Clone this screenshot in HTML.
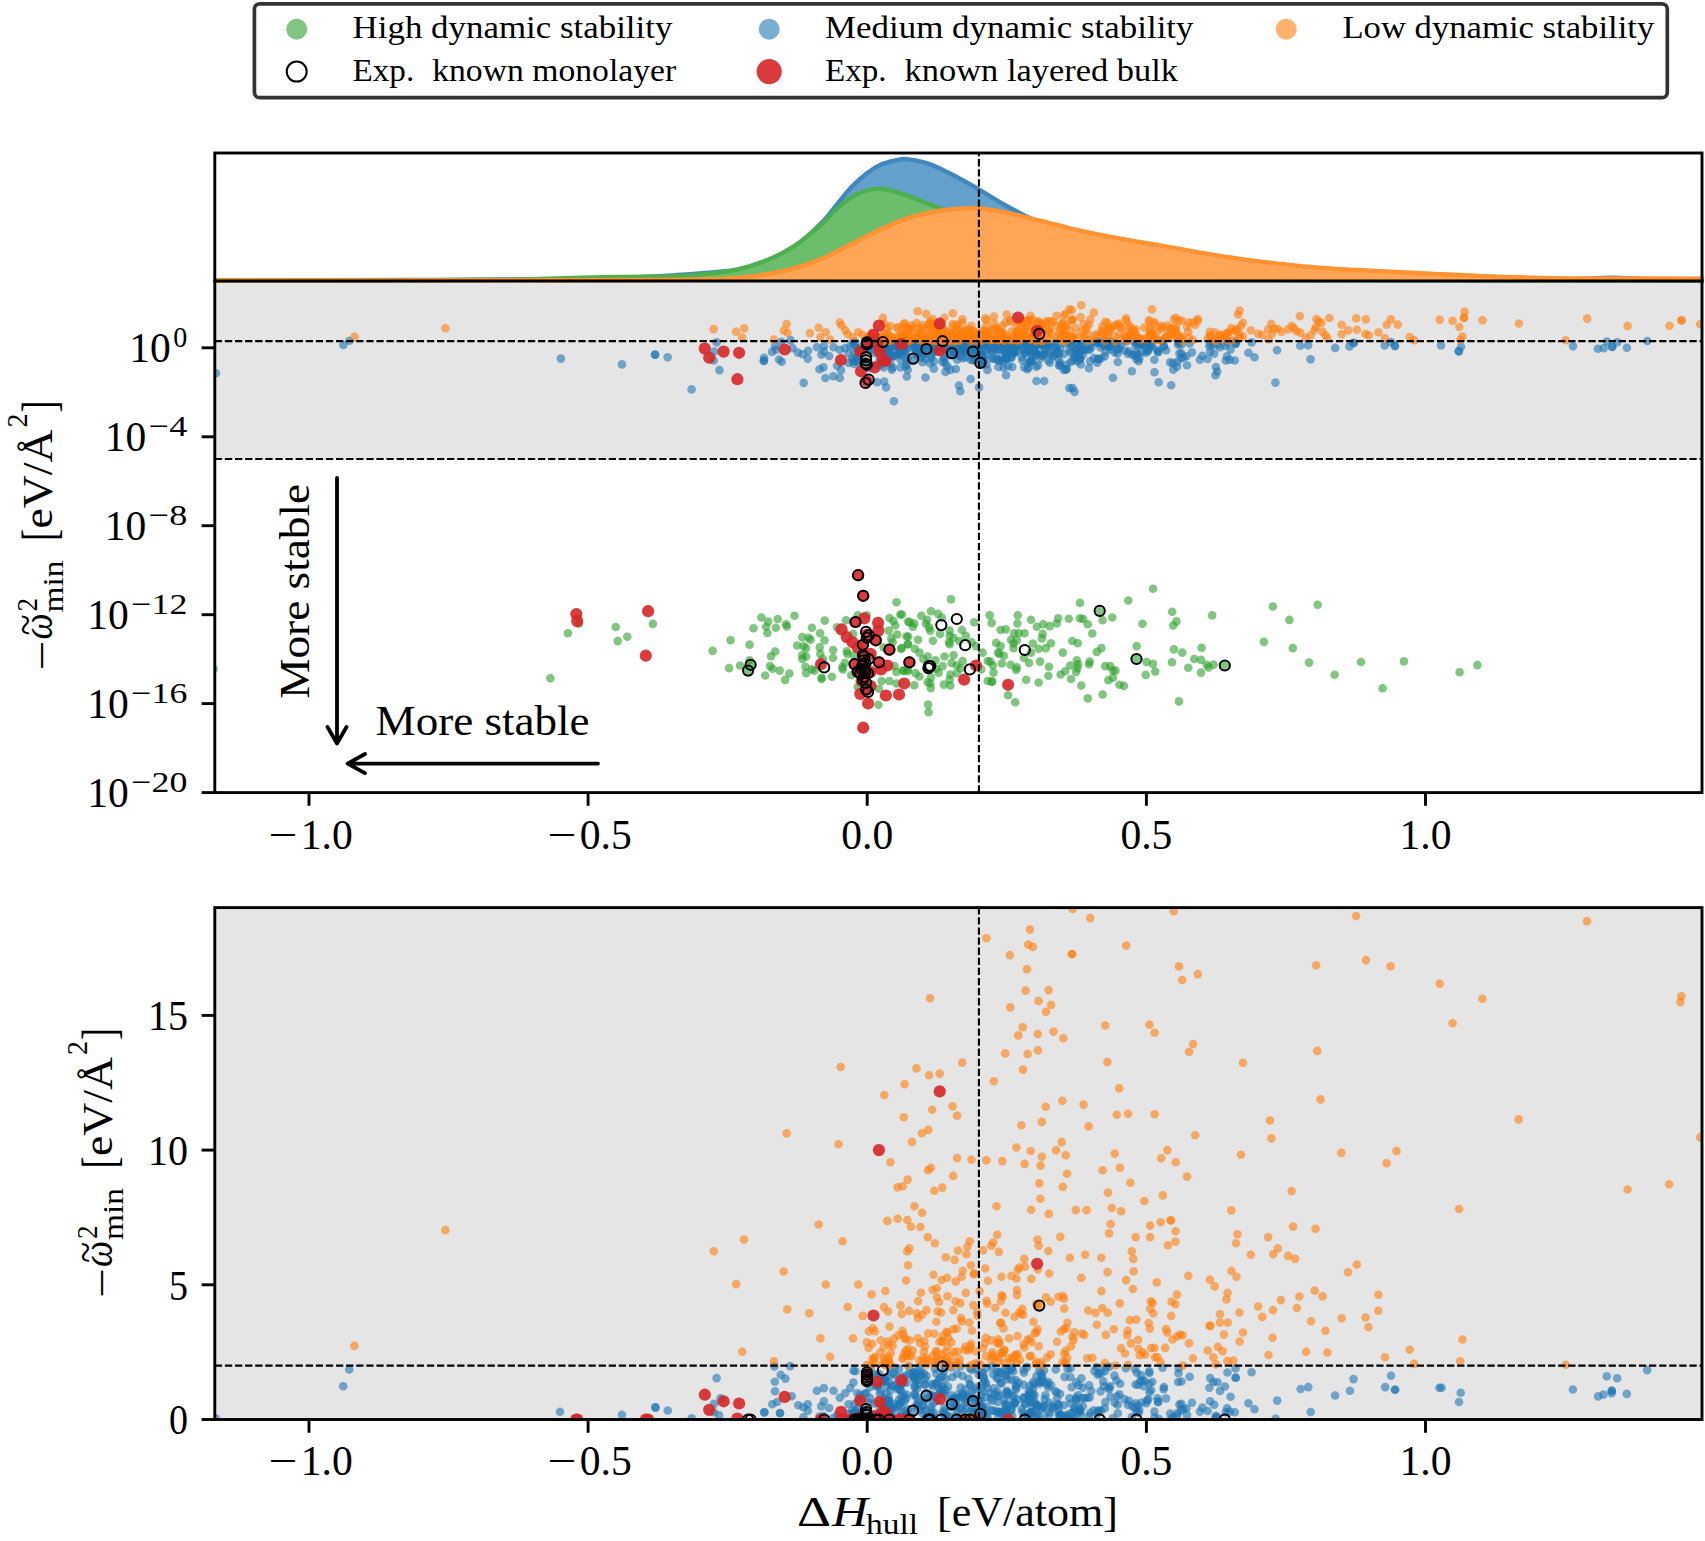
<!DOCTYPE html>
<html><head><meta charset="utf-8"><title>Dynamic stability vs hull energy</title>
<style>html,body{margin:0;padding:0;background:#fff}svg{display:block}</style></head>
<body>
<svg width="1705" height="1541" viewBox="0 0 1705 1541" font-family='"Liberation Serif", "DejaVu Serif", serif' fill="#000">
<defs>
<clipPath id="cA"><rect x="214.8" y="281.0" width="1487.2" height="511.6"/></clipPath>
<clipPath id="cB"><rect x="214.8" y="907.6" width="1487.2" height="511.9"/></clipPath>
<clipPath id="cK"><rect x="214.8" y="153.0" width="1490.2" height="130.0"/></clipPath>
</defs>
<rect width="1705" height="1541" fill="#fff"/>
<rect x="214.8" y="281.0" width="1487.2" height="178.3" fill="#e5e5e5"/>
<rect x="214.8" y="907.6" width="1487.2" height="511.9" fill="#e5e5e5"/>
<g clip-path="url(#cK)">
<path d="M214.8,280.5C245.7,280.4 342.8,280.2 400.0,280.0C457.2,279.8 521.8,279.3 558.0,279.0C594.2,278.7 597.3,278.8 617.0,278.1C636.7,277.5 656.4,276.4 676.0,275.1C695.6,273.8 719.9,272.2 734.6,270.2C749.3,268.2 754.3,266.6 764.0,262.9C773.7,259.2 783.2,255.1 793.0,248.2C802.8,241.3 815.3,229.1 822.6,221.8C829.9,214.5 832.1,210.2 837.0,204.3C841.9,198.4 847.1,191.7 852.0,186.6C856.9,181.5 861.8,177.2 866.6,173.5C871.4,169.8 876.1,166.8 881.0,164.6C885.9,162.4 891.8,161.2 896.0,160.3C900.2,159.4 901.7,158.7 906.5,159.1C911.3,159.5 919.4,161.0 925.0,162.6C930.6,164.2 932.7,165.0 940.0,168.5C947.3,172.0 959.2,178.1 969.0,183.6C978.8,189.1 989.5,196.1 998.5,201.3C1007.5,206.5 1012.8,209.4 1023.0,214.6C1033.2,219.8 1047.2,227.3 1060.0,232.6C1072.8,237.9 1085.0,242.3 1100.0,246.6C1115.0,250.9 1133.3,255.3 1150.0,258.6C1166.7,261.9 1175.0,263.8 1200.0,266.6C1225.0,269.4 1266.7,273.5 1300.0,275.6C1333.3,277.7 1366.7,278.3 1400.0,279.0C1433.3,279.7 1471.7,279.9 1500.0,280.0C1528.3,280.1 1551.5,279.7 1570.0,279.3C1588.5,278.9 1597.7,277.8 1611.0,277.8C1624.3,277.8 1634.5,278.9 1650.0,279.3C1665.5,279.8 1695.0,280.3 1704.0,280.5L1704.0,281.0L214.8,281.0Z" fill="#63a0cc"/>
<path d="M214.8,280.5C245.7,280.4 342.8,280.2 400.0,280.0C457.2,279.8 521.8,279.3 558.0,279.0C594.2,278.7 597.3,278.8 617.0,278.1C636.7,277.5 656.4,276.4 676.0,275.1C695.6,273.8 719.9,272.2 734.6,270.2C749.3,268.2 754.3,266.6 764.0,262.9C773.7,259.2 783.2,255.1 793.0,248.2C802.8,241.3 815.3,229.1 822.6,221.8C829.9,214.5 832.1,210.2 837.0,204.3C841.9,198.4 847.1,191.7 852.0,186.6C856.9,181.5 861.8,177.2 866.6,173.5C871.4,169.8 876.1,166.8 881.0,164.6C885.9,162.4 891.8,161.2 896.0,160.3C900.2,159.4 901.7,158.7 906.5,159.1C911.3,159.5 919.4,161.0 925.0,162.6C930.6,164.2 932.7,165.0 940.0,168.5C947.3,172.0 959.2,178.1 969.0,183.6C978.8,189.1 989.5,196.1 998.5,201.3C1007.5,206.5 1012.8,209.4 1023.0,214.6C1033.2,219.8 1047.2,227.3 1060.0,232.6C1072.8,237.9 1085.0,242.3 1100.0,246.6C1115.0,250.9 1133.3,255.3 1150.0,258.6C1166.7,261.9 1175.0,263.8 1200.0,266.6C1225.0,269.4 1266.7,273.5 1300.0,275.6C1333.3,277.7 1366.7,278.3 1400.0,279.0C1433.3,279.7 1471.7,279.9 1500.0,280.0C1528.3,280.1 1551.5,279.7 1570.0,279.3C1588.5,278.9 1597.7,277.8 1611.0,277.8C1624.3,277.8 1634.5,278.9 1650.0,279.3C1665.5,279.8 1695.0,280.3 1704.0,280.5" fill="none" stroke="#4088bf" stroke-width="4.4"/>
<path d="M214.8,280.6C245.7,280.6 352.5,280.5 400.0,280.4C447.5,280.3 473.6,280.1 500.0,279.8C526.4,279.5 539.1,278.9 558.6,278.4C578.1,277.9 597.4,277.4 617.0,277.0C636.6,276.6 661.3,276.6 676.0,276.1C690.7,275.6 695.2,275.1 705.0,274.1C714.8,273.1 724.8,272.3 734.6,270.2C744.4,268.1 754.3,265.3 764.0,261.4C773.7,257.5 783.2,253.1 793.0,246.8C802.8,240.4 815.3,229.7 822.6,223.3C829.9,216.9 832.1,213.0 837.0,208.6C841.9,204.2 847.1,199.9 852.0,196.9C856.9,193.9 861.8,191.9 866.6,190.5C871.4,189.1 876.1,188.5 881.0,188.7C885.9,188.9 891.1,190.5 896.0,191.9C900.9,193.3 905.8,195.1 910.6,196.9C915.4,198.7 920.1,200.8 925.0,202.8C929.9,204.7 932.7,205.3 940.0,208.6C947.3,211.9 959.2,217.9 969.0,222.6C978.8,227.3 986.7,231.6 998.5,236.6C1010.3,241.6 1026.4,248.1 1040.0,252.6C1053.6,257.1 1066.7,260.6 1080.0,263.6C1093.3,266.6 1106.7,268.7 1120.0,270.6C1133.3,272.5 1146.7,273.9 1160.0,275.1C1173.3,276.3 1185.0,277.0 1200.0,277.6C1215.0,278.2 1233.3,278.6 1250.0,279.0C1266.7,279.4 1224.3,279.8 1300.0,280.0C1375.7,280.2 1636.7,280.4 1704.0,280.5L1704.0,281.0L214.8,281.0Z" fill="#6cbe6c"/>
<path d="M214.8,280.6C245.7,280.6 352.5,280.5 400.0,280.4C447.5,280.3 473.6,280.1 500.0,279.8C526.4,279.5 539.1,278.9 558.6,278.4C578.1,277.9 597.4,277.4 617.0,277.0C636.6,276.6 661.3,276.6 676.0,276.1C690.7,275.6 695.2,275.1 705.0,274.1C714.8,273.1 724.8,272.3 734.6,270.2C744.4,268.1 754.3,265.3 764.0,261.4C773.7,257.5 783.2,253.1 793.0,246.8C802.8,240.4 815.3,229.7 822.6,223.3C829.9,216.9 832.1,213.0 837.0,208.6C841.9,204.2 847.1,199.9 852.0,196.9C856.9,193.9 861.8,191.9 866.6,190.5C871.4,189.1 876.1,188.5 881.0,188.7C885.9,188.9 891.1,190.5 896.0,191.9C900.9,193.3 905.8,195.1 910.6,196.9C915.4,198.7 920.1,200.8 925.0,202.8C929.9,204.7 932.7,205.3 940.0,208.6C947.3,211.9 959.2,217.9 969.0,222.6C978.8,227.3 986.7,231.6 998.5,236.6C1010.3,241.6 1026.4,248.1 1040.0,252.6C1053.6,257.1 1066.7,260.6 1080.0,263.6C1093.3,266.6 1106.7,268.7 1120.0,270.6C1133.3,272.5 1146.7,273.9 1160.0,275.1C1173.3,276.3 1185.0,277.0 1200.0,277.6C1215.0,278.2 1233.3,278.6 1250.0,279.0C1266.7,279.4 1224.3,279.8 1300.0,280.0C1375.7,280.2 1636.7,280.4 1704.0,280.5" fill="none" stroke="#4eaf4e" stroke-width="4.4"/>
<path d="M214.8,280.5C262.3,280.5 427.5,280.4 500.0,280.3C572.5,280.2 615.8,280.2 650.0,280.0C684.2,279.8 690.9,279.6 705.0,279.3C719.1,279.0 724.8,278.9 734.6,278.1C744.4,277.3 754.3,276.2 764.0,274.6C773.7,273.0 783.2,271.3 793.0,268.6C802.8,265.9 812.8,262.6 822.6,258.5C832.4,254.4 842.3,248.7 852.0,243.8C861.7,238.9 871.2,233.6 881.0,229.2C890.8,224.8 900.8,220.5 910.6,217.4C920.4,214.3 929.9,212.2 940.0,210.7C950.1,209.2 961.2,208.1 971.0,208.2C980.8,208.3 987.7,209.1 999.0,211.1C1010.3,213.1 1025.7,217.2 1039.0,220.4C1052.3,223.6 1065.5,227.3 1078.8,230.3C1092.1,233.3 1105.4,235.8 1118.7,238.3C1132.0,240.8 1145.2,242.8 1158.5,245.1C1171.8,247.4 1185.1,250.0 1198.4,252.3C1211.7,254.5 1225.0,256.7 1238.3,258.6C1251.6,260.5 1264.7,262.1 1278.0,263.6C1291.3,265.1 1301.0,266.4 1318.0,267.6C1335.0,268.9 1361.0,270.1 1379.7,271.1C1398.4,272.1 1413.5,272.8 1430.0,273.6C1446.5,274.4 1458.3,275.1 1479.0,275.9C1499.7,276.7 1530.5,277.8 1554.0,278.2C1577.5,278.6 1595.0,278.3 1620.0,278.4C1645.0,278.5 1690.0,278.7 1704.0,278.8L1704.0,281.0L214.8,281.0Z" fill="#ffa556"/>
<path d="M214.8,280.5C262.3,280.5 427.5,280.4 500.0,280.3C572.5,280.2 615.8,280.2 650.0,280.0C684.2,279.8 690.9,279.6 705.0,279.3C719.1,279.0 724.8,278.9 734.6,278.1C744.4,277.3 754.3,276.2 764.0,274.6C773.7,273.0 783.2,271.3 793.0,268.6C802.8,265.9 812.8,262.6 822.6,258.5C832.4,254.4 842.3,248.7 852.0,243.8C861.7,238.9 871.2,233.6 881.0,229.2C890.8,224.8 900.8,220.5 910.6,217.4C920.4,214.3 929.9,212.2 940.0,210.7C950.1,209.2 961.2,208.1 971.0,208.2C980.8,208.3 987.7,209.1 999.0,211.1C1010.3,213.1 1025.7,217.2 1039.0,220.4C1052.3,223.6 1065.5,227.3 1078.8,230.3C1092.1,233.3 1105.4,235.8 1118.7,238.3C1132.0,240.8 1145.2,242.8 1158.5,245.1C1171.8,247.4 1185.1,250.0 1198.4,252.3C1211.7,254.5 1225.0,256.7 1238.3,258.6C1251.6,260.5 1264.7,262.1 1278.0,263.6C1291.3,265.1 1301.0,266.4 1318.0,267.6C1335.0,268.9 1361.0,270.1 1379.7,271.1C1398.4,272.1 1413.5,272.8 1430.0,273.6C1446.5,274.4 1458.3,275.1 1479.0,275.9C1499.7,276.7 1530.5,277.8 1554.0,278.2C1577.5,278.6 1595.0,278.3 1620.0,278.4C1645.0,278.5 1690.0,278.7 1704.0,278.8" fill="none" stroke="#ff9232" stroke-width="4.4"/>
</g>
<g clip-path="url(#cA)" fill="#2ca02c" fill-opacity="0.6" ><circle cx="712.6" cy="650.9" r="4.3"/><circle cx="730.6" cy="640.3" r="4.3"/><circle cx="729.1" cy="668.1" r="4.3"/><circle cx="740.1" cy="665.5" r="4.3"/><circle cx="749.6" cy="644.6" r="4.3"/><circle cx="749.6" cy="660.3" r="4.3"/><circle cx="750.6" cy="664.8" r="4.3"/><circle cx="748.1" cy="670.6" r="4.3"/><circle cx="753.5" cy="628.3" r="4.3"/><circle cx="761.4" cy="617.5" r="4.3"/><circle cx="768.1" cy="621.6" r="4.3"/><circle cx="766.1" cy="626.8" r="4.3"/><circle cx="767.4" cy="633.0" r="4.3"/><circle cx="777.7" cy="619.0" r="4.3"/><circle cx="775.8" cy="627.7" r="4.3"/><circle cx="786.1" cy="624.2" r="4.3"/><circle cx="786.8" cy="626.4" r="4.3"/><circle cx="794.5" cy="615.8" r="4.3"/><circle cx="765.2" cy="675.5" r="4.3"/><circle cx="771.0" cy="656.2" r="4.3"/><circle cx="775.2" cy="651.5" r="4.3"/><circle cx="770.0" cy="666.1" r="4.3"/><circle cx="772.6" cy="668.7" r="4.3"/><circle cx="779.7" cy="670.6" r="4.3"/><circle cx="789.4" cy="673.5" r="4.3"/><circle cx="785.1" cy="679.9" r="4.3"/><circle cx="797.1" cy="645.5" r="4.3"/><circle cx="802.3" cy="637.1" r="4.3"/><circle cx="808.7" cy="637.7" r="4.3"/><circle cx="810.6" cy="639.7" r="4.3"/><circle cx="803.5" cy="646.1" r="4.3"/><circle cx="806.1" cy="648.1" r="4.3"/><circle cx="802.3" cy="655.2" r="4.3"/><circle cx="806.1" cy="656.5" r="4.3"/><circle cx="802.3" cy="659.0" r="4.3"/><circle cx="805.5" cy="666.8" r="4.3"/><circle cx="811.9" cy="669.4" r="4.3"/><circle cx="806.1" cy="673.2" r="4.3"/><circle cx="814.5" cy="670.6" r="4.3"/><circle cx="811.9" cy="627.8" r="4.3"/><circle cx="824.8" cy="620.6" r="4.3"/><circle cx="820.1" cy="633.2" r="4.3"/><circle cx="824.5" cy="640.3" r="4.3"/><circle cx="819.7" cy="647.4" r="4.3"/><circle cx="820.3" cy="653.9" r="4.3"/><circle cx="822.9" cy="659.0" r="4.3"/><circle cx="833.2" cy="650.0" r="4.3"/><circle cx="833.0" cy="657.7" r="4.3"/><circle cx="821.6" cy="677.7" r="4.3"/><circle cx="821.6" cy="679.0" r="4.3"/><circle cx="831.9" cy="676.8" r="4.3"/><circle cx="837.1" cy="627.4" r="4.3"/><circle cx="846.1" cy="620.3" r="4.3"/><circle cx="846.8" cy="651.3" r="4.3"/><circle cx="847.4" cy="653.9" r="4.3"/><circle cx="844.8" cy="662.9" r="4.3"/><circle cx="842.3" cy="667.4" r="4.3"/><circle cx="842.9" cy="669.4" r="4.3"/><circle cx="853.2" cy="633.9" r="4.3"/><circle cx="853.9" cy="655.2" r="4.3"/><circle cx="851.3" cy="675.2" r="4.3"/><circle cx="857.7" cy="615.2" r="4.3"/><circle cx="866.8" cy="615.2" r="4.3"/><circle cx="896.5" cy="602.3" r="4.3"/><circle cx="900.3" cy="614.5" r="4.3"/><circle cx="889.4" cy="618.0" r="4.3"/><circle cx="893.2" cy="621.0" r="4.3"/><circle cx="895.2" cy="625.5" r="4.3"/><circle cx="888.7" cy="630.6" r="4.3"/><circle cx="897.1" cy="634.5" r="4.3"/><circle cx="891.3" cy="638.4" r="4.3"/><circle cx="892.6" cy="642.3" r="4.3"/><circle cx="883.5" cy="647.4" r="4.3"/><circle cx="901.0" cy="648.7" r="4.3"/><circle cx="908.1" cy="636.5" r="4.3"/><circle cx="908.1" cy="621.6" r="4.3"/><circle cx="908.1" cy="644.2" r="4.3"/><circle cx="894.5" cy="666.1" r="4.3"/><circle cx="896.5" cy="671.9" r="4.3"/><circle cx="902.9" cy="670.6" r="4.3"/><circle cx="889.4" cy="681.0" r="4.3"/><circle cx="881.6" cy="681.0" r="4.3"/><circle cx="879.0" cy="688.7" r="4.3"/><circle cx="857.7" cy="686.8" r="4.3"/><circle cx="878.4" cy="704.8" r="4.3"/><circle cx="896.5" cy="683.5" r="4.3"/><circle cx="908.1" cy="669.4" r="4.3"/><circle cx="951.0" cy="599.4" r="4.3"/><circle cx="901.9" cy="614.5" r="4.3"/><circle cx="931.0" cy="611.3" r="4.3"/><circle cx="938.1" cy="613.9" r="4.3"/><circle cx="921.3" cy="615.8" r="4.3"/><circle cx="941.9" cy="617.7" r="4.3"/><circle cx="927.1" cy="619.7" r="4.3"/><circle cx="909.7" cy="622.3" r="4.3"/><circle cx="914.2" cy="623.5" r="4.3"/><circle cx="912.9" cy="626.8" r="4.3"/><circle cx="925.8" cy="623.5" r="4.3"/><circle cx="929.0" cy="627.4" r="4.3"/><circle cx="930.3" cy="630.6" r="4.3"/><circle cx="974.2" cy="622.3" r="4.3"/><circle cx="961.9" cy="630.0" r="4.3"/><circle cx="949.7" cy="630.6" r="4.3"/><circle cx="940.0" cy="633.9" r="4.3"/><circle cx="949.7" cy="635.8" r="4.3"/><circle cx="953.5" cy="637.7" r="4.3"/><circle cx="906.5" cy="636.5" r="4.3"/><circle cx="918.1" cy="639.7" r="4.3"/><circle cx="932.9" cy="640.7" r="4.3"/><circle cx="965.8" cy="635.8" r="4.3"/><circle cx="949.0" cy="642.3" r="4.3"/><circle cx="949.7" cy="644.2" r="4.3"/><circle cx="959.4" cy="641.0" r="4.3"/><circle cx="971.6" cy="642.3" r="4.3"/><circle cx="976.1" cy="646.1" r="4.3"/><circle cx="907.7" cy="644.2" r="4.3"/><circle cx="901.9" cy="648.1" r="4.3"/><circle cx="914.8" cy="648.7" r="4.3"/><circle cx="919.4" cy="652.6" r="4.3"/><circle cx="944.5" cy="656.5" r="4.3"/><circle cx="953.5" cy="655.2" r="4.3"/><circle cx="927.7" cy="656.5" r="4.3"/><circle cx="923.2" cy="659.0" r="4.3"/><circle cx="935.5" cy="660.3" r="4.3"/><circle cx="962.6" cy="661.0" r="4.3"/><circle cx="951.6" cy="662.9" r="4.3"/><circle cx="956.8" cy="665.5" r="4.3"/><circle cx="942.6" cy="666.1" r="4.3"/><circle cx="903.9" cy="670.6" r="4.3"/><circle cx="907.7" cy="671.3" r="4.3"/><circle cx="915.5" cy="673.2" r="4.3"/><circle cx="919.4" cy="676.5" r="4.3"/><circle cx="938.7" cy="672.6" r="4.3"/><circle cx="936.1" cy="668.7" r="4.3"/><circle cx="950.3" cy="674.5" r="4.3"/><circle cx="956.8" cy="673.2" r="4.3"/><circle cx="960.6" cy="668.1" r="4.3"/><circle cx="931.0" cy="677.1" r="4.3"/><circle cx="927.7" cy="682.3" r="4.3"/><circle cx="930.3" cy="683.5" r="4.3"/><circle cx="949.7" cy="679.7" r="4.3"/><circle cx="943.9" cy="684.6" r="4.3"/><circle cx="950.3" cy="685.5" r="4.3"/><circle cx="914.2" cy="685.2" r="4.3"/><circle cx="930.7" cy="688.1" r="4.3"/><circle cx="928.1" cy="704.6" r="4.3"/><circle cx="928.6" cy="712.3" r="4.3"/><circle cx="982.6" cy="652.6" r="4.3"/><circle cx="987.7" cy="661.0" r="4.3"/><circle cx="981.3" cy="669.4" r="4.3"/><circle cx="990.3" cy="661.6" r="4.3"/><circle cx="992.9" cy="665.5" r="4.3"/><circle cx="993.5" cy="672.6" r="4.3"/><circle cx="987.7" cy="681.0" r="4.3"/><circle cx="991.6" cy="681.6" r="4.3"/><circle cx="992.3" cy="681.6" r="4.3"/><circle cx="989.7" cy="615.2" r="4.3"/><circle cx="991.6" cy="622.9" r="4.3"/><circle cx="1000.6" cy="630.0" r="4.3"/><circle cx="1005.8" cy="629.4" r="4.3"/><circle cx="996.1" cy="642.9" r="4.3"/><circle cx="1000.6" cy="646.1" r="4.3"/><circle cx="998.1" cy="652.6" r="4.3"/><circle cx="999.4" cy="653.9" r="4.3"/><circle cx="1003.9" cy="655.8" r="4.3"/><circle cx="1001.9" cy="663.5" r="4.3"/><circle cx="1010.7" cy="664.8" r="4.3"/><circle cx="1016.8" cy="667.4" r="4.3"/><circle cx="1016.1" cy="670.0" r="4.3"/><circle cx="1017.7" cy="615.2" r="4.3"/><circle cx="1017.4" cy="623.5" r="4.3"/><circle cx="1014.2" cy="633.2" r="4.3"/><circle cx="1018.7" cy="633.2" r="4.3"/><circle cx="1024.5" cy="633.2" r="4.3"/><circle cx="1011.0" cy="639.7" r="4.3"/><circle cx="1013.5" cy="643.5" r="4.3"/><circle cx="1013.5" cy="648.1" r="4.3"/><circle cx="1016.8" cy="640.3" r="4.3"/><circle cx="1031.0" cy="619.7" r="4.3"/><circle cx="1036.8" cy="626.8" r="4.3"/><circle cx="1043.2" cy="624.2" r="4.3"/><circle cx="1049.7" cy="626.1" r="4.3"/><circle cx="1042.6" cy="633.9" r="4.3"/><circle cx="1041.9" cy="638.4" r="4.3"/><circle cx="1032.9" cy="643.5" r="4.3"/><circle cx="1038.7" cy="648.7" r="4.3"/><circle cx="1045.8" cy="648.1" r="4.3"/><circle cx="1051.0" cy="643.3" r="4.3"/><circle cx="1031.0" cy="652.6" r="4.3"/><circle cx="1023.9" cy="657.7" r="4.3"/><circle cx="1029.0" cy="662.9" r="4.3"/><circle cx="1040.0" cy="661.6" r="4.3"/><circle cx="1049.0" cy="666.8" r="4.3"/><circle cx="1048.4" cy="675.8" r="4.3"/><circle cx="1026.2" cy="679.7" r="4.3"/><circle cx="1038.7" cy="682.5" r="4.3"/><circle cx="1008.1" cy="695.2" r="4.3"/><circle cx="1015.2" cy="702.3" r="4.3"/><circle cx="1058.1" cy="618.4" r="4.3"/><circle cx="1056.8" cy="623.5" r="4.3"/><circle cx="1068.8" cy="618.8" r="4.3"/><circle cx="1080.0" cy="602.9" r="4.3"/><circle cx="1080.0" cy="618.4" r="4.3"/><circle cx="1083.2" cy="619.0" r="4.3"/><circle cx="1087.7" cy="624.2" r="4.3"/><circle cx="1092.3" cy="633.5" r="4.3"/><circle cx="1072.3" cy="641.0" r="4.3"/><circle cx="1077.8" cy="643.3" r="4.3"/><circle cx="1062.8" cy="652.6" r="4.3"/><circle cx="1099.7" cy="611.3" r="4.3"/><circle cx="1102.6" cy="620.3" r="4.3"/><circle cx="1112.3" cy="617.5" r="4.3"/><circle cx="1101.5" cy="648.1" r="4.3"/><circle cx="1096.8" cy="651.9" r="4.3"/><circle cx="1076.8" cy="660.3" r="4.3"/><circle cx="1078.1" cy="664.2" r="4.3"/><circle cx="1070.3" cy="665.5" r="4.3"/><circle cx="1077.4" cy="668.1" r="4.3"/><circle cx="1076.1" cy="671.9" r="4.3"/><circle cx="1089.7" cy="661.6" r="4.3"/><circle cx="1089.0" cy="664.2" r="4.3"/><circle cx="1065.2" cy="671.3" r="4.3"/><circle cx="1060.6" cy="674.5" r="4.3"/><circle cx="1071.0" cy="679.0" r="4.3"/><circle cx="1081.3" cy="685.5" r="4.3"/><circle cx="1087.7" cy="698.4" r="4.3"/><circle cx="1102.6" cy="694.5" r="4.3"/><circle cx="1105.2" cy="666.1" r="4.3"/><circle cx="1110.3" cy="666.1" r="4.3"/><circle cx="1112.9" cy="670.6" r="4.3"/><circle cx="1115.5" cy="670.6" r="4.3"/><circle cx="1112.9" cy="677.7" r="4.3"/><circle cx="1108.4" cy="680.3" r="4.3"/><circle cx="1119.4" cy="684.8" r="4.3"/><circle cx="1153.0" cy="588.7" r="4.3"/><circle cx="1128.3" cy="600.5" r="4.3"/><circle cx="1172.2" cy="611.7" r="4.3"/><circle cx="1176.5" cy="621.4" r="4.3"/><circle cx="1173.2" cy="625.5" r="4.3"/><circle cx="1142.5" cy="623.8" r="4.3"/><circle cx="1212.2" cy="615.4" r="4.3"/><circle cx="1272.8" cy="606.5" r="4.3"/><circle cx="1317.7" cy="604.8" r="4.3"/><circle cx="1289.4" cy="619.9" r="4.3"/><circle cx="1263.9" cy="641.9" r="4.3"/><circle cx="1292.8" cy="648.1" r="4.3"/><circle cx="1309.1" cy="662.6" r="4.3"/><circle cx="1136.7" cy="646.1" r="4.3"/><circle cx="1136.5" cy="659.0" r="4.3"/><circle cx="1146.5" cy="662.0" r="4.3"/><circle cx="1153.0" cy="663.9" r="4.3"/><circle cx="1155.2" cy="671.5" r="4.3"/><circle cx="1145.7" cy="674.9" r="4.3"/><circle cx="1123.9" cy="685.9" r="4.3"/><circle cx="1173.9" cy="649.4" r="4.3"/><circle cx="1182.3" cy="652.6" r="4.3"/><circle cx="1171.9" cy="662.3" r="4.3"/><circle cx="1201.6" cy="647.8" r="4.3"/><circle cx="1194.3" cy="659.0" r="4.3"/><circle cx="1201.0" cy="659.9" r="4.3"/><circle cx="1188.3" cy="667.8" r="4.3"/><circle cx="1206.8" cy="664.8" r="4.3"/><circle cx="1208.7" cy="667.4" r="4.3"/><circle cx="1213.6" cy="664.6" r="4.3"/><circle cx="1201.0" cy="672.6" r="4.3"/><circle cx="1224.8" cy="665.5" r="4.3"/><circle cx="1179.0" cy="701.4" r="4.3"/><circle cx="1334.6" cy="674.8" r="4.3"/><circle cx="1361.0" cy="662.0" r="4.3"/><circle cx="1403.9" cy="661.4" r="4.3"/><circle cx="1382.6" cy="688.3" r="4.3"/><circle cx="1459.6" cy="672.3" r="4.3"/><circle cx="1477.4" cy="665.1" r="4.3"/><circle cx="550.4" cy="678.2" r="4.3"/><circle cx="567.9" cy="633.2" r="4.3"/><circle cx="579.1" cy="623.6" r="4.3"/><circle cx="615.7" cy="627.0" r="4.3"/><circle cx="617.7" cy="641.1" r="4.3"/><circle cx="627.3" cy="636.8" r="4.3"/><circle cx="652.9" cy="623.9" r="4.3"/><circle cx="213.6" cy="668.7" r="4.3"/></g>
<g clip-path="url(#cA)" fill="#1f77b4" fill-opacity="0.6" ><circle cx="560.9" cy="358.6" r="4.3"/><circle cx="621.9" cy="364.4" r="4.3"/><circle cx="655.0" cy="354.6" r="4.3"/><circle cx="655.2" cy="354.8" r="4.3"/><circle cx="667.7" cy="357.2" r="4.3"/><circle cx="691.6" cy="389.4" r="4.3"/><circle cx="716.6" cy="342.4" r="4.3"/><circle cx="714.3" cy="351.6" r="4.3"/><circle cx="713.6" cy="360.4" r="4.3"/><circle cx="719.4" cy="370.1" r="4.3"/><circle cx="764.1" cy="357.7" r="4.3"/><circle cx="763.8" cy="360.7" r="4.3"/><circle cx="763.9" cy="360.9" r="4.3"/><circle cx="772.0" cy="351.9" r="4.3"/><circle cx="775.0" cy="346.3" r="4.3"/><circle cx="776.1" cy="349.8" r="4.3"/><circle cx="779.1" cy="359.5" r="4.3"/><circle cx="781.7" cy="361.8" r="4.3"/><circle cx="781.4" cy="341.9" r="4.3"/><circle cx="790.5" cy="340.1" r="4.3"/><circle cx="792.6" cy="348.1" r="4.3"/><circle cx="797.9" cy="352.6" r="4.3"/><circle cx="802.8" cy="354.2" r="4.3"/><circle cx="808.1" cy="350.7" r="4.3"/><circle cx="807.8" cy="358.6" r="4.3"/><circle cx="803.7" cy="382.9" r="4.3"/><circle cx="816.9" cy="347.2" r="4.3"/><circle cx="823.9" cy="346.3" r="4.3"/><circle cx="821.3" cy="354.8" r="4.3"/><circle cx="823.9" cy="351.6" r="4.3"/><circle cx="829.2" cy="356.0" r="4.3"/><circle cx="833.6" cy="347.2" r="4.3"/><circle cx="819.5" cy="369.2" r="4.3"/><circle cx="823.4" cy="367.4" r="4.3"/><circle cx="825.4" cy="378.0" r="4.3"/><circle cx="833.3" cy="376.2" r="4.3"/><circle cx="839.8" cy="378.0" r="4.3"/><circle cx="841.0" cy="370.1" r="4.3"/><circle cx="837.1" cy="365.7" r="4.3"/><circle cx="839.8" cy="349.8" r="4.3"/><circle cx="845.1" cy="348.1" r="4.3"/><circle cx="850.3" cy="346.3" r="4.3"/><circle cx="848.6" cy="353.3" r="4.3"/><circle cx="852.1" cy="358.6" r="4.3"/><circle cx="848.6" cy="363.0" r="4.3"/><circle cx="853.9" cy="363.9" r="4.3"/><circle cx="857.4" cy="348.1" r="4.3"/><circle cx="349.4" cy="340.7" r="4.3"/><circle cx="343.4" cy="344.9" r="4.3"/><circle cx="215.9" cy="373.2" r="4.3"/><circle cx="893.9" cy="401.2" r="4.3"/><circle cx="925.5" cy="377.5" r="4.3"/><circle cx="945.5" cy="371.9" r="4.3"/><circle cx="959.0" cy="385.5" r="4.3"/><circle cx="960.3" cy="391.3" r="4.3"/><circle cx="979.0" cy="387.4" r="4.3"/><circle cx="970.6" cy="379.0" r="4.3"/><circle cx="1006.1" cy="375.2" r="4.3"/><circle cx="1036.5" cy="381.0" r="4.3"/><circle cx="1044.2" cy="381.0" r="4.3"/><circle cx="1059.0" cy="365.5" r="4.3"/><circle cx="1024.2" cy="367.4" r="4.3"/><circle cx="886.1" cy="387.4" r="4.3"/><circle cx="884.2" cy="381.6" r="4.3"/><circle cx="877.1" cy="382.3" r="4.3"/><circle cx="1069.4" cy="388.1" r="4.3"/><circle cx="906.8" cy="376.5" r="4.3"/><circle cx="1060.0" cy="365.5" r="4.3"/><circle cx="1131.9" cy="371.3" r="4.3"/><circle cx="1112.9" cy="377.7" r="4.3"/><circle cx="1072.6" cy="388.1" r="4.3"/><circle cx="1074.6" cy="391.9" r="4.3"/><circle cx="1154.5" cy="372.3" r="4.3"/><circle cx="1158.7" cy="382.3" r="4.3"/><circle cx="1171.2" cy="385.2" r="4.3"/><circle cx="1172.9" cy="363.3" r="4.3"/><circle cx="1173.3" cy="369.6" r="4.3"/><circle cx="1215.9" cy="367.0" r="4.3"/><circle cx="1217.2" cy="371.5" r="4.3"/><circle cx="1215.5" cy="375.2" r="4.3"/><circle cx="1277.1" cy="350.3" r="4.3"/><circle cx="1275.4" cy="382.6" r="4.3"/><circle cx="1300.3" cy="345.7" r="4.3"/><circle cx="1308.1" cy="345.2" r="4.3"/><circle cx="1310.6" cy="359.4" r="4.3"/><circle cx="1335.2" cy="347.9" r="4.3"/><circle cx="1349.4" cy="346.4" r="4.3"/><circle cx="1353.6" cy="342.9" r="4.3"/><circle cx="1353.7" cy="343.0" r="4.3"/><circle cx="1384.8" cy="345.5" r="4.3"/><circle cx="1391.0" cy="342.0" r="4.3"/><circle cx="1394.9" cy="345.9" r="4.3"/><circle cx="1395.0" cy="346.0" r="4.3"/><circle cx="1441.0" cy="345.5" r="4.3"/><circle cx="1461.0" cy="346.8" r="4.3"/><circle cx="1458.8" cy="351.3" r="4.3"/><circle cx="1458.9" cy="351.4" r="4.3"/><circle cx="1573.0" cy="346.1" r="4.3"/><circle cx="1606.9" cy="341.6" r="4.3"/><circle cx="1617.3" cy="342.3" r="4.3"/><circle cx="1612.1" cy="346.8" r="4.3"/><circle cx="1612.2" cy="346.9" r="4.3"/><circle cx="1603.7" cy="348.1" r="4.3"/><circle cx="1597.9" cy="348.7" r="4.3"/><circle cx="1626.9" cy="347.7" r="4.3"/><circle cx="1647.3" cy="341.0" r="4.3"/><circle cx="1033.9" cy="345.2" r="4.3"/><circle cx="887.4" cy="351.3" r="4.3"/><circle cx="949.5" cy="351.4" r="4.3"/><circle cx="1028.3" cy="367.8" r="4.3"/><circle cx="936.7" cy="351.2" r="4.3"/><circle cx="914.9" cy="342.5" r="4.3"/><circle cx="962.8" cy="348.1" r="4.3"/><circle cx="932.6" cy="345.8" r="4.3"/><circle cx="918.5" cy="345.3" r="4.3"/><circle cx="1032.5" cy="361.0" r="4.3"/><circle cx="918.8" cy="351.4" r="4.3"/><circle cx="1032.0" cy="355.8" r="4.3"/><circle cx="917.2" cy="346.5" r="4.3"/><circle cx="892.1" cy="355.8" r="4.3"/><circle cx="1024.1" cy="342.5" r="4.3"/><circle cx="1039.6" cy="345.1" r="4.3"/><circle cx="912.9" cy="342.4" r="4.3"/><circle cx="889.0" cy="344.7" r="4.3"/><circle cx="942.3" cy="361.6" r="4.3"/><circle cx="884.4" cy="356.6" r="4.3"/><circle cx="1033.1" cy="348.1" r="4.3"/><circle cx="916.4" cy="349.6" r="4.3"/><circle cx="1012.2" cy="366.9" r="4.3"/><circle cx="957.9" cy="348.6" r="4.3"/><circle cx="914.1" cy="348.8" r="4.3"/><circle cx="888.7" cy="349.7" r="4.3"/><circle cx="1003.6" cy="367.8" r="4.3"/><circle cx="893.8" cy="345.6" r="4.3"/><circle cx="1000.6" cy="345.0" r="4.3"/><circle cx="926.5" cy="343.2" r="4.3"/><circle cx="924.9" cy="345.1" r="4.3"/><circle cx="927.0" cy="350.3" r="4.3"/><circle cx="1027.0" cy="341.4" r="4.3"/><circle cx="887.8" cy="354.3" r="4.3"/><circle cx="1033.3" cy="344.6" r="4.3"/><circle cx="923.2" cy="354.0" r="4.3"/><circle cx="1028.8" cy="349.8" r="4.3"/><circle cx="999.2" cy="342.3" r="4.3"/><circle cx="978.7" cy="357.4" r="4.3"/><circle cx="940.4" cy="347.1" r="4.3"/><circle cx="914.8" cy="345.7" r="4.3"/><circle cx="894.1" cy="353.0" r="4.3"/><circle cx="934.8" cy="341.7" r="4.3"/><circle cx="1038.1" cy="365.1" r="4.3"/><circle cx="899.0" cy="350.9" r="4.3"/><circle cx="953.7" cy="355.3" r="4.3"/><circle cx="980.8" cy="342.4" r="4.3"/><circle cx="1016.1" cy="346.7" r="4.3"/><circle cx="1015.2" cy="352.8" r="4.3"/><circle cx="942.2" cy="346.0" r="4.3"/><circle cx="922.6" cy="362.2" r="4.3"/><circle cx="1021.9" cy="357.2" r="4.3"/><circle cx="945.8" cy="343.8" r="4.3"/><circle cx="920.1" cy="342.9" r="4.3"/><circle cx="1038.6" cy="354.3" r="4.3"/><circle cx="1011.8" cy="341.5" r="4.3"/><circle cx="890.3" cy="363.5" r="4.3"/><circle cx="913.6" cy="343.4" r="4.3"/><circle cx="1029.1" cy="349.1" r="4.3"/><circle cx="954.1" cy="350.1" r="4.3"/><circle cx="1031.5" cy="352.4" r="4.3"/><circle cx="980.7" cy="356.3" r="4.3"/><circle cx="906.1" cy="359.0" r="4.3"/><circle cx="977.5" cy="346.0" r="4.3"/><circle cx="885.8" cy="351.3" r="4.3"/><circle cx="912.9" cy="360.5" r="4.3"/><circle cx="1008.1" cy="366.1" r="4.3"/><circle cx="899.8" cy="353.1" r="4.3"/><circle cx="983.7" cy="361.8" r="4.3"/><circle cx="992.5" cy="358.2" r="4.3"/><circle cx="932.0" cy="345.2" r="4.3"/><circle cx="972.4" cy="355.3" r="4.3"/><circle cx="1018.8" cy="344.8" r="4.3"/><circle cx="914.8" cy="346.0" r="4.3"/><circle cx="884.9" cy="344.4" r="4.3"/><circle cx="1012.0" cy="348.9" r="4.3"/><circle cx="955.9" cy="369.0" r="4.3"/><circle cx="970.0" cy="341.6" r="4.3"/><circle cx="897.9" cy="344.8" r="4.3"/><circle cx="962.7" cy="358.2" r="4.3"/><circle cx="965.3" cy="346.8" r="4.3"/><circle cx="960.5" cy="341.3" r="4.3"/><circle cx="914.8" cy="348.3" r="4.3"/><circle cx="1036.2" cy="366.7" r="4.3"/><circle cx="1028.5" cy="348.7" r="4.3"/><circle cx="980.8" cy="346.4" r="4.3"/><circle cx="1006.6" cy="355.6" r="4.3"/><circle cx="1016.0" cy="346.2" r="4.3"/><circle cx="918.0" cy="353.6" r="4.3"/><circle cx="943.8" cy="359.2" r="4.3"/><circle cx="997.1" cy="347.4" r="4.3"/><circle cx="971.7" cy="347.4" r="4.3"/><circle cx="1014.8" cy="352.3" r="4.3"/><circle cx="969.8" cy="345.2" r="4.3"/><circle cx="949.5" cy="355.2" r="4.3"/><circle cx="986.8" cy="354.9" r="4.3"/><circle cx="887.6" cy="354.0" r="4.3"/><circle cx="920.7" cy="342.2" r="4.3"/><circle cx="955.5" cy="354.3" r="4.3"/><circle cx="900.7" cy="355.1" r="4.3"/><circle cx="898.3" cy="353.7" r="4.3"/><circle cx="890.4" cy="347.0" r="4.3"/><circle cx="998.4" cy="343.8" r="4.3"/><circle cx="892.5" cy="356.1" r="4.3"/><circle cx="1032.3" cy="349.2" r="4.3"/><circle cx="1039.4" cy="342.0" r="4.3"/><circle cx="914.2" cy="343.9" r="4.3"/><circle cx="1033.2" cy="346.3" r="4.3"/><circle cx="1007.0" cy="347.2" r="4.3"/><circle cx="938.7" cy="346.4" r="4.3"/><circle cx="1023.9" cy="349.6" r="4.3"/><circle cx="906.4" cy="348.6" r="4.3"/><circle cx="916.5" cy="353.7" r="4.3"/><circle cx="933.8" cy="361.2" r="4.3"/><circle cx="909.2" cy="342.8" r="4.3"/><circle cx="1023.7" cy="350.0" r="4.3"/><circle cx="902.0" cy="351.8" r="4.3"/><circle cx="940.1" cy="343.5" r="4.3"/><circle cx="974.5" cy="346.8" r="4.3"/><circle cx="1038.9" cy="344.6" r="4.3"/><circle cx="1008.4" cy="347.9" r="4.3"/><circle cx="974.1" cy="350.2" r="4.3"/><circle cx="953.0" cy="350.5" r="4.3"/><circle cx="891.5" cy="345.6" r="4.3"/><circle cx="983.7" cy="343.3" r="4.3"/><circle cx="987.5" cy="369.9" r="4.3"/><circle cx="889.3" cy="352.1" r="4.3"/><circle cx="951.4" cy="348.8" r="4.3"/><circle cx="904.6" cy="351.6" r="4.3"/><circle cx="887.5" cy="356.6" r="4.3"/><circle cx="900.6" cy="359.8" r="4.3"/><circle cx="975.0" cy="360.5" r="4.3"/><circle cx="981.3" cy="362.9" r="4.3"/><circle cx="1030.1" cy="362.3" r="4.3"/><circle cx="898.9" cy="341.7" r="4.3"/><circle cx="1006.0" cy="358.7" r="4.3"/><circle cx="885.8" cy="343.5" r="4.3"/><circle cx="938.7" cy="344.3" r="4.3"/><circle cx="1030.2" cy="345.7" r="4.3"/><circle cx="1024.9" cy="353.3" r="4.3"/><circle cx="947.3" cy="366.4" r="4.3"/><circle cx="1005.5" cy="353.0" r="4.3"/><circle cx="1030.8" cy="360.6" r="4.3"/><circle cx="978.9" cy="351.7" r="4.3"/><circle cx="1010.9" cy="357.6" r="4.3"/><circle cx="930.8" cy="348.9" r="4.3"/><circle cx="1006.1" cy="347.7" r="4.3"/><circle cx="1015.7" cy="344.1" r="4.3"/><circle cx="999.7" cy="359.8" r="4.3"/><circle cx="900.4" cy="367.5" r="4.3"/><circle cx="936.3" cy="342.7" r="4.3"/><circle cx="1015.9" cy="345.5" r="4.3"/><circle cx="970.4" cy="349.9" r="4.3"/><circle cx="965.6" cy="351.7" r="4.3"/><circle cx="1034.6" cy="349.0" r="4.3"/><circle cx="886.4" cy="359.5" r="4.3"/><circle cx="1000.0" cy="342.4" r="4.3"/><circle cx="935.0" cy="345.1" r="4.3"/><circle cx="921.3" cy="343.1" r="4.3"/><circle cx="992.1" cy="341.2" r="4.3"/><circle cx="957.2" cy="342.7" r="4.3"/><circle cx="1017.8" cy="350.7" r="4.3"/><circle cx="973.0" cy="360.2" r="4.3"/><circle cx="981.1" cy="348.6" r="4.3"/><circle cx="906.6" cy="364.1" r="4.3"/><circle cx="1028.9" cy="362.6" r="4.3"/><circle cx="888.5" cy="351.1" r="4.3"/><circle cx="982.9" cy="342.5" r="4.3"/><circle cx="894.3" cy="356.4" r="4.3"/><circle cx="1011.5" cy="341.6" r="4.3"/><circle cx="894.3" cy="341.5" r="4.3"/><circle cx="1031.3" cy="360.4" r="4.3"/><circle cx="901.5" cy="349.3" r="4.3"/><circle cx="1010.7" cy="342.0" r="4.3"/><circle cx="982.5" cy="364.4" r="4.3"/><circle cx="899.3" cy="346.0" r="4.3"/><circle cx="933.8" cy="368.6" r="4.3"/><circle cx="924.0" cy="350.8" r="4.3"/><circle cx="941.4" cy="348.1" r="4.3"/><circle cx="962.6" cy="343.2" r="4.3"/><circle cx="888.8" cy="355.0" r="4.3"/><circle cx="1004.6" cy="350.9" r="4.3"/><circle cx="967.9" cy="349.1" r="4.3"/><circle cx="898.2" cy="346.3" r="4.3"/><circle cx="884.2" cy="350.2" r="4.3"/><circle cx="1036.5" cy="354.0" r="4.3"/><circle cx="960.7" cy="346.2" r="4.3"/><circle cx="961.2" cy="349.5" r="4.3"/><circle cx="924.6" cy="345.4" r="4.3"/><circle cx="917.5" cy="343.9" r="4.3"/><circle cx="901.1" cy="347.0" r="4.3"/><circle cx="1006.9" cy="342.2" r="4.3"/><circle cx="982.0" cy="355.6" r="4.3"/><circle cx="945.6" cy="347.0" r="4.3"/><circle cx="1022.6" cy="360.4" r="4.3"/><circle cx="925.1" cy="343.9" r="4.3"/><circle cx="943.2" cy="345.8" r="4.3"/><circle cx="955.9" cy="350.3" r="4.3"/><circle cx="1001.5" cy="344.9" r="4.3"/><circle cx="935.0" cy="349.3" r="4.3"/><circle cx="987.3" cy="346.3" r="4.3"/><circle cx="952.5" cy="343.4" r="4.3"/><circle cx="903.7" cy="348.9" r="4.3"/><circle cx="921.1" cy="357.8" r="4.3"/><circle cx="993.7" cy="346.4" r="4.3"/><circle cx="908.3" cy="357.2" r="4.3"/><circle cx="965.5" cy="357.2" r="4.3"/><circle cx="913.5" cy="342.5" r="4.3"/><circle cx="899.9" cy="346.9" r="4.3"/><circle cx="943.9" cy="342.2" r="4.3"/><circle cx="998.4" cy="360.7" r="4.3"/><circle cx="983.5" cy="360.4" r="4.3"/><circle cx="944.6" cy="355.7" r="4.3"/><circle cx="1007.4" cy="343.9" r="4.3"/><circle cx="982.7" cy="362.6" r="4.3"/><circle cx="978.2" cy="350.5" r="4.3"/><circle cx="1025.6" cy="352.7" r="4.3"/><circle cx="1000.9" cy="359.7" r="4.3"/><circle cx="996.7" cy="342.3" r="4.3"/><circle cx="993.2" cy="342.8" r="4.3"/><circle cx="984.1" cy="357.5" r="4.3"/><circle cx="982.0" cy="355.3" r="4.3"/><circle cx="1006.1" cy="343.1" r="4.3"/><circle cx="923.0" cy="354.6" r="4.3"/><circle cx="981.0" cy="351.3" r="4.3"/><circle cx="1029.1" cy="351.6" r="4.3"/><circle cx="1005.4" cy="354.0" r="4.3"/><circle cx="1036.0" cy="353.2" r="4.3"/><circle cx="909.1" cy="341.4" r="4.3"/><circle cx="965.0" cy="352.7" r="4.3"/><circle cx="968.4" cy="343.8" r="4.3"/><circle cx="983.7" cy="343.7" r="4.3"/><circle cx="948.0" cy="346.0" r="4.3"/><circle cx="990.8" cy="350.2" r="4.3"/><circle cx="903.1" cy="344.9" r="4.3"/><circle cx="892.8" cy="355.7" r="4.3"/><circle cx="886.1" cy="355.2" r="4.3"/><circle cx="992.9" cy="358.7" r="4.3"/><circle cx="919.0" cy="341.4" r="4.3"/><circle cx="966.2" cy="349.8" r="4.3"/><circle cx="945.1" cy="363.1" r="4.3"/><circle cx="1005.2" cy="343.1" r="4.3"/><circle cx="957.2" cy="359.8" r="4.3"/><circle cx="1034.4" cy="351.8" r="4.3"/><circle cx="1011.7" cy="344.1" r="4.3"/><circle cx="929.9" cy="363.3" r="4.3"/><circle cx="1014.1" cy="349.3" r="4.3"/><circle cx="925.7" cy="359.0" r="4.3"/><circle cx="950.5" cy="369.9" r="4.3"/><circle cx="996.6" cy="359.3" r="4.3"/><circle cx="931.1" cy="355.1" r="4.3"/><circle cx="983.4" cy="344.8" r="4.3"/><circle cx="1028.9" cy="347.3" r="4.3"/><circle cx="1013.2" cy="342.2" r="4.3"/><circle cx="905.9" cy="343.1" r="4.3"/><circle cx="886.3" cy="348.3" r="4.3"/><circle cx="986.3" cy="364.3" r="4.3"/><circle cx="906.3" cy="350.1" r="4.3"/><circle cx="938.0" cy="348.7" r="4.3"/><circle cx="1007.5" cy="348.8" r="4.3"/><circle cx="978.9" cy="342.9" r="4.3"/><circle cx="1023.5" cy="341.9" r="4.3"/><circle cx="914.8" cy="343.7" r="4.3"/><circle cx="999.7" cy="348.9" r="4.3"/><circle cx="970.6" cy="359.6" r="4.3"/><circle cx="905.7" cy="366.4" r="4.3"/><circle cx="956.9" cy="354.0" r="4.3"/><circle cx="961.7" cy="349.1" r="4.3"/><circle cx="885.0" cy="344.1" r="4.3"/><circle cx="971.8" cy="341.9" r="4.3"/><circle cx="942.5" cy="348.2" r="4.3"/><circle cx="895.8" cy="343.0" r="4.3"/><circle cx="888.5" cy="351.2" r="4.3"/><circle cx="1029.3" cy="348.0" r="4.3"/><circle cx="963.7" cy="348.8" r="4.3"/><circle cx="889.3" cy="343.1" r="4.3"/><circle cx="936.8" cy="344.8" r="4.3"/><circle cx="958.0" cy="350.1" r="4.3"/><circle cx="916.9" cy="355.2" r="4.3"/><circle cx="970.4" cy="345.3" r="4.3"/><circle cx="1013.1" cy="353.8" r="4.3"/><circle cx="926.4" cy="348.0" r="4.3"/><circle cx="986.1" cy="345.0" r="4.3"/><circle cx="933.5" cy="352.5" r="4.3"/><circle cx="983.0" cy="347.4" r="4.3"/><circle cx="996.7" cy="343.6" r="4.3"/><circle cx="891.8" cy="369.6" r="4.3"/><circle cx="913.6" cy="343.2" r="4.3"/><circle cx="986.7" cy="341.6" r="4.3"/><circle cx="979.4" cy="351.9" r="4.3"/><circle cx="992.6" cy="351.2" r="4.3"/><circle cx="917.2" cy="344.2" r="4.3"/><circle cx="1003.0" cy="361.2" r="4.3"/><circle cx="889.8" cy="341.5" r="4.3"/><circle cx="986.3" cy="349.6" r="4.3"/><circle cx="1006.7" cy="358.9" r="4.3"/><circle cx="931.1" cy="357.4" r="4.3"/><circle cx="951.2" cy="341.4" r="4.3"/><circle cx="892.5" cy="367.5" r="4.3"/><circle cx="902.5" cy="343.4" r="4.3"/><circle cx="1027.3" cy="369.1" r="4.3"/><circle cx="944.4" cy="348.4" r="4.3"/><circle cx="1037.0" cy="355.4" r="4.3"/><circle cx="899.9" cy="345.9" r="4.3"/><circle cx="907.7" cy="369.7" r="4.3"/><circle cx="990.7" cy="348.1" r="4.3"/><circle cx="897.7" cy="346.6" r="4.3"/><circle cx="886.8" cy="345.7" r="4.3"/><circle cx="998.4" cy="366.9" r="4.3"/><circle cx="1004.7" cy="341.8" r="4.3"/><circle cx="997.8" cy="351.9" r="4.3"/><circle cx="994.6" cy="348.4" r="4.3"/><circle cx="923.6" cy="342.6" r="4.3"/><circle cx="885.8" cy="351.6" r="4.3"/><circle cx="1011.5" cy="357.6" r="4.3"/><circle cx="997.8" cy="349.2" r="4.3"/><circle cx="959.9" cy="356.3" r="4.3"/><circle cx="973.7" cy="351.3" r="4.3"/><circle cx="906.6" cy="344.8" r="4.3"/><circle cx="984.6" cy="344.4" r="4.3"/><circle cx="944.2" cy="341.4" r="4.3"/><circle cx="1006.4" cy="358.0" r="4.3"/><circle cx="893.5" cy="342.7" r="4.3"/><circle cx="1013.1" cy="352.2" r="4.3"/><circle cx="1036.5" cy="343.3" r="4.3"/><circle cx="932.1" cy="348.9" r="4.3"/><circle cx="942.8" cy="343.2" r="4.3"/><circle cx="1023.8" cy="345.4" r="4.3"/><circle cx="884.3" cy="355.2" r="4.3"/><circle cx="975.5" cy="341.7" r="4.3"/><circle cx="853.4" cy="342.1" r="4.3"/><circle cx="879.8" cy="358.5" r="4.3"/><circle cx="879.2" cy="342.8" r="4.3"/><circle cx="881.2" cy="365.0" r="4.3"/><circle cx="869.7" cy="346.0" r="4.3"/><circle cx="876.0" cy="345.8" r="4.3"/><circle cx="871.4" cy="344.1" r="4.3"/><circle cx="858.6" cy="350.4" r="4.3"/><circle cx="877.3" cy="364.9" r="4.3"/><circle cx="877.8" cy="345.8" r="4.3"/><circle cx="870.5" cy="341.7" r="4.3"/><circle cx="868.7" cy="352.5" r="4.3"/><circle cx="858.1" cy="361.2" r="4.3"/><circle cx="874.4" cy="352.8" r="4.3"/><circle cx="864.9" cy="362.3" r="4.3"/><circle cx="853.4" cy="344.7" r="4.3"/><circle cx="855.4" cy="342.2" r="4.3"/><circle cx="857.0" cy="356.8" r="4.3"/><circle cx="868.6" cy="367.8" r="4.3"/><circle cx="883.7" cy="344.0" r="4.3"/><circle cx="870.1" cy="350.0" r="4.3"/><circle cx="865.6" cy="342.3" r="4.3"/><circle cx="878.2" cy="345.6" r="4.3"/><circle cx="853.2" cy="361.2" r="4.3"/><circle cx="854.7" cy="352.9" r="4.3"/><circle cx="879.9" cy="348.3" r="4.3"/><circle cx="881.1" cy="352.3" r="4.3"/><circle cx="864.7" cy="348.2" r="4.3"/><circle cx="860.2" cy="351.8" r="4.3"/><circle cx="882.6" cy="344.6" r="4.3"/><circle cx="866.3" cy="348.1" r="4.3"/><circle cx="883.7" cy="367.5" r="4.3"/><circle cx="860.2" cy="348.7" r="4.3"/><circle cx="880.9" cy="347.4" r="4.3"/><circle cx="877.2" cy="343.0" r="4.3"/><circle cx="883.5" cy="362.5" r="4.3"/><circle cx="876.2" cy="342.8" r="4.3"/><circle cx="861.6" cy="350.3" r="4.3"/><circle cx="855.4" cy="358.9" r="4.3"/><circle cx="856.0" cy="361.6" r="4.3"/><circle cx="1056.7" cy="347.8" r="4.3"/><circle cx="1040.9" cy="358.1" r="4.3"/><circle cx="1042.5" cy="343.4" r="4.3"/><circle cx="1105.4" cy="341.4" r="4.3"/><circle cx="1049.8" cy="362.6" r="4.3"/><circle cx="1105.0" cy="342.1" r="4.3"/><circle cx="1071.7" cy="346.0" r="4.3"/><circle cx="1073.4" cy="360.3" r="4.3"/><circle cx="1055.5" cy="347.4" r="4.3"/><circle cx="1078.7" cy="345.5" r="4.3"/><circle cx="1058.6" cy="359.7" r="4.3"/><circle cx="1059.0" cy="354.0" r="4.3"/><circle cx="1051.7" cy="354.4" r="4.3"/><circle cx="1103.2" cy="344.4" r="4.3"/><circle cx="1044.0" cy="342.0" r="4.3"/><circle cx="1054.8" cy="355.2" r="4.3"/><circle cx="1058.0" cy="353.3" r="4.3"/><circle cx="1109.4" cy="341.3" r="4.3"/><circle cx="1046.8" cy="345.2" r="4.3"/><circle cx="1044.0" cy="355.0" r="4.3"/><circle cx="1108.5" cy="346.2" r="4.3"/><circle cx="1063.9" cy="369.9" r="4.3"/><circle cx="1098.3" cy="358.5" r="4.3"/><circle cx="1070.5" cy="343.4" r="4.3"/><circle cx="1080.0" cy="358.7" r="4.3"/><circle cx="1093.9" cy="358.1" r="4.3"/><circle cx="1045.5" cy="348.8" r="4.3"/><circle cx="1074.7" cy="357.7" r="4.3"/><circle cx="1082.9" cy="346.2" r="4.3"/><circle cx="1080.8" cy="364.5" r="4.3"/><circle cx="1091.3" cy="347.3" r="4.3"/><circle cx="1043.9" cy="354.0" r="4.3"/><circle cx="1098.9" cy="342.6" r="4.3"/><circle cx="1041.1" cy="342.6" r="4.3"/><circle cx="1101.0" cy="358.5" r="4.3"/><circle cx="1098.2" cy="359.4" r="4.3"/><circle cx="1066.0" cy="369.6" r="4.3"/><circle cx="1076.4" cy="350.3" r="4.3"/><circle cx="1048.5" cy="346.1" r="4.3"/><circle cx="1100.6" cy="347.4" r="4.3"/><circle cx="1066.7" cy="364.8" r="4.3"/><circle cx="1101.1" cy="342.5" r="4.3"/><circle cx="1075.9" cy="349.9" r="4.3"/><circle cx="1041.4" cy="343.4" r="4.3"/><circle cx="1052.8" cy="356.3" r="4.3"/><circle cx="1097.2" cy="362.6" r="4.3"/><circle cx="1088.9" cy="368.3" r="4.3"/><circle cx="1082.0" cy="350.2" r="4.3"/><circle cx="1089.2" cy="345.5" r="4.3"/><circle cx="1090.2" cy="361.2" r="4.3"/><circle cx="1074.6" cy="355.4" r="4.3"/><circle cx="1048.5" cy="360.5" r="4.3"/><circle cx="1081.4" cy="343.7" r="4.3"/><circle cx="1080.1" cy="359.3" r="4.3"/><circle cx="1097.8" cy="342.9" r="4.3"/><circle cx="1069.4" cy="350.1" r="4.3"/><circle cx="1067.7" cy="341.7" r="4.3"/><circle cx="1063.7" cy="354.0" r="4.3"/><circle cx="1070.5" cy="341.6" r="4.3"/><circle cx="1103.9" cy="345.8" r="4.3"/><circle cx="1043.7" cy="344.6" r="4.3"/><circle cx="1105.4" cy="352.0" r="4.3"/><circle cx="1084.3" cy="350.0" r="4.3"/><circle cx="1044.8" cy="350.5" r="4.3"/><circle cx="1041.5" cy="344.5" r="4.3"/><circle cx="1094.4" cy="342.1" r="4.3"/><circle cx="1096.6" cy="341.4" r="4.3"/><circle cx="1042.4" cy="355.8" r="4.3"/><circle cx="1087.5" cy="349.8" r="4.3"/><circle cx="1104.7" cy="356.3" r="4.3"/><circle cx="1076.4" cy="344.7" r="4.3"/><circle cx="1060.1" cy="348.2" r="4.3"/><circle cx="1048.4" cy="344.6" r="4.3"/><circle cx="1076.0" cy="351.2" r="4.3"/><circle cx="1077.4" cy="361.2" r="4.3"/><circle cx="1049.2" cy="352.3" r="4.3"/><circle cx="1060.2" cy="363.1" r="4.3"/><circle cx="1078.2" cy="348.8" r="4.3"/><circle cx="1079.9" cy="357.9" r="4.3"/><circle cx="1089.7" cy="349.7" r="4.3"/><circle cx="1082.9" cy="354.6" r="4.3"/><circle cx="1057.0" cy="350.3" r="4.3"/><circle cx="1066.8" cy="368.9" r="4.3"/><circle cx="1064.7" cy="343.4" r="4.3"/><circle cx="1079.0" cy="355.3" r="4.3"/><circle cx="1109.1" cy="346.6" r="4.3"/><circle cx="1051.1" cy="345.5" r="4.3"/><circle cx="1070.8" cy="352.7" r="4.3"/><circle cx="1070.8" cy="361.9" r="4.3"/><circle cx="1055.8" cy="341.8" r="4.3"/><circle cx="1117.7" cy="353.5" r="4.3"/><circle cx="1143.8" cy="345.7" r="4.3"/><circle cx="1151.1" cy="347.0" r="4.3"/><circle cx="1147.2" cy="351.0" r="4.3"/><circle cx="1149.2" cy="345.1" r="4.3"/><circle cx="1116.4" cy="344.2" r="4.3"/><circle cx="1148.3" cy="350.6" r="4.3"/><circle cx="1158.1" cy="352.1" r="4.3"/><circle cx="1149.2" cy="342.2" r="4.3"/><circle cx="1129.0" cy="351.3" r="4.3"/><circle cx="1146.2" cy="352.7" r="4.3"/><circle cx="1137.8" cy="354.3" r="4.3"/><circle cx="1149.4" cy="342.5" r="4.3"/><circle cx="1132.2" cy="354.8" r="4.3"/><circle cx="1117.2" cy="349.2" r="4.3"/><circle cx="1114.4" cy="343.1" r="4.3"/><circle cx="1152.2" cy="344.6" r="4.3"/><circle cx="1120.2" cy="345.1" r="4.3"/><circle cx="1110.5" cy="349.5" r="4.3"/><circle cx="1134.9" cy="341.7" r="4.3"/><circle cx="1136.9" cy="342.5" r="4.3"/><circle cx="1135.9" cy="352.7" r="4.3"/><circle cx="1127.9" cy="353.6" r="4.3"/><circle cx="1157.4" cy="350.1" r="4.3"/><circle cx="1114.9" cy="352.5" r="4.3"/><circle cx="1138.1" cy="345.4" r="4.3"/><circle cx="1158.2" cy="351.7" r="4.3"/><circle cx="1141.2" cy="343.0" r="4.3"/><circle cx="1136.5" cy="359.1" r="4.3"/><circle cx="1125.9" cy="341.6" r="4.3"/><circle cx="1135.6" cy="345.3" r="4.3"/><circle cx="1144.5" cy="344.3" r="4.3"/><circle cx="1154.4" cy="359.7" r="4.3"/><circle cx="1124.5" cy="350.5" r="4.3"/><circle cx="1119.4" cy="348.5" r="4.3"/><circle cx="1140.2" cy="344.3" r="4.3"/><circle cx="1141.8" cy="352.2" r="4.3"/><circle cx="1149.4" cy="347.7" r="4.3"/><circle cx="1110.2" cy="345.8" r="4.3"/><circle cx="1139.3" cy="358.1" r="4.3"/><circle cx="1134.9" cy="355.8" r="4.3"/><circle cx="1142.3" cy="344.2" r="4.3"/><circle cx="1138.7" cy="361.3" r="4.3"/><circle cx="1117.8" cy="362.0" r="4.3"/><circle cx="1166.0" cy="350.2" r="4.3"/><circle cx="1209.4" cy="346.2" r="4.3"/><circle cx="1163.7" cy="346.6" r="4.3"/><circle cx="1179.4" cy="353.5" r="4.3"/><circle cx="1170.2" cy="362.4" r="4.3"/><circle cx="1214.2" cy="353.6" r="4.3"/><circle cx="1187.0" cy="365.3" r="4.3"/><circle cx="1213.4" cy="344.6" r="4.3"/><circle cx="1186.4" cy="356.3" r="4.3"/><circle cx="1162.6" cy="341.5" r="4.3"/><circle cx="1178.9" cy="341.6" r="4.3"/><circle cx="1178.2" cy="344.6" r="4.3"/><circle cx="1189.7" cy="343.4" r="4.3"/><circle cx="1183.4" cy="357.2" r="4.3"/><circle cx="1178.5" cy="342.6" r="4.3"/><circle cx="1207.6" cy="359.0" r="4.3"/><circle cx="1181.5" cy="344.5" r="4.3"/><circle cx="1177.4" cy="361.6" r="4.3"/><circle cx="1192.0" cy="352.4" r="4.3"/><circle cx="1163.9" cy="346.0" r="4.3"/><circle cx="1181.1" cy="358.3" r="4.3"/><circle cx="1177.0" cy="366.8" r="4.3"/><circle cx="1199.9" cy="359.7" r="4.3"/><circle cx="1202.4" cy="355.7" r="4.3"/><circle cx="1210.1" cy="351.6" r="4.3"/><circle cx="1210.2" cy="343.6" r="4.3"/><circle cx="1181.2" cy="353.0" r="4.3"/><circle cx="1217.5" cy="344.7" r="4.3"/><circle cx="1235.5" cy="341.6" r="4.3"/><circle cx="1227.5" cy="342.4" r="4.3"/><circle cx="1251.6" cy="342.4" r="4.3"/><circle cx="1235.7" cy="343.6" r="4.3"/><circle cx="1235.7" cy="343.6" r="4.3"/><circle cx="1224.9" cy="345.8" r="4.3"/><circle cx="1220.0" cy="347.2" r="4.3"/><circle cx="1230.6" cy="349.4" r="4.3"/><circle cx="1248.4" cy="352.7" r="4.3"/><circle cx="1254.5" cy="357.2" r="4.3"/><circle cx="1227.1" cy="356.4" r="4.3"/><circle cx="1229.7" cy="359.7" r="4.3"/><circle cx="1234.8" cy="360.5" r="4.3"/><circle cx="1225.8" cy="360.5" r="4.3"/></g>
<g clip-path="url(#cA)" fill="#ff7f0e" fill-opacity="0.6" ><circle cx="713.6" cy="329.1" r="4.3"/><circle cx="736.0" cy="331.7" r="4.3"/><circle cx="744.2" cy="328.4" r="4.3"/><circle cx="742.1" cy="337.5" r="4.3"/><circle cx="786.6" cy="324.0" r="4.3"/><circle cx="783.8" cy="330.5" r="4.3"/><circle cx="787.5" cy="332.8" r="4.3"/><circle cx="773.8" cy="339.6" r="4.3"/><circle cx="809.9" cy="333.1" r="4.3"/><circle cx="818.7" cy="327.8" r="4.3"/><circle cx="825.7" cy="332.2" r="4.3"/><circle cx="820.4" cy="337.2" r="4.3"/><circle cx="830.1" cy="339.6" r="4.3"/><circle cx="839.8" cy="322.6" r="4.3"/><circle cx="841.5" cy="325.2" r="4.3"/><circle cx="845.1" cy="330.1" r="4.3"/><circle cx="847.7" cy="334.0" r="4.3"/><circle cx="853.0" cy="337.2" r="4.3"/><circle cx="858.3" cy="332.2" r="4.3"/><circle cx="354.6" cy="336.9" r="4.3"/><circle cx="445.4" cy="328.2" r="4.3"/><circle cx="917.7" cy="311.3" r="4.3"/><circle cx="926.1" cy="313.9" r="4.3"/><circle cx="952.8" cy="313.2" r="4.3"/><circle cx="882.9" cy="317.7" r="4.3"/><circle cx="944.2" cy="317.7" r="4.3"/><circle cx="993.9" cy="316.5" r="4.3"/><circle cx="1006.8" cy="314.5" r="4.3"/><circle cx="985.5" cy="318.4" r="4.3"/><circle cx="1069.4" cy="309.4" r="4.3"/><circle cx="1056.5" cy="315.8" r="4.3"/><circle cx="1030.6" cy="315.8" r="4.3"/><circle cx="932.6" cy="319.0" r="4.3"/><circle cx="962.3" cy="319.4" r="4.3"/><circle cx="1081.3" cy="305.2" r="4.3"/><circle cx="1071.9" cy="310.0" r="4.3"/><circle cx="1093.8" cy="312.6" r="4.3"/><circle cx="1151.9" cy="309.4" r="4.3"/><circle cx="1239.6" cy="310.6" r="4.3"/><circle cx="1238.1" cy="314.5" r="4.3"/><circle cx="1175.9" cy="317.7" r="4.3"/><circle cx="1126.1" cy="318.4" r="4.3"/><circle cx="1149.0" cy="320.3" r="4.3"/><circle cx="1197.8" cy="319.0" r="4.3"/><circle cx="1065.8" cy="313.9" r="4.3"/><circle cx="1063.9" cy="315.2" r="4.3"/><circle cx="1080.6" cy="317.1" r="4.3"/><circle cx="1299.9" cy="316.1" r="4.3"/><circle cx="1329.4" cy="318.0" r="4.3"/><circle cx="1316.5" cy="319.0" r="4.3"/><circle cx="1318.4" cy="321.6" r="4.3"/><circle cx="1321.4" cy="322.9" r="4.3"/><circle cx="1356.2" cy="318.4" r="4.3"/><circle cx="1365.9" cy="319.4" r="4.3"/><circle cx="1390.9" cy="319.4" r="4.3"/><circle cx="1386.8" cy="324.8" r="4.3"/><circle cx="1397.7" cy="324.6" r="4.3"/><circle cx="1341.6" cy="324.8" r="4.3"/><circle cx="1348.1" cy="330.4" r="4.3"/><circle cx="1356.8" cy="329.7" r="4.3"/><circle cx="1341.6" cy="334.3" r="4.3"/><circle cx="1365.5" cy="333.9" r="4.3"/><circle cx="1368.7" cy="335.2" r="4.3"/><circle cx="1378.4" cy="332.3" r="4.3"/><circle cx="1384.8" cy="338.4" r="4.3"/><circle cx="1409.7" cy="337.1" r="4.3"/><circle cx="1414.3" cy="340.3" r="4.3"/><circle cx="1439.7" cy="319.9" r="4.3"/><circle cx="1452.6" cy="320.7" r="4.3"/><circle cx="1464.6" cy="311.9" r="4.3"/><circle cx="1463.9" cy="317.7" r="4.3"/><circle cx="1464.1" cy="317.9" r="4.3"/><circle cx="1459.4" cy="327.0" r="4.3"/><circle cx="1462.5" cy="336.5" r="4.3"/><circle cx="1460.3" cy="339.7" r="4.3"/><circle cx="1482.5" cy="320.3" r="4.3"/><circle cx="1271.3" cy="323.8" r="4.3"/><circle cx="1273.9" cy="328.7" r="4.3"/><circle cx="1277.7" cy="328.7" r="4.3"/><circle cx="1281.6" cy="331.9" r="4.3"/><circle cx="1271.9" cy="333.9" r="4.3"/><circle cx="1288.1" cy="329.4" r="4.3"/><circle cx="1291.7" cy="325.9" r="4.3"/><circle cx="1293.9" cy="328.1" r="4.3"/><circle cx="1296.5" cy="331.3" r="4.3"/><circle cx="1300.3" cy="332.6" r="4.3"/><circle cx="1305.5" cy="337.7" r="4.3"/><circle cx="1310.6" cy="335.2" r="4.3"/><circle cx="1314.5" cy="330.0" r="4.3"/><circle cx="1315.8" cy="327.4" r="4.3"/><circle cx="1322.6" cy="331.9" r="4.3"/><circle cx="1325.5" cy="335.2" r="4.3"/><circle cx="1327.4" cy="338.4" r="4.3"/><circle cx="1518.9" cy="323.5" r="4.3"/><circle cx="1587.2" cy="318.6" r="4.3"/><circle cx="1627.6" cy="326.1" r="4.3"/><circle cx="1565.6" cy="340.3" r="4.3"/><circle cx="1669.5" cy="325.7" r="4.3"/><circle cx="1681.4" cy="320.3" r="4.3"/><circle cx="1681.5" cy="320.5" r="4.3"/><circle cx="1700.2" cy="324.2" r="4.3"/><circle cx="986.4" cy="320.0" r="4.3"/><circle cx="930.1" cy="321.2" r="4.3"/><circle cx="916.5" cy="323.0" r="4.3"/><circle cx="962.2" cy="322.8" r="4.3"/><circle cx="929.1" cy="323.2" r="4.3"/><circle cx="939.7" cy="323.1" r="4.3"/><circle cx="993.9" cy="323.4" r="4.3"/><circle cx="904.5" cy="323.4" r="4.3"/><circle cx="884.3" cy="323.8" r="4.3"/><circle cx="952.6" cy="324.1" r="4.3"/><circle cx="932.2" cy="324.2" r="4.3"/><circle cx="957.1" cy="324.4" r="4.3"/><circle cx="903.8" cy="324.4" r="4.3"/><circle cx="928.4" cy="324.9" r="4.3"/><circle cx="921.9" cy="325.0" r="4.3"/><circle cx="912.0" cy="325.3" r="4.3"/><circle cx="890.4" cy="326.0" r="4.3"/><circle cx="957.1" cy="325.8" r="4.3"/><circle cx="971.4" cy="325.9" r="4.3"/><circle cx="986.4" cy="325.9" r="4.3"/><circle cx="930.8" cy="326.2" r="4.3"/><circle cx="928.0" cy="326.3" r="4.3"/><circle cx="953.1" cy="326.5" r="4.3"/><circle cx="907.6" cy="326.7" r="4.3"/><circle cx="902.6" cy="327.0" r="4.3"/><circle cx="897.5" cy="327.0" r="4.3"/><circle cx="942.3" cy="327.0" r="4.3"/><circle cx="934.3" cy="327.1" r="4.3"/><circle cx="914.4" cy="327.8" r="4.3"/><circle cx="922.1" cy="328.1" r="4.3"/><circle cx="996.5" cy="327.8" r="4.3"/><circle cx="887.4" cy="328.5" r="4.3"/><circle cx="897.7" cy="328.4" r="4.3"/><circle cx="907.3" cy="328.5" r="4.3"/><circle cx="910.9" cy="328.8" r="4.3"/><circle cx="920.5" cy="328.8" r="4.3"/><circle cx="927.7" cy="329.3" r="4.3"/><circle cx="934.8" cy="329.7" r="4.3"/><circle cx="969.7" cy="329.6" r="4.3"/><circle cx="967.4" cy="329.9" r="4.3"/><circle cx="909.2" cy="329.9" r="4.3"/><circle cx="907.3" cy="330.1" r="4.3"/><circle cx="958.2" cy="330.1" r="4.3"/><circle cx="966.5" cy="330.3" r="4.3"/><circle cx="945.8" cy="330.5" r="4.3"/><circle cx="983.1" cy="330.1" r="4.3"/><circle cx="991.3" cy="329.8" r="4.3"/><circle cx="993.2" cy="329.6" r="4.3"/><circle cx="997.2" cy="329.2" r="4.3"/><circle cx="954.7" cy="330.6" r="4.3"/><circle cx="998.8" cy="330.1" r="4.3"/><circle cx="1072.7" cy="319.4" r="4.3"/><circle cx="1173.8" cy="319.4" r="4.3"/><circle cx="1090.3" cy="319.6" r="4.3"/><circle cx="1030.0" cy="319.8" r="4.3"/><circle cx="1028.2" cy="320.1" r="4.3"/><circle cx="1032.8" cy="320.1" r="4.3"/><circle cx="1126.2" cy="320.1" r="4.3"/><circle cx="1009.9" cy="320.3" r="4.3"/><circle cx="1072.0" cy="320.3" r="4.3"/><circle cx="1072.0" cy="320.3" r="4.3"/><circle cx="1179.0" cy="320.5" r="4.3"/><circle cx="1027.0" cy="320.6" r="4.3"/><circle cx="1197.8" cy="320.7" r="4.3"/><circle cx="1182.1" cy="320.8" r="4.3"/><circle cx="1025.6" cy="321.1" r="4.3"/><circle cx="1048.6" cy="321.1" r="4.3"/><circle cx="1038.5" cy="321.3" r="4.3"/><circle cx="1051.1" cy="321.4" r="4.3"/><circle cx="1010.3" cy="321.5" r="4.3"/><circle cx="1046.0" cy="321.6" r="4.3"/><circle cx="1105.3" cy="321.9" r="4.3"/><circle cx="1149.4" cy="321.9" r="4.3"/><circle cx="1154.6" cy="322.1" r="4.3"/><circle cx="1022.8" cy="321.9" r="4.3"/><circle cx="1018.3" cy="322.1" r="4.3"/><circle cx="1037.8" cy="322.1" r="4.3"/><circle cx="1053.5" cy="322.0" r="4.3"/><circle cx="1063.3" cy="322.2" r="4.3"/><circle cx="1193.1" cy="322.4" r="4.3"/><circle cx="1189.1" cy="322.6" r="4.3"/><circle cx="1005.2" cy="322.6" r="4.3"/><circle cx="1027.7" cy="322.6" r="4.3"/><circle cx="1038.0" cy="322.5" r="4.3"/><circle cx="1107.4" cy="322.8" r="4.3"/><circle cx="1243.0" cy="322.8" r="4.3"/><circle cx="1023.0" cy="323.0" r="4.3"/><circle cx="1119.2" cy="323.6" r="4.3"/><circle cx="1062.4" cy="323.9" r="4.3"/><circle cx="1083.5" cy="324.1" r="4.3"/><circle cx="1045.7" cy="324.1" r="4.3"/><circle cx="1116.8" cy="324.4" r="4.3"/><circle cx="1128.1" cy="324.3" r="4.3"/><circle cx="1154.6" cy="324.4" r="4.3"/><circle cx="1041.8" cy="324.6" r="4.3"/><circle cx="1021.3" cy="324.7" r="4.3"/><circle cx="1088.7" cy="324.7" r="4.3"/><circle cx="1195.2" cy="325.0" r="4.3"/><circle cx="1061.7" cy="325.3" r="4.3"/><circle cx="1016.4" cy="325.5" r="4.3"/><circle cx="1030.7" cy="325.6" r="4.3"/><circle cx="1056.1" cy="325.6" r="4.3"/><circle cx="1065.7" cy="325.7" r="4.3"/><circle cx="1041.8" cy="325.8" r="4.3"/><circle cx="1114.7" cy="325.7" r="4.3"/><circle cx="1167.3" cy="325.6" r="4.3"/><circle cx="1161.2" cy="325.9" r="4.3"/><circle cx="1175.7" cy="326.0" r="4.3"/><circle cx="1240.9" cy="325.7" r="4.3"/><circle cx="1002.3" cy="326.0" r="4.3"/><circle cx="1024.6" cy="326.1" r="4.3"/><circle cx="1040.6" cy="326.1" r="4.3"/><circle cx="1119.9" cy="326.2" r="4.3"/><circle cx="1102.5" cy="326.3" r="4.3"/><circle cx="1067.1" cy="326.4" r="4.3"/><circle cx="1187.0" cy="326.6" r="4.3"/><circle cx="1039.4" cy="326.8" r="4.3"/><circle cx="1130.4" cy="326.8" r="4.3"/><circle cx="1062.9" cy="327.0" r="4.3"/><circle cx="1107.9" cy="327.2" r="4.3"/><circle cx="1162.8" cy="327.3" r="4.3"/><circle cx="1040.4" cy="327.5" r="4.3"/><circle cx="1144.3" cy="327.6" r="4.3"/><circle cx="1111.7" cy="327.9" r="4.3"/><circle cx="1121.1" cy="328.0" r="4.3"/><circle cx="1031.2" cy="328.0" r="4.3"/><circle cx="1048.8" cy="328.2" r="4.3"/><circle cx="1075.8" cy="328.0" r="4.3"/><circle cx="1086.6" cy="328.0" r="4.3"/><circle cx="1231.3" cy="328.0" r="4.3"/><circle cx="1170.8" cy="328.5" r="4.3"/><circle cx="1171.0" cy="328.5" r="4.3"/><circle cx="1160.7" cy="328.6" r="4.3"/><circle cx="1150.1" cy="328.7" r="4.3"/><circle cx="1110.7" cy="328.7" r="4.3"/><circle cx="1175.5" cy="329.0" r="4.3"/><circle cx="1109.1" cy="329.1" r="4.3"/><circle cx="1237.4" cy="329.2" r="4.3"/><circle cx="1060.3" cy="329.3" r="4.3"/><circle cx="1135.6" cy="329.3" r="4.3"/><circle cx="1150.1" cy="329.3" r="4.3"/><circle cx="1268.2" cy="329.3" r="4.3"/><circle cx="1037.5" cy="329.5" r="4.3"/><circle cx="1175.5" cy="329.6" r="4.3"/><circle cx="1236.0" cy="329.7" r="4.3"/><circle cx="1168.0" cy="329.8" r="4.3"/><circle cx="1038.7" cy="329.8" r="4.3"/><circle cx="1048.3" cy="330.1" r="4.3"/><circle cx="1131.8" cy="330.1" r="4.3"/><circle cx="1085.2" cy="330.3" r="4.3"/><circle cx="1250.8" cy="330.3" r="4.3"/><circle cx="1069.9" cy="330.5" r="4.3"/><circle cx="1101.3" cy="330.5" r="4.3"/><circle cx="1024.2" cy="330.6" r="4.3"/><circle cx="1133.3" cy="330.6" r="4.3"/><circle cx="1231.4" cy="331.3" r="4.3"/><circle cx="1236.5" cy="331.7" r="4.3"/><circle cx="1227.6" cy="332.9" r="4.3"/><circle cx="1226.5" cy="333.4" r="4.3"/><circle cx="1258.1" cy="333.9" r="4.3"/><circle cx="1239.4" cy="334.5" r="4.3"/><circle cx="1262.3" cy="334.9" r="4.3"/><circle cx="1227.7" cy="335.4" r="4.3"/><circle cx="1220.0" cy="334.6" r="4.3"/><circle cx="1220.0" cy="335.4" r="4.3"/><circle cx="1243.0" cy="336.5" r="4.3"/><circle cx="1223.9" cy="336.7" r="4.3"/><circle cx="1239.6" cy="337.5" r="4.3"/><circle cx="1222.6" cy="338.8" r="4.3"/><circle cx="1268.5" cy="339.4" r="4.3"/><circle cx="1227.5" cy="340.3" r="4.3"/><circle cx="1233.3" cy="340.3" r="4.3"/><circle cx="919.6" cy="340.2" r="4.3"/><circle cx="977.9" cy="340.7" r="4.3"/><circle cx="957.4" cy="338.9" r="4.3"/><circle cx="872.3" cy="337.8" r="4.3"/><circle cx="868.7" cy="338.4" r="4.3"/><circle cx="874.4" cy="340.6" r="4.3"/><circle cx="937.6" cy="334.4" r="4.3"/><circle cx="884.0" cy="339.8" r="4.3"/><circle cx="973.7" cy="331.5" r="4.3"/><circle cx="964.7" cy="338.6" r="4.3"/><circle cx="1035.8" cy="340.8" r="4.3"/><circle cx="1014.8" cy="339.4" r="4.3"/><circle cx="887.7" cy="340.4" r="4.3"/><circle cx="916.9" cy="334.5" r="4.3"/><circle cx="894.2" cy="337.2" r="4.3"/><circle cx="975.7" cy="338.8" r="4.3"/><circle cx="959.5" cy="340.8" r="4.3"/><circle cx="872.6" cy="339.9" r="4.3"/><circle cx="983.1" cy="338.4" r="4.3"/><circle cx="917.9" cy="337.1" r="4.3"/><circle cx="942.7" cy="339.3" r="4.3"/><circle cx="1003.4" cy="336.0" r="4.3"/><circle cx="905.4" cy="337.2" r="4.3"/><circle cx="955.5" cy="333.5" r="4.3"/><circle cx="991.8" cy="339.4" r="4.3"/><circle cx="1036.5" cy="340.4" r="4.3"/><circle cx="936.4" cy="335.4" r="4.3"/><circle cx="889.1" cy="338.0" r="4.3"/><circle cx="869.0" cy="336.4" r="4.3"/><circle cx="998.1" cy="337.3" r="4.3"/><circle cx="1017.8" cy="339.2" r="4.3"/><circle cx="985.8" cy="337.1" r="4.3"/><circle cx="965.2" cy="338.2" r="4.3"/><circle cx="1011.5" cy="331.6" r="4.3"/><circle cx="946.4" cy="336.4" r="4.3"/><circle cx="872.8" cy="336.0" r="4.3"/><circle cx="977.2" cy="334.4" r="4.3"/><circle cx="912.7" cy="338.7" r="4.3"/><circle cx="981.0" cy="341.0" r="4.3"/><circle cx="944.2" cy="340.1" r="4.3"/><circle cx="882.8" cy="340.8" r="4.3"/><circle cx="998.7" cy="340.4" r="4.3"/><circle cx="906.1" cy="338.7" r="4.3"/><circle cx="1017.1" cy="340.6" r="4.3"/><circle cx="942.0" cy="337.5" r="4.3"/><circle cx="1019.2" cy="334.5" r="4.3"/><circle cx="1015.8" cy="339.4" r="4.3"/><circle cx="935.9" cy="338.9" r="4.3"/><circle cx="1019.4" cy="331.1" r="4.3"/><circle cx="888.9" cy="340.1" r="4.3"/><circle cx="903.3" cy="339.7" r="4.3"/><circle cx="948.3" cy="337.1" r="4.3"/><circle cx="908.8" cy="341.1" r="4.3"/><circle cx="936.6" cy="338.8" r="4.3"/><circle cx="962.8" cy="331.3" r="4.3"/><circle cx="984.9" cy="337.7" r="4.3"/><circle cx="971.9" cy="336.3" r="4.3"/><circle cx="871.6" cy="333.0" r="4.3"/><circle cx="1000.8" cy="333.5" r="4.3"/><circle cx="1004.0" cy="338.7" r="4.3"/><circle cx="933.0" cy="340.5" r="4.3"/><circle cx="974.9" cy="340.8" r="4.3"/><circle cx="874.0" cy="339.9" r="4.3"/><circle cx="890.9" cy="339.0" r="4.3"/><circle cx="871.4" cy="341.1" r="4.3"/><circle cx="888.9" cy="340.5" r="4.3"/><circle cx="926.7" cy="341.0" r="4.3"/><circle cx="1017.6" cy="336.9" r="4.3"/><circle cx="888.4" cy="339.6" r="4.3"/><circle cx="923.8" cy="338.9" r="4.3"/><circle cx="883.9" cy="334.0" r="4.3"/><circle cx="1038.8" cy="338.1" r="4.3"/><circle cx="948.1" cy="340.6" r="4.3"/><circle cx="880.2" cy="339.0" r="4.3"/><circle cx="909.1" cy="334.3" r="4.3"/><circle cx="890.7" cy="341.0" r="4.3"/><circle cx="1031.3" cy="337.6" r="4.3"/><circle cx="888.1" cy="337.5" r="4.3"/><circle cx="866.8" cy="337.6" r="4.3"/><circle cx="1036.2" cy="333.7" r="4.3"/><circle cx="985.9" cy="339.6" r="4.3"/><circle cx="927.3" cy="340.1" r="4.3"/><circle cx="999.4" cy="337.6" r="4.3"/><circle cx="1000.7" cy="339.1" r="4.3"/><circle cx="901.7" cy="334.6" r="4.3"/><circle cx="1037.3" cy="333.9" r="4.3"/><circle cx="1005.5" cy="334.5" r="4.3"/><circle cx="993.7" cy="339.8" r="4.3"/><circle cx="954.1" cy="338.9" r="4.3"/><circle cx="867.2" cy="340.9" r="4.3"/><circle cx="911.7" cy="339.6" r="4.3"/><circle cx="985.3" cy="331.2" r="4.3"/><circle cx="941.6" cy="331.9" r="4.3"/><circle cx="1037.9" cy="331.2" r="4.3"/><circle cx="926.9" cy="339.8" r="4.3"/><circle cx="902.4" cy="340.0" r="4.3"/><circle cx="898.4" cy="336.8" r="4.3"/><circle cx="1022.3" cy="334.1" r="4.3"/><circle cx="947.3" cy="336.5" r="4.3"/><circle cx="1004.3" cy="340.6" r="4.3"/><circle cx="979.6" cy="332.7" r="4.3"/><circle cx="1001.2" cy="335.4" r="4.3"/><circle cx="947.1" cy="340.1" r="4.3"/><circle cx="1002.5" cy="339.1" r="4.3"/><circle cx="1004.5" cy="338.6" r="4.3"/><circle cx="933.4" cy="331.6" r="4.3"/><circle cx="991.0" cy="340.1" r="4.3"/><circle cx="884.6" cy="340.2" r="4.3"/><circle cx="1023.1" cy="334.7" r="4.3"/><circle cx="888.0" cy="334.4" r="4.3"/><circle cx="1036.5" cy="336.5" r="4.3"/><circle cx="924.4" cy="337.5" r="4.3"/><circle cx="885.3" cy="341.0" r="4.3"/><circle cx="1034.8" cy="336.5" r="4.3"/><circle cx="955.7" cy="332.0" r="4.3"/><circle cx="939.2" cy="333.6" r="4.3"/><circle cx="1009.1" cy="339.9" r="4.3"/><circle cx="906.8" cy="339.3" r="4.3"/><circle cx="904.8" cy="337.1" r="4.3"/><circle cx="908.2" cy="338.5" r="4.3"/><circle cx="885.3" cy="332.7" r="4.3"/><circle cx="925.0" cy="338.2" r="4.3"/><circle cx="965.8" cy="332.9" r="4.3"/><circle cx="936.9" cy="332.5" r="4.3"/><circle cx="951.3" cy="337.6" r="4.3"/><circle cx="955.2" cy="341.0" r="4.3"/><circle cx="940.3" cy="340.0" r="4.3"/><circle cx="862.7" cy="334.8" r="4.3"/><circle cx="892.7" cy="338.1" r="4.3"/><circle cx="991.1" cy="337.4" r="4.3"/><circle cx="920.0" cy="337.7" r="4.3"/><circle cx="960.9" cy="335.0" r="4.3"/><circle cx="880.9" cy="337.4" r="4.3"/><circle cx="906.2" cy="339.5" r="4.3"/><circle cx="999.5" cy="337.8" r="4.3"/><circle cx="962.0" cy="335.3" r="4.3"/><circle cx="1024.4" cy="338.3" r="4.3"/><circle cx="971.0" cy="337.8" r="4.3"/><circle cx="953.2" cy="336.1" r="4.3"/><circle cx="942.5" cy="337.6" r="4.3"/><circle cx="947.1" cy="331.8" r="4.3"/><circle cx="986.5" cy="333.5" r="4.3"/><circle cx="1029.7" cy="339.6" r="4.3"/><circle cx="961.6" cy="331.7" r="4.3"/><circle cx="1011.5" cy="340.3" r="4.3"/><circle cx="883.6" cy="338.3" r="4.3"/><circle cx="874.9" cy="339.7" r="4.3"/><circle cx="875.0" cy="336.3" r="4.3"/><circle cx="1001.5" cy="333.0" r="4.3"/><circle cx="889.5" cy="335.8" r="4.3"/><circle cx="992.4" cy="339.0" r="4.3"/><circle cx="1023.6" cy="337.9" r="4.3"/><circle cx="1033.4" cy="335.4" r="4.3"/><circle cx="968.2" cy="338.7" r="4.3"/><circle cx="960.4" cy="333.7" r="4.3"/><circle cx="947.5" cy="338.2" r="4.3"/><circle cx="944.6" cy="340.8" r="4.3"/><circle cx="977.6" cy="334.8" r="4.3"/><circle cx="902.5" cy="336.3" r="4.3"/><circle cx="987.3" cy="333.7" r="4.3"/><circle cx="909.0" cy="339.5" r="4.3"/><circle cx="937.2" cy="340.5" r="4.3"/><circle cx="1009.1" cy="337.2" r="4.3"/><circle cx="918.1" cy="335.0" r="4.3"/><circle cx="1027.6" cy="337.3" r="4.3"/><circle cx="920.9" cy="332.8" r="4.3"/><circle cx="998.1" cy="339.8" r="4.3"/><circle cx="908.1" cy="330.9" r="4.3"/><circle cx="959.5" cy="340.0" r="4.3"/><circle cx="1031.4" cy="331.8" r="4.3"/><circle cx="1012.2" cy="339.8" r="4.3"/><circle cx="1019.9" cy="340.1" r="4.3"/><circle cx="1020.8" cy="334.6" r="4.3"/><circle cx="947.5" cy="333.1" r="4.3"/><circle cx="1029.7" cy="337.2" r="4.3"/><circle cx="918.1" cy="333.5" r="4.3"/><circle cx="933.4" cy="339.5" r="4.3"/><circle cx="922.6" cy="340.3" r="4.3"/><circle cx="928.2" cy="336.6" r="4.3"/><circle cx="942.7" cy="336.9" r="4.3"/><circle cx="970.0" cy="338.5" r="4.3"/><circle cx="948.6" cy="340.8" r="4.3"/><circle cx="935.1" cy="340.9" r="4.3"/><circle cx="1002.6" cy="333.1" r="4.3"/><circle cx="926.5" cy="334.3" r="4.3"/><circle cx="1030.8" cy="339.5" r="4.3"/><circle cx="1014.6" cy="334.9" r="4.3"/><circle cx="969.3" cy="335.4" r="4.3"/><circle cx="970.9" cy="330.9" r="4.3"/><circle cx="1037.5" cy="336.1" r="4.3"/><circle cx="1016.5" cy="331.8" r="4.3"/><circle cx="956.7" cy="336.1" r="4.3"/><circle cx="907.6" cy="339.2" r="4.3"/><circle cx="909.9" cy="337.4" r="4.3"/><circle cx="922.9" cy="339.8" r="4.3"/><circle cx="1017.8" cy="331.2" r="4.3"/><circle cx="939.5" cy="337.6" r="4.3"/><circle cx="941.0" cy="334.5" r="4.3"/><circle cx="922.1" cy="334.7" r="4.3"/><circle cx="936.9" cy="333.2" r="4.3"/><circle cx="934.2" cy="336.6" r="4.3"/><circle cx="949.9" cy="341.1" r="4.3"/><circle cx="953.4" cy="334.3" r="4.3"/><circle cx="970.4" cy="338.1" r="4.3"/><circle cx="970.7" cy="341.0" r="4.3"/><circle cx="937.0" cy="339.8" r="4.3"/><circle cx="955.9" cy="340.5" r="4.3"/><circle cx="903.1" cy="336.7" r="4.3"/><circle cx="932.6" cy="332.6" r="4.3"/><circle cx="974.1" cy="331.5" r="4.3"/><circle cx="1000.2" cy="335.5" r="4.3"/><circle cx="945.7" cy="338.9" r="4.3"/><circle cx="1001.4" cy="331.7" r="4.3"/><circle cx="906.1" cy="332.0" r="4.3"/><circle cx="1002.7" cy="339.0" r="4.3"/><circle cx="973.3" cy="333.8" r="4.3"/><circle cx="1016.9" cy="332.6" r="4.3"/><circle cx="1025.0" cy="331.0" r="4.3"/><circle cx="997.1" cy="337.7" r="4.3"/><circle cx="904.4" cy="339.1" r="4.3"/><circle cx="950.5" cy="339.5" r="4.3"/><circle cx="1017.0" cy="333.0" r="4.3"/><circle cx="987.9" cy="332.0" r="4.3"/><circle cx="995.3" cy="334.1" r="4.3"/><circle cx="900.5" cy="333.9" r="4.3"/><circle cx="1088.2" cy="334.3" r="4.3"/><circle cx="1045.9" cy="333.2" r="4.3"/><circle cx="1062.7" cy="340.4" r="4.3"/><circle cx="1063.9" cy="333.3" r="4.3"/><circle cx="1058.5" cy="333.1" r="4.3"/><circle cx="1127.8" cy="336.3" r="4.3"/><circle cx="1074.4" cy="336.4" r="4.3"/><circle cx="1101.5" cy="332.7" r="4.3"/><circle cx="1095.5" cy="334.5" r="4.3"/><circle cx="1047.0" cy="339.7" r="4.3"/><circle cx="1062.9" cy="333.1" r="4.3"/><circle cx="1067.4" cy="335.4" r="4.3"/><circle cx="1041.1" cy="340.5" r="4.3"/><circle cx="1064.2" cy="334.1" r="4.3"/><circle cx="1102.3" cy="334.1" r="4.3"/><circle cx="1066.2" cy="336.0" r="4.3"/><circle cx="1081.8" cy="336.6" r="4.3"/><circle cx="1050.7" cy="339.3" r="4.3"/><circle cx="1128.0" cy="340.9" r="4.3"/><circle cx="1081.3" cy="331.8" r="4.3"/><circle cx="1127.1" cy="336.8" r="4.3"/><circle cx="1064.2" cy="339.2" r="4.3"/><circle cx="1125.1" cy="339.1" r="4.3"/><circle cx="1092.3" cy="339.8" r="4.3"/><circle cx="1087.2" cy="339.9" r="4.3"/><circle cx="1113.8" cy="336.1" r="4.3"/><circle cx="1119.8" cy="333.7" r="4.3"/><circle cx="1060.8" cy="336.4" r="4.3"/><circle cx="1042.2" cy="341.1" r="4.3"/><circle cx="1084.3" cy="336.8" r="4.3"/><circle cx="1067.2" cy="339.8" r="4.3"/><circle cx="1071.0" cy="338.1" r="4.3"/><circle cx="1115.6" cy="341.1" r="4.3"/><circle cx="1107.6" cy="331.4" r="4.3"/><circle cx="1050.8" cy="333.6" r="4.3"/><circle cx="1121.1" cy="338.4" r="4.3"/><circle cx="1073.5" cy="337.4" r="4.3"/><circle cx="1129.9" cy="335.2" r="4.3"/><circle cx="1072.5" cy="337.0" r="4.3"/><circle cx="1064.8" cy="340.7" r="4.3"/><circle cx="1049.2" cy="331.5" r="4.3"/><circle cx="1065.7" cy="338.8" r="4.3"/><circle cx="1063.9" cy="336.1" r="4.3"/><circle cx="1057.1" cy="337.6" r="4.3"/><circle cx="1126.1" cy="331.9" r="4.3"/><circle cx="1096.8" cy="335.7" r="4.3"/><circle cx="1104.8" cy="340.7" r="4.3"/><circle cx="1105.9" cy="336.8" r="4.3"/><circle cx="1107.7" cy="334.5" r="4.3"/><circle cx="1065.8" cy="340.7" r="4.3"/><circle cx="1213.4" cy="339.7" r="4.3"/><circle cx="1172.5" cy="337.3" r="4.3"/><circle cx="1156.8" cy="332.1" r="4.3"/><circle cx="1217.9" cy="338.2" r="4.3"/><circle cx="1189.0" cy="337.8" r="4.3"/><circle cx="1180.2" cy="336.7" r="4.3"/><circle cx="1145.1" cy="339.3" r="4.3"/><circle cx="1148.7" cy="335.5" r="4.3"/><circle cx="1149.8" cy="336.1" r="4.3"/><circle cx="1142.6" cy="339.0" r="4.3"/><circle cx="1138.2" cy="337.3" r="4.3"/><circle cx="1138.2" cy="338.5" r="4.3"/><circle cx="1153.3" cy="334.6" r="4.3"/><circle cx="1209.9" cy="331.9" r="4.3"/><circle cx="1167.2" cy="336.5" r="4.3"/><circle cx="1177.2" cy="336.9" r="4.3"/><circle cx="1160.4" cy="340.4" r="4.3"/><circle cx="1155.0" cy="339.7" r="4.3"/><circle cx="1175.3" cy="333.7" r="4.3"/><circle cx="1207.7" cy="338.7" r="4.3"/><circle cx="1154.4" cy="338.4" r="4.3"/><circle cx="1166.0" cy="336.1" r="4.3"/><circle cx="1215.9" cy="340.9" r="4.3"/><circle cx="1132.9" cy="332.6" r="4.3"/><circle cx="1210.6" cy="335.8" r="4.3"/><circle cx="1182.8" cy="341.1" r="4.3"/><circle cx="1165.2" cy="338.4" r="4.3"/><circle cx="1139.8" cy="339.4" r="4.3"/><circle cx="1177.0" cy="333.0" r="4.3"/><circle cx="1214.7" cy="332.4" r="4.3"/><circle cx="1188.3" cy="331.6" r="4.3"/><circle cx="1171.2" cy="334.8" r="4.3"/><circle cx="1133.6" cy="331.3" r="4.3"/><circle cx="1150.9" cy="333.5" r="4.3"/><circle cx="1157.3" cy="339.7" r="4.3"/><circle cx="1152.7" cy="333.7" r="4.3"/><circle cx="1192.9" cy="339.9" r="4.3"/><circle cx="1136.3" cy="335.1" r="4.3"/><circle cx="1182.5" cy="336.8" r="4.3"/><circle cx="1150.1" cy="334.1" r="4.3"/><circle cx="1130.9" cy="337.8" r="4.3"/><circle cx="1171.5" cy="333.5" r="4.3"/><circle cx="1209.5" cy="335.7" r="4.3"/><circle cx="1151.1" cy="338.4" r="4.3"/><circle cx="1039.0" cy="333.8" r="4.3"/></g>
<g clip-path="url(#cA)" fill="#d62728" fill-opacity="0.9" ><circle cx="704.8" cy="348.6" r="6.1"/><circle cx="709.2" cy="357.7" r="6.1"/><circle cx="723.6" cy="351.6" r="6.1"/><circle cx="739.1" cy="352.8" r="6.1"/><circle cx="737.4" cy="379.2" r="6.1"/><circle cx="784.7" cy="349.5" r="6.1"/><circle cx="841.0" cy="360.0" r="6.1"/><circle cx="866.8" cy="342.9" r="6.1"/><circle cx="901.6" cy="344.2" r="6.1"/><circle cx="860.3" cy="351.3" r="6.1"/><circle cx="879.7" cy="351.9" r="6.1"/><circle cx="939.9" cy="350.4" r="6.1"/><circle cx="882.9" cy="360.3" r="6.1"/><circle cx="885.5" cy="361.0" r="6.1"/><circle cx="874.5" cy="367.4" r="6.1"/><circle cx="861.0" cy="371.3" r="6.1"/><circle cx="866.8" cy="381.0" r="6.1"/><circle cx="576.3" cy="614.0" r="6.1"/><circle cx="577.2" cy="621.1" r="6.1"/><circle cx="648.1" cy="611.2" r="6.1"/><circle cx="645.8" cy="655.7" r="6.1"/><circle cx="858.1" cy="575.2" r="6.1"/><circle cx="863.2" cy="595.8" r="6.1"/><circle cx="855.5" cy="622.0" r="6.1"/><circle cx="864.2" cy="618.4" r="6.1"/><circle cx="878.1" cy="622.9" r="6.1"/><circle cx="878.4" cy="630.6" r="6.1"/><circle cx="841.6" cy="629.4" r="6.1"/><circle cx="846.8" cy="637.1" r="6.1"/><circle cx="852.6" cy="642.3" r="6.1"/><circle cx="857.7" cy="647.4" r="6.1"/><circle cx="862.9" cy="644.8" r="6.1"/><circle cx="875.8" cy="640.3" r="6.1"/><circle cx="889.4" cy="649.6" r="6.1"/><circle cx="870.6" cy="653.9" r="6.1"/><circle cx="864.2" cy="656.5" r="6.1"/><circle cx="879.0" cy="662.3" r="6.1"/><circle cx="887.4" cy="665.5" r="6.1"/><circle cx="881.0" cy="669.4" r="6.1"/><circle cx="821.0" cy="664.2" r="6.1"/><circle cx="857.7" cy="670.6" r="6.1"/><circle cx="870.6" cy="671.9" r="6.1"/><circle cx="861.6" cy="681.0" r="6.1"/><circle cx="870.6" cy="686.1" r="6.1"/><circle cx="904.2" cy="683.5" r="6.1"/><circle cx="860.3" cy="693.9" r="6.1"/><circle cx="868.1" cy="703.5" r="6.1"/><circle cx="885.9" cy="695.5" r="6.1"/><circle cx="899.0" cy="694.5" r="6.1"/><circle cx="863.2" cy="727.7" r="6.1"/><circle cx="909.4" cy="662.3" r="6.1"/><circle cx="964.1" cy="679.7" r="6.1"/><circle cx="976.1" cy="665.5" r="6.1"/><circle cx="1008.1" cy="684.8" r="6.1"/><circle cx="866.8" cy="634.5" r="6.1"/><circle cx="855.2" cy="664.2" r="6.1"/><circle cx="862.9" cy="666.8" r="6.1"/><circle cx="864.2" cy="675.8" r="6.1"/><circle cx="866.8" cy="690.0" r="6.1"/><circle cx="877.4" cy="344.6" r="6.1"/><circle cx="878.9" cy="325.6" r="6.1"/><circle cx="939.7" cy="323.7" r="6.1"/><circle cx="873.5" cy="334.8" r="6.1"/><circle cx="1037.1" cy="330.9" r="6.1"/><circle cx="1018.1" cy="317.5" r="6.1"/></g>
<g clip-path="url(#cA)" fill="none" fill-opacity="1" stroke="#000" stroke-width="2"><circle cx="882.9" cy="342.0" r="5.1"/><circle cx="942.6" cy="341.2" r="5.1"/><circle cx="926.4" cy="349.0" r="5.1"/><circle cx="951.9" cy="353.2" r="5.1"/><circle cx="913.2" cy="358.6" r="5.1"/><circle cx="973.0" cy="351.5" r="5.1"/><circle cx="980.3" cy="362.9" r="5.1"/><circle cx="1039.3" cy="333.9" r="5.1"/><circle cx="866.1" cy="357.1" r="5.1"/><circle cx="866.1" cy="360.3" r="5.1"/><circle cx="865.5" cy="363.5" r="5.1"/><circle cx="866.8" cy="364.8" r="5.1"/><circle cx="868.7" cy="379.7" r="5.1"/><circle cx="865.5" cy="382.9" r="5.1"/><circle cx="858.1" cy="575.2" r="5.1"/><circle cx="863.2" cy="595.8" r="5.1"/><circle cx="855.5" cy="622.0" r="5.1"/><circle cx="866.1" cy="631.9" r="5.1"/><circle cx="868.7" cy="635.2" r="5.1"/><circle cx="866.8" cy="637.7" r="5.1"/><circle cx="875.8" cy="640.3" r="5.1"/><circle cx="862.9" cy="644.8" r="5.1"/><circle cx="889.4" cy="649.6" r="5.1"/><circle cx="864.2" cy="656.5" r="5.1"/><circle cx="868.7" cy="659.0" r="5.1"/><circle cx="879.0" cy="662.3" r="5.1"/><circle cx="854.5" cy="664.2" r="5.1"/><circle cx="862.3" cy="665.5" r="5.1"/><circle cx="857.7" cy="671.9" r="5.1"/><circle cx="864.2" cy="669.4" r="5.1"/><circle cx="868.1" cy="673.2" r="5.1"/><circle cx="862.9" cy="679.7" r="5.1"/><circle cx="866.1" cy="682.9" r="5.1"/><circle cx="866.1" cy="689.4" r="5.1"/><circle cx="868.1" cy="691.9" r="5.1"/><circle cx="824.2" cy="667.4" r="5.1"/><circle cx="750.6" cy="664.8" r="5.1"/><circle cx="748.1" cy="670.6" r="5.1"/><circle cx="909.4" cy="662.3" r="5.1"/><circle cx="929.0" cy="666.1" r="5.1"/><circle cx="928.4" cy="668.1" r="5.1"/><circle cx="930.3" cy="666.1" r="5.1"/><circle cx="941.3" cy="625.1" r="5.1"/><circle cx="956.8" cy="619.0" r="5.1"/><circle cx="965.2" cy="645.2" r="5.1"/><circle cx="969.9" cy="669.4" r="5.1"/><circle cx="1024.8" cy="650.0" r="5.1"/><circle cx="1099.7" cy="610.9" r="5.1"/><circle cx="1136.5" cy="659.0" r="5.1"/><circle cx="1224.8" cy="665.5" r="5.1"/><circle cx="863.5" cy="660.3" r="5.1"/><circle cx="861.6" cy="669.4" r="5.1"/><circle cx="865.5" cy="671.9" r="5.1"/><circle cx="860.3" cy="673.2" r="5.1"/><circle cx="864.2" cy="677.1" r="5.1"/><circle cx="862.9" cy="655.2" r="5.1"/><circle cx="865.5" cy="662.9" r="5.1"/><circle cx="866.9" cy="342.4" r="5.1"/><circle cx="866.9" cy="342.9" r="5.1"/><circle cx="866.9" cy="343.4" r="5.1"/><circle cx="866.9" cy="343.9" r="5.1"/><circle cx="866.9" cy="344.4" r="5.1"/></g>
<g clip-path="url(#cB)" fill="#2ca02c" fill-opacity="0.6" ></g>
<g clip-path="url(#cB)" fill="#1f77b4" fill-opacity="0.6" ><circle cx="1235.5" cy="1368.4" r="4.3"/><circle cx="1227.5" cy="1372.5" r="4.3"/><circle cx="1251.6" cy="1372.3" r="4.3"/><circle cx="1235.7" cy="1377.7" r="4.3"/><circle cx="1235.7" cy="1377.8" r="4.3"/><circle cx="1391.0" cy="1375.7" r="4.3"/><circle cx="1353.5" cy="1379.1" r="4.3"/><circle cx="1224.9" cy="1386.5" r="4.3"/><circle cx="1220.0" cy="1391.0" r="4.3"/><circle cx="1308.3" cy="1387.1" r="4.3"/><circle cx="1300.6" cy="1389.0" r="4.3"/><circle cx="1385.2" cy="1387.1" r="4.3"/><circle cx="1395.0" cy="1389.7" r="4.3"/><circle cx="1395.1" cy="1389.8" r="4.3"/><circle cx="1349.9" cy="1390.7" r="4.3"/><circle cx="1335.1" cy="1395.5" r="4.3"/><circle cx="1230.6" cy="1396.8" r="4.3"/><circle cx="1439.4" cy="1387.7" r="4.3"/><circle cx="1277.2" cy="1400.6" r="4.3"/><circle cx="1248.4" cy="1403.2" r="4.3"/><circle cx="1254.5" cy="1409.3" r="4.3"/><circle cx="1227.1" cy="1408.4" r="4.3"/><circle cx="1229.7" cy="1411.6" r="4.3"/><circle cx="1234.8" cy="1412.3" r="4.3"/><circle cx="1225.8" cy="1412.3" r="4.3"/><circle cx="1310.7" cy="1412.0" r="4.3"/><circle cx="1275.7" cy="1418.7" r="4.3"/><circle cx="1441.6" cy="1387.7" r="4.3"/><circle cx="1460.7" cy="1392.8" r="4.3"/><circle cx="1459.0" cy="1402.0" r="4.3"/><circle cx="1572.9" cy="1389.5" r="4.3"/><circle cx="1606.8" cy="1376.3" r="4.3"/><circle cx="1617.2" cy="1378.3" r="4.3"/><circle cx="1647.2" cy="1370.1" r="4.3"/><circle cx="1598.1" cy="1396.4" r="4.3"/><circle cx="1603.5" cy="1394.6" r="4.3"/><circle cx="1611.7" cy="1390.8" r="4.3"/><circle cx="1611.9" cy="1390.9" r="4.3"/><circle cx="1611.7" cy="1393.1" r="4.3"/><circle cx="1626.8" cy="1393.9" r="4.3"/><circle cx="774.4" cy="1366.4" r="4.3"/><circle cx="790.2" cy="1366.1" r="4.3"/><circle cx="716.6" cy="1378.1" r="4.3"/><circle cx="780.7" cy="1374.9" r="4.3"/><circle cx="785.4" cy="1378.6" r="4.3"/><circle cx="774.8" cy="1381.8" r="4.3"/><circle cx="775.0" cy="1391.3" r="4.3"/><circle cx="791.7" cy="1396.2" r="4.3"/><circle cx="720.6" cy="1398.4" r="4.3"/><circle cx="714.0" cy="1403.9" r="4.3"/><circle cx="777.0" cy="1402.0" r="4.3"/><circle cx="772.2" cy="1404.2" r="4.3"/><circle cx="655.3" cy="1407.4" r="4.3"/><circle cx="655.5" cy="1407.6" r="4.3"/><circle cx="667.8" cy="1410.5" r="4.3"/><circle cx="798.3" cy="1405.2" r="4.3"/><circle cx="803.4" cy="1407.2" r="4.3"/><circle cx="807.8" cy="1404.2" r="4.3"/><circle cx="764.3" cy="1412.3" r="4.3"/><circle cx="764.4" cy="1412.4" r="4.3"/><circle cx="779.9" cy="1413.0" r="4.3"/><circle cx="780.1" cy="1413.2" r="4.3"/><circle cx="807.8" cy="1410.8" r="4.3"/><circle cx="714.0" cy="1412.3" r="4.3"/><circle cx="719.1" cy="1415.2" r="4.3"/><circle cx="622.0" cy="1414.8" r="4.3"/><circle cx="560.0" cy="1411.8" r="4.3"/><circle cx="691.7" cy="1418.2" r="4.3"/><circle cx="803.4" cy="1417.4" r="4.3"/><circle cx="343.2" cy="1386.2" r="4.3"/><circle cx="349.2" cy="1369.5" r="4.3"/><circle cx="215.8" cy="1418.4" r="4.3"/><circle cx="816.9" cy="1390.8" r="4.3"/><circle cx="823.9" cy="1388.1" r="4.3"/><circle cx="821.3" cy="1406.4" r="4.3"/><circle cx="823.9" cy="1401.3" r="4.3"/><circle cx="829.2" cy="1408.0" r="4.3"/><circle cx="833.6" cy="1390.8" r="4.3"/><circle cx="819.5" cy="1416.6" r="4.3"/><circle cx="823.4" cy="1416.0" r="4.3"/><circle cx="825.4" cy="1418.3" r="4.3"/><circle cx="833.3" cy="1418.1" r="4.3"/><circle cx="839.8" cy="1418.3" r="4.3"/><circle cx="841.0" cy="1416.8" r="4.3"/><circle cx="837.1" cy="1415.3" r="4.3"/><circle cx="839.8" cy="1397.7" r="4.3"/><circle cx="845.1" cy="1393.3" r="4.3"/><circle cx="850.3" cy="1388.1" r="4.3"/><circle cx="848.6" cy="1404.3" r="4.3"/><circle cx="852.1" cy="1410.7" r="4.3"/><circle cx="848.6" cy="1413.9" r="4.3"/><circle cx="853.9" cy="1414.4" r="4.3"/><circle cx="857.4" cy="1393.3" r="4.3"/><circle cx="893.9" cy="1419.4" r="4.3"/><circle cx="925.5" cy="1418.3" r="4.3"/><circle cx="945.5" cy="1417.3" r="4.3"/><circle cx="959.0" cy="1419.0" r="4.3"/><circle cx="960.3" cy="1419.2" r="4.3"/><circle cx="979.0" cy="1419.1" r="4.3"/><circle cx="970.6" cy="1418.4" r="4.3"/><circle cx="1006.1" cy="1417.9" r="4.3"/><circle cx="1036.5" cy="1418.6" r="4.3"/><circle cx="1044.2" cy="1418.6" r="4.3"/><circle cx="1059.0" cy="1415.2" r="4.3"/><circle cx="1024.2" cy="1416.0" r="4.3"/><circle cx="886.1" cy="1419.1" r="4.3"/><circle cx="884.2" cy="1418.7" r="4.3"/><circle cx="877.1" cy="1418.7" r="4.3"/><circle cx="1069.4" cy="1419.1" r="4.3"/><circle cx="906.8" cy="1418.1" r="4.3"/><circle cx="1060.0" cy="1415.2" r="4.3"/><circle cx="1131.9" cy="1417.1" r="4.3"/><circle cx="1112.9" cy="1418.3" r="4.3"/><circle cx="1072.6" cy="1419.1" r="4.3"/><circle cx="1074.6" cy="1419.2" r="4.3"/><circle cx="1154.5" cy="1417.4" r="4.3"/><circle cx="1158.7" cy="1418.7" r="4.3"/><circle cx="1171.2" cy="1418.9" r="4.3"/><circle cx="1173.3" cy="1416.7" r="4.3"/><circle cx="1215.9" cy="1415.8" r="4.3"/><circle cx="1217.2" cy="1417.2" r="4.3"/><circle cx="1215.5" cy="1417.9" r="4.3"/><circle cx="1033.9" cy="1384.3" r="4.3"/><circle cx="887.4" cy="1400.8" r="4.3"/><circle cx="949.5" cy="1400.9" r="4.3"/><circle cx="1028.3" cy="1416.1" r="4.3"/><circle cx="936.7" cy="1400.6" r="4.3"/><circle cx="914.9" cy="1372.6" r="4.3"/><circle cx="962.8" cy="1393.3" r="4.3"/><circle cx="932.6" cy="1386.3" r="4.3"/><circle cx="918.5" cy="1384.6" r="4.3"/><circle cx="1032.5" cy="1412.6" r="4.3"/><circle cx="918.8" cy="1401.0" r="4.3"/><circle cx="1032.0" cy="1407.7" r="4.3"/><circle cx="917.2" cy="1388.7" r="4.3"/><circle cx="892.1" cy="1407.7" r="4.3"/><circle cx="1024.1" cy="1372.8" r="4.3"/><circle cx="1039.6" cy="1383.7" r="4.3"/><circle cx="912.9" cy="1372.5" r="4.3"/><circle cx="889.0" cy="1382.4" r="4.3"/><circle cx="942.3" cy="1413.1" r="4.3"/><circle cx="884.4" cy="1408.7" r="4.3"/><circle cx="1033.1" cy="1393.5" r="4.3"/><circle cx="916.4" cy="1397.1" r="4.3"/><circle cx="1012.2" cy="1415.8" r="4.3"/><circle cx="957.9" cy="1394.6" r="4.3"/><circle cx="914.1" cy="1395.2" r="4.3"/><circle cx="888.7" cy="1397.3" r="4.3"/><circle cx="1003.6" cy="1416.1" r="4.3"/><circle cx="893.8" cy="1385.6" r="4.3"/><circle cx="1000.6" cy="1383.4" r="4.3"/><circle cx="926.5" cy="1375.9" r="4.3"/><circle cx="924.9" cy="1384.0" r="4.3"/><circle cx="927.0" cy="1398.7" r="4.3"/><circle cx="1027.0" cy="1367.1" r="4.3"/><circle cx="887.8" cy="1405.7" r="4.3"/><circle cx="1033.3" cy="1382.1" r="4.3"/><circle cx="923.2" cy="1405.3" r="4.3"/><circle cx="1028.8" cy="1397.6" r="4.3"/><circle cx="999.2" cy="1371.7" r="4.3"/><circle cx="978.7" cy="1409.5" r="4.3"/><circle cx="940.4" cy="1390.4" r="4.3"/><circle cx="914.8" cy="1385.9" r="4.3"/><circle cx="894.1" cy="1403.8" r="4.3"/><circle cx="934.8" cy="1368.8" r="4.3"/><circle cx="1038.1" cy="1415.0" r="4.3"/><circle cx="899.0" cy="1399.9" r="4.3"/><circle cx="953.7" cy="1407.1" r="4.3"/><circle cx="980.8" cy="1372.4" r="4.3"/><circle cx="1016.1" cy="1389.3" r="4.3"/><circle cx="1015.2" cy="1403.4" r="4.3"/><circle cx="942.2" cy="1387.2" r="4.3"/><circle cx="922.6" cy="1413.4" r="4.3"/><circle cx="1021.9" cy="1409.3" r="4.3"/><circle cx="945.8" cy="1378.9" r="4.3"/><circle cx="920.1" cy="1375.0" r="4.3"/><circle cx="1038.6" cy="1405.7" r="4.3"/><circle cx="1011.8" cy="1367.9" r="4.3"/><circle cx="890.3" cy="1414.2" r="4.3"/><circle cx="913.6" cy="1376.8" r="4.3"/><circle cx="1029.1" cy="1396.0" r="4.3"/><circle cx="954.1" cy="1398.2" r="4.3"/><circle cx="1031.5" cy="1402.7" r="4.3"/><circle cx="980.7" cy="1408.3" r="4.3"/><circle cx="906.1" cy="1411.0" r="4.3"/><circle cx="977.5" cy="1387.1" r="4.3"/><circle cx="885.8" cy="1400.7" r="4.3"/><circle cx="912.9" cy="1412.3" r="4.3"/><circle cx="1008.1" cy="1415.5" r="4.3"/><circle cx="899.8" cy="1403.9" r="4.3"/><circle cx="983.7" cy="1413.2" r="4.3"/><circle cx="992.5" cy="1410.4" r="4.3"/><circle cx="932.0" cy="1384.1" r="4.3"/><circle cx="972.4" cy="1407.1" r="4.3"/><circle cx="1018.8" cy="1382.8" r="4.3"/><circle cx="914.8" cy="1387.1" r="4.3"/><circle cx="884.9" cy="1381.1" r="4.3"/><circle cx="1012.0" cy="1395.5" r="4.3"/><circle cx="955.9" cy="1416.5" r="4.3"/><circle cx="970.0" cy="1368.1" r="4.3"/><circle cx="897.9" cy="1382.6" r="4.3"/><circle cx="962.7" cy="1410.4" r="4.3"/><circle cx="965.3" cy="1389.6" r="4.3"/><circle cx="960.5" cy="1366.5" r="4.3"/><circle cx="914.8" cy="1394.0" r="4.3"/><circle cx="1036.2" cy="1415.7" r="4.3"/><circle cx="1028.5" cy="1395.0" r="4.3"/><circle cx="980.8" cy="1388.2" r="4.3"/><circle cx="1006.6" cy="1407.4" r="4.3"/><circle cx="1016.0" cy="1387.6" r="4.3"/><circle cx="918.0" cy="1404.7" r="4.3"/><circle cx="943.8" cy="1411.2" r="4.3"/><circle cx="997.1" cy="1391.5" r="4.3"/><circle cx="971.7" cy="1391.5" r="4.3"/><circle cx="1014.8" cy="1402.6" r="4.3"/><circle cx="969.8" cy="1384.3" r="4.3"/><circle cx="949.5" cy="1406.9" r="4.3"/><circle cx="986.8" cy="1406.6" r="4.3"/><circle cx="887.6" cy="1405.4" r="4.3"/><circle cx="920.7" cy="1371.5" r="4.3"/><circle cx="955.5" cy="1405.8" r="4.3"/><circle cx="900.7" cy="1406.8" r="4.3"/><circle cx="898.3" cy="1404.8" r="4.3"/><circle cx="890.4" cy="1390.3" r="4.3"/><circle cx="998.4" cy="1378.8" r="4.3"/><circle cx="892.5" cy="1408.1" r="4.3"/><circle cx="1032.3" cy="1396.2" r="4.3"/><circle cx="1039.4" cy="1370.6" r="4.3"/><circle cx="914.2" cy="1379.3" r="4.3"/><circle cx="1033.2" cy="1388.1" r="4.3"/><circle cx="1007.0" cy="1390.8" r="4.3"/><circle cx="938.7" cy="1388.3" r="4.3"/><circle cx="1023.9" cy="1397.2" r="4.3"/><circle cx="906.4" cy="1394.6" r="4.3"/><circle cx="916.5" cy="1404.9" r="4.3"/><circle cx="933.8" cy="1412.8" r="4.3"/><circle cx="909.2" cy="1374.2" r="4.3"/><circle cx="1023.7" cy="1398.0" r="4.3"/><circle cx="902.0" cy="1401.7" r="4.3"/><circle cx="940.1" cy="1377.6" r="4.3"/><circle cx="974.5" cy="1389.7" r="4.3"/><circle cx="1038.9" cy="1381.9" r="4.3"/><circle cx="1008.4" cy="1392.8" r="4.3"/><circle cx="974.1" cy="1398.5" r="4.3"/><circle cx="953.0" cy="1399.0" r="4.3"/><circle cx="891.5" cy="1385.7" r="4.3"/><circle cx="983.7" cy="1376.8" r="4.3"/><circle cx="987.5" cy="1416.8" r="4.3"/><circle cx="889.3" cy="1402.2" r="4.3"/><circle cx="951.4" cy="1395.2" r="4.3"/><circle cx="904.6" cy="1401.3" r="4.3"/><circle cx="887.5" cy="1408.6" r="4.3"/><circle cx="900.6" cy="1411.8" r="4.3"/><circle cx="975.0" cy="1412.2" r="4.3"/><circle cx="981.3" cy="1413.9" r="4.3"/><circle cx="1030.1" cy="1413.5" r="4.3"/><circle cx="898.9" cy="1369.1" r="4.3"/><circle cx="1006.0" cy="1410.8" r="4.3"/><circle cx="885.8" cy="1377.4" r="4.3"/><circle cx="938.7" cy="1380.6" r="4.3"/><circle cx="1030.2" cy="1385.9" r="4.3"/><circle cx="1024.9" cy="1404.3" r="4.3"/><circle cx="947.3" cy="1415.6" r="4.3"/><circle cx="1005.5" cy="1403.8" r="4.3"/><circle cx="1030.8" cy="1412.3" r="4.3"/><circle cx="978.9" cy="1401.6" r="4.3"/><circle cx="1010.9" cy="1409.7" r="4.3"/><circle cx="930.8" cy="1395.4" r="4.3"/><circle cx="1006.1" cy="1392.4" r="4.3"/><circle cx="1015.7" cy="1380.0" r="4.3"/><circle cx="999.7" cy="1411.7" r="4.3"/><circle cx="900.4" cy="1416.0" r="4.3"/><circle cx="936.3" cy="1373.8" r="4.3"/><circle cx="1015.9" cy="1385.4" r="4.3"/><circle cx="970.4" cy="1397.9" r="4.3"/><circle cx="965.6" cy="1401.6" r="4.3"/><circle cx="1034.6" cy="1395.6" r="4.3"/><circle cx="886.4" cy="1411.5" r="4.3"/><circle cx="1000.0" cy="1372.5" r="4.3"/><circle cx="935.0" cy="1383.7" r="4.3"/><circle cx="921.3" cy="1375.6" r="4.3"/><circle cx="992.1" cy="1366.2" r="4.3"/><circle cx="957.2" cy="1373.8" r="4.3"/><circle cx="1017.8" cy="1399.5" r="4.3"/><circle cx="973.0" cy="1412.1" r="4.3"/><circle cx="981.1" cy="1394.8" r="4.3"/><circle cx="906.6" cy="1414.5" r="4.3"/><circle cx="1028.9" cy="1413.7" r="4.3"/><circle cx="888.5" cy="1400.3" r="4.3"/><circle cx="982.9" cy="1372.7" r="4.3"/><circle cx="894.3" cy="1408.4" r="4.3"/><circle cx="1011.5" cy="1368.5" r="4.3"/><circle cx="894.3" cy="1367.9" r="4.3"/><circle cx="1031.3" cy="1412.2" r="4.3"/><circle cx="901.5" cy="1396.4" r="4.3"/><circle cx="1010.7" cy="1370.3" r="4.3"/><circle cx="982.5" cy="1414.6" r="4.3"/><circle cx="899.3" cy="1387.0" r="4.3"/><circle cx="933.8" cy="1416.4" r="4.3"/><circle cx="924.0" cy="1399.7" r="4.3"/><circle cx="941.4" cy="1393.5" r="4.3"/><circle cx="962.6" cy="1375.9" r="4.3"/><circle cx="888.8" cy="1406.7" r="4.3"/><circle cx="1004.6" cy="1400.0" r="4.3"/><circle cx="967.9" cy="1396.1" r="4.3"/><circle cx="898.2" cy="1388.0" r="4.3"/><circle cx="884.2" cy="1398.6" r="4.3"/><circle cx="1036.5" cy="1405.3" r="4.3"/><circle cx="960.7" cy="1387.6" r="4.3"/><circle cx="961.2" cy="1396.8" r="4.3"/><circle cx="924.6" cy="1384.9" r="4.3"/><circle cx="917.5" cy="1379.1" r="4.3"/><circle cx="901.1" cy="1390.4" r="4.3"/><circle cx="1006.9" cy="1371.4" r="4.3"/><circle cx="982.0" cy="1407.5" r="4.3"/><circle cx="945.6" cy="1390.2" r="4.3"/><circle cx="1022.6" cy="1412.2" r="4.3"/><circle cx="925.1" cy="1379.1" r="4.3"/><circle cx="943.2" cy="1386.3" r="4.3"/><circle cx="955.9" cy="1398.8" r="4.3"/><circle cx="1001.5" cy="1383.2" r="4.3"/><circle cx="935.0" cy="1396.5" r="4.3"/><circle cx="987.3" cy="1388.0" r="4.3"/><circle cx="952.5" cy="1377.0" r="4.3"/><circle cx="903.7" cy="1395.5" r="4.3"/><circle cx="921.1" cy="1409.9" r="4.3"/><circle cx="993.7" cy="1388.4" r="4.3"/><circle cx="908.3" cy="1409.3" r="4.3"/><circle cx="965.5" cy="1409.3" r="4.3"/><circle cx="913.5" cy="1372.9" r="4.3"/><circle cx="899.9" cy="1389.8" r="4.3"/><circle cx="943.9" cy="1371.1" r="4.3"/><circle cx="998.4" cy="1412.4" r="4.3"/><circle cx="983.5" cy="1412.2" r="4.3"/><circle cx="944.6" cy="1407.6" r="4.3"/><circle cx="1007.4" cy="1379.1" r="4.3"/><circle cx="982.7" cy="1413.7" r="4.3"/><circle cx="978.2" cy="1399.1" r="4.3"/><circle cx="1025.6" cy="1403.3" r="4.3"/><circle cx="1000.9" cy="1411.7" r="4.3"/><circle cx="996.7" cy="1371.7" r="4.3"/><circle cx="993.2" cy="1374.3" r="4.3"/><circle cx="984.1" cy="1409.6" r="4.3"/><circle cx="982.0" cy="1407.1" r="4.3"/><circle cx="1006.1" cy="1375.6" r="4.3"/><circle cx="923.0" cy="1406.2" r="4.3"/><circle cx="981.0" cy="1400.8" r="4.3"/><circle cx="1029.1" cy="1401.3" r="4.3"/><circle cx="1005.4" cy="1405.3" r="4.3"/><circle cx="1036.0" cy="1404.0" r="4.3"/><circle cx="909.1" cy="1367.2" r="4.3"/><circle cx="965.0" cy="1403.3" r="4.3"/><circle cx="968.4" cy="1378.8" r="4.3"/><circle cx="983.7" cy="1378.5" r="4.3"/><circle cx="948.0" cy="1386.9" r="4.3"/><circle cx="990.8" cy="1398.6" r="4.3"/><circle cx="903.1" cy="1383.0" r="4.3"/><circle cx="892.8" cy="1407.5" r="4.3"/><circle cx="886.1" cy="1407.0" r="4.3"/><circle cx="992.9" cy="1410.8" r="4.3"/><circle cx="919.0" cy="1367.2" r="4.3"/><circle cx="966.2" cy="1397.6" r="4.3"/><circle cx="945.1" cy="1414.0" r="4.3"/><circle cx="1005.2" cy="1375.5" r="4.3"/><circle cx="957.2" cy="1411.7" r="4.3"/><circle cx="1034.4" cy="1401.7" r="4.3"/><circle cx="1011.7" cy="1379.9" r="4.3"/><circle cx="929.9" cy="1414.1" r="4.3"/><circle cx="1014.1" cy="1396.3" r="4.3"/><circle cx="925.7" cy="1411.1" r="4.3"/><circle cx="950.5" cy="1416.8" r="4.3"/><circle cx="996.6" cy="1411.3" r="4.3"/><circle cx="931.1" cy="1406.8" r="4.3"/><circle cx="983.4" cy="1382.8" r="4.3"/><circle cx="1028.9" cy="1391.0" r="4.3"/><circle cx="1013.2" cy="1371.4" r="4.3"/><circle cx="905.9" cy="1375.5" r="4.3"/><circle cx="886.3" cy="1393.8" r="4.3"/><circle cx="986.3" cy="1414.6" r="4.3"/><circle cx="906.3" cy="1398.2" r="4.3"/><circle cx="938.0" cy="1395.0" r="4.3"/><circle cx="1007.5" cy="1395.3" r="4.3"/><circle cx="978.9" cy="1374.6" r="4.3"/><circle cx="1023.5" cy="1370.0" r="4.3"/><circle cx="914.8" cy="1378.3" r="4.3"/><circle cx="999.7" cy="1395.5" r="4.3"/><circle cx="970.6" cy="1411.5" r="4.3"/><circle cx="905.7" cy="1415.6" r="4.3"/><circle cx="956.9" cy="1405.3" r="4.3"/><circle cx="961.7" cy="1396.0" r="4.3"/><circle cx="885.0" cy="1380.0" r="4.3"/><circle cx="971.8" cy="1369.9" r="4.3"/><circle cx="942.5" cy="1393.6" r="4.3"/><circle cx="895.8" cy="1375.4" r="4.3"/><circle cx="888.5" cy="1400.6" r="4.3"/><circle cx="1029.3" cy="1393.0" r="4.3"/><circle cx="963.7" cy="1395.2" r="4.3"/><circle cx="889.3" cy="1375.7" r="4.3"/><circle cx="936.8" cy="1382.7" r="4.3"/><circle cx="958.0" cy="1398.4" r="4.3"/><circle cx="916.9" cy="1407.0" r="4.3"/><circle cx="970.4" cy="1384.7" r="4.3"/><circle cx="1013.1" cy="1405.0" r="4.3"/><circle cx="926.4" cy="1393.2" r="4.3"/><circle cx="986.1" cy="1383.6" r="4.3"/><circle cx="933.5" cy="1403.0" r="4.3"/><circle cx="983.0" cy="1391.5" r="4.3"/><circle cx="996.7" cy="1377.9" r="4.3"/><circle cx="891.8" cy="1416.7" r="4.3"/><circle cx="913.6" cy="1376.2" r="4.3"/><circle cx="986.7" cy="1368.0" r="4.3"/><circle cx="979.4" cy="1402.0" r="4.3"/><circle cx="992.6" cy="1400.6" r="4.3"/><circle cx="917.2" cy="1380.2" r="4.3"/><circle cx="1003.0" cy="1412.8" r="4.3"/><circle cx="889.8" cy="1367.9" r="4.3"/><circle cx="986.3" cy="1397.1" r="4.3"/><circle cx="1006.7" cy="1411.0" r="4.3"/><circle cx="931.1" cy="1409.5" r="4.3"/><circle cx="951.2" cy="1367.4" r="4.3"/><circle cx="892.5" cy="1416.0" r="4.3"/><circle cx="902.5" cy="1377.1" r="4.3"/><circle cx="1027.3" cy="1416.5" r="4.3"/><circle cx="944.4" cy="1394.1" r="4.3"/><circle cx="1037.0" cy="1407.2" r="4.3"/><circle cx="899.9" cy="1386.8" r="4.3"/><circle cx="907.7" cy="1416.7" r="4.3"/><circle cx="990.7" cy="1393.4" r="4.3"/><circle cx="897.7" cy="1389.1" r="4.3"/><circle cx="886.8" cy="1386.0" r="4.3"/><circle cx="998.4" cy="1415.8" r="4.3"/><circle cx="1004.7" cy="1369.5" r="4.3"/><circle cx="997.8" cy="1401.9" r="4.3"/><circle cx="994.6" cy="1394.3" r="4.3"/><circle cx="923.6" cy="1373.2" r="4.3"/><circle cx="885.8" cy="1401.4" r="4.3"/><circle cx="1011.5" cy="1409.7" r="4.3"/><circle cx="997.8" cy="1396.1" r="4.3"/><circle cx="959.9" cy="1408.3" r="4.3"/><circle cx="973.7" cy="1400.7" r="4.3"/><circle cx="906.6" cy="1382.8" r="4.3"/><circle cx="984.6" cy="1381.3" r="4.3"/><circle cx="944.2" cy="1367.1" r="4.3"/><circle cx="1006.4" cy="1410.1" r="4.3"/><circle cx="893.5" cy="1373.6" r="4.3"/><circle cx="1013.1" cy="1402.5" r="4.3"/><circle cx="1036.5" cy="1376.4" r="4.3"/><circle cx="932.1" cy="1395.4" r="4.3"/><circle cx="942.8" cy="1376.3" r="4.3"/><circle cx="1023.8" cy="1384.9" r="4.3"/><circle cx="884.3" cy="1407.0" r="4.3"/><circle cx="975.5" cy="1368.7" r="4.3"/><circle cx="853.4" cy="1370.7" r="4.3"/><circle cx="879.8" cy="1410.6" r="4.3"/><circle cx="879.2" cy="1374.1" r="4.3"/><circle cx="881.2" cy="1415.0" r="4.3"/><circle cx="869.7" cy="1387.2" r="4.3"/><circle cx="876.0" cy="1386.3" r="4.3"/><circle cx="871.4" cy="1380.0" r="4.3"/><circle cx="858.6" cy="1398.9" r="4.3"/><circle cx="877.3" cy="1414.9" r="4.3"/><circle cx="877.8" cy="1386.3" r="4.3"/><circle cx="870.5" cy="1368.7" r="4.3"/><circle cx="868.7" cy="1402.9" r="4.3"/><circle cx="858.1" cy="1412.8" r="4.3"/><circle cx="874.4" cy="1403.5" r="4.3"/><circle cx="864.9" cy="1413.5" r="4.3"/><circle cx="853.4" cy="1382.5" r="4.3"/><circle cx="855.4" cy="1371.3" r="4.3"/><circle cx="857.0" cy="1408.9" r="4.3"/><circle cx="868.6" cy="1416.1" r="4.3"/><circle cx="883.7" cy="1379.5" r="4.3"/><circle cx="870.1" cy="1398.1" r="4.3"/><circle cx="865.6" cy="1371.9" r="4.3"/><circle cx="878.2" cy="1385.7" r="4.3"/><circle cx="853.2" cy="1412.8" r="4.3"/><circle cx="854.7" cy="1403.7" r="4.3"/><circle cx="879.9" cy="1393.9" r="4.3"/><circle cx="881.1" cy="1402.7" r="4.3"/><circle cx="864.7" cy="1393.6" r="4.3"/><circle cx="860.2" cy="1401.6" r="4.3"/><circle cx="882.6" cy="1382.0" r="4.3"/><circle cx="866.3" cy="1393.4" r="4.3"/><circle cx="883.7" cy="1416.0" r="4.3"/><circle cx="860.2" cy="1395.0" r="4.3"/><circle cx="880.9" cy="1391.3" r="4.3"/><circle cx="877.2" cy="1375.1" r="4.3"/><circle cx="883.5" cy="1413.6" r="4.3"/><circle cx="876.2" cy="1374.3" r="4.3"/><circle cx="861.6" cy="1398.7" r="4.3"/><circle cx="855.4" cy="1411.0" r="4.3"/><circle cx="856.0" cy="1413.1" r="4.3"/><circle cx="1056.7" cy="1392.6" r="4.3"/><circle cx="1040.9" cy="1410.3" r="4.3"/><circle cx="1042.5" cy="1377.2" r="4.3"/><circle cx="1105.4" cy="1367.3" r="4.3"/><circle cx="1049.8" cy="1413.7" r="4.3"/><circle cx="1105.0" cy="1371.1" r="4.3"/><circle cx="1071.7" cy="1387.2" r="4.3"/><circle cx="1073.4" cy="1412.1" r="4.3"/><circle cx="1055.5" cy="1391.3" r="4.3"/><circle cx="1078.7" cy="1385.4" r="4.3"/><circle cx="1058.6" cy="1411.6" r="4.3"/><circle cx="1059.0" cy="1405.3" r="4.3"/><circle cx="1051.7" cy="1405.9" r="4.3"/><circle cx="1103.2" cy="1381.3" r="4.3"/><circle cx="1044.0" cy="1370.5" r="4.3"/><circle cx="1054.8" cy="1407.0" r="4.3"/><circle cx="1058.0" cy="1404.2" r="4.3"/><circle cx="1109.4" cy="1366.7" r="4.3"/><circle cx="1046.8" cy="1384.4" r="4.3"/><circle cx="1044.0" cy="1406.8" r="4.3"/><circle cx="1108.5" cy="1387.8" r="4.3"/><circle cx="1063.9" cy="1416.8" r="4.3"/><circle cx="1098.3" cy="1410.6" r="4.3"/><circle cx="1070.5" cy="1377.2" r="4.3"/><circle cx="1080.0" cy="1410.8" r="4.3"/><circle cx="1093.9" cy="1410.2" r="4.3"/><circle cx="1045.5" cy="1395.2" r="4.3"/><circle cx="1074.7" cy="1409.9" r="4.3"/><circle cx="1082.9" cy="1387.6" r="4.3"/><circle cx="1080.8" cy="1414.7" r="4.3"/><circle cx="1091.3" cy="1391.0" r="4.3"/><circle cx="1043.9" cy="1405.3" r="4.3"/><circle cx="1098.9" cy="1373.1" r="4.3"/><circle cx="1041.1" cy="1373.4" r="4.3"/><circle cx="1101.0" cy="1410.6" r="4.3"/><circle cx="1098.2" cy="1411.4" r="4.3"/><circle cx="1066.0" cy="1416.7" r="4.3"/><circle cx="1076.4" cy="1398.7" r="4.3"/><circle cx="1048.5" cy="1387.4" r="4.3"/><circle cx="1100.6" cy="1391.4" r="4.3"/><circle cx="1066.7" cy="1414.9" r="4.3"/><circle cx="1101.1" cy="1373.1" r="4.3"/><circle cx="1075.9" cy="1397.9" r="4.3"/><circle cx="1041.4" cy="1377.1" r="4.3"/><circle cx="1052.8" cy="1408.3" r="4.3"/><circle cx="1097.2" cy="1413.7" r="4.3"/><circle cx="1088.9" cy="1416.3" r="4.3"/><circle cx="1082.0" cy="1398.4" r="4.3"/><circle cx="1089.2" cy="1385.4" r="4.3"/><circle cx="1090.2" cy="1412.8" r="4.3"/><circle cx="1074.6" cy="1407.3" r="4.3"/><circle cx="1048.5" cy="1412.3" r="4.3"/><circle cx="1081.4" cy="1378.3" r="4.3"/><circle cx="1080.1" cy="1411.3" r="4.3"/><circle cx="1097.8" cy="1374.7" r="4.3"/><circle cx="1069.4" cy="1398.3" r="4.3"/><circle cx="1067.7" cy="1368.9" r="4.3"/><circle cx="1063.7" cy="1405.3" r="4.3"/><circle cx="1070.5" cy="1368.5" r="4.3"/><circle cx="1103.9" cy="1386.2" r="4.3"/><circle cx="1043.7" cy="1382.0" r="4.3"/><circle cx="1105.4" cy="1402.1" r="4.3"/><circle cx="1084.3" cy="1398.1" r="4.3"/><circle cx="1044.8" cy="1399.1" r="4.3"/><circle cx="1041.5" cy="1381.6" r="4.3"/><circle cx="1094.4" cy="1371.1" r="4.3"/><circle cx="1096.6" cy="1367.3" r="4.3"/><circle cx="1042.4" cy="1407.8" r="4.3"/><circle cx="1087.5" cy="1397.7" r="4.3"/><circle cx="1104.7" cy="1408.3" r="4.3"/><circle cx="1076.4" cy="1382.3" r="4.3"/><circle cx="1060.1" cy="1393.8" r="4.3"/><circle cx="1048.4" cy="1382.1" r="4.3"/><circle cx="1076.0" cy="1400.5" r="4.3"/><circle cx="1077.4" cy="1412.7" r="4.3"/><circle cx="1049.2" cy="1402.7" r="4.3"/><circle cx="1060.2" cy="1414.0" r="4.3"/><circle cx="1078.2" cy="1395.2" r="4.3"/><circle cx="1079.9" cy="1410.1" r="4.3"/><circle cx="1089.7" cy="1397.5" r="4.3"/><circle cx="1082.9" cy="1406.2" r="4.3"/><circle cx="1057.0" cy="1398.8" r="4.3"/><circle cx="1066.8" cy="1416.5" r="4.3"/><circle cx="1064.7" cy="1376.9" r="4.3"/><circle cx="1079.0" cy="1407.1" r="4.3"/><circle cx="1109.1" cy="1389.1" r="4.3"/><circle cx="1051.1" cy="1385.3" r="4.3"/><circle cx="1070.8" cy="1403.4" r="4.3"/><circle cx="1070.8" cy="1413.2" r="4.3"/><circle cx="1055.8" cy="1369.5" r="4.3"/><circle cx="1117.7" cy="1404.6" r="4.3"/><circle cx="1143.8" cy="1386.1" r="4.3"/><circle cx="1151.1" cy="1390.3" r="4.3"/><circle cx="1147.2" cy="1400.2" r="4.3"/><circle cx="1149.2" cy="1383.7" r="4.3"/><circle cx="1116.4" cy="1380.4" r="4.3"/><circle cx="1148.3" cy="1399.3" r="4.3"/><circle cx="1158.1" cy="1402.3" r="4.3"/><circle cx="1149.2" cy="1371.4" r="4.3"/><circle cx="1129.0" cy="1400.8" r="4.3"/><circle cx="1146.2" cy="1403.2" r="4.3"/><circle cx="1137.8" cy="1405.7" r="4.3"/><circle cx="1149.4" cy="1373.0" r="4.3"/><circle cx="1132.2" cy="1406.4" r="4.3"/><circle cx="1117.2" cy="1396.2" r="4.3"/><circle cx="1114.4" cy="1375.6" r="4.3"/><circle cx="1152.2" cy="1382.0" r="4.3"/><circle cx="1120.2" cy="1383.8" r="4.3"/><circle cx="1110.5" cy="1396.8" r="4.3"/><circle cx="1134.9" cy="1369.0" r="4.3"/><circle cx="1136.9" cy="1372.8" r="4.3"/><circle cx="1135.9" cy="1403.3" r="4.3"/><circle cx="1127.9" cy="1404.7" r="4.3"/><circle cx="1157.4" cy="1398.3" r="4.3"/><circle cx="1114.9" cy="1402.9" r="4.3"/><circle cx="1138.1" cy="1385.0" r="4.3"/><circle cx="1158.2" cy="1401.4" r="4.3"/><circle cx="1141.2" cy="1375.4" r="4.3"/><circle cx="1136.5" cy="1411.1" r="4.3"/><circle cx="1125.9" cy="1368.2" r="4.3"/><circle cx="1135.6" cy="1384.5" r="4.3"/><circle cx="1144.5" cy="1380.8" r="4.3"/><circle cx="1154.4" cy="1411.6" r="4.3"/><circle cx="1124.5" cy="1399.1" r="4.3"/><circle cx="1119.4" cy="1394.4" r="4.3"/><circle cx="1140.2" cy="1380.7" r="4.3"/><circle cx="1141.8" cy="1402.5" r="4.3"/><circle cx="1149.4" cy="1392.1" r="4.3"/><circle cx="1110.2" cy="1386.4" r="4.3"/><circle cx="1139.3" cy="1410.2" r="4.3"/><circle cx="1134.9" cy="1407.8" r="4.3"/><circle cx="1142.3" cy="1380.5" r="4.3"/><circle cx="1138.7" cy="1412.8" r="4.3"/><circle cx="1117.8" cy="1413.3" r="4.3"/><circle cx="1166.0" cy="1398.4" r="4.3"/><circle cx="1209.4" cy="1387.8" r="4.3"/><circle cx="1163.7" cy="1389.1" r="4.3"/><circle cx="1179.4" cy="1404.6" r="4.3"/><circle cx="1170.2" cy="1413.6" r="4.3"/><circle cx="1214.2" cy="1404.8" r="4.3"/><circle cx="1187.0" cy="1415.1" r="4.3"/><circle cx="1213.4" cy="1382.0" r="4.3"/><circle cx="1186.4" cy="1408.3" r="4.3"/><circle cx="1162.6" cy="1367.8" r="4.3"/><circle cx="1178.9" cy="1368.3" r="4.3"/><circle cx="1178.2" cy="1382.0" r="4.3"/><circle cx="1189.7" cy="1376.8" r="4.3"/><circle cx="1183.4" cy="1409.3" r="4.3"/><circle cx="1178.5" cy="1373.3" r="4.3"/><circle cx="1207.6" cy="1411.0" r="4.3"/><circle cx="1181.5" cy="1381.5" r="4.3"/><circle cx="1177.4" cy="1413.1" r="4.3"/><circle cx="1192.0" cy="1402.8" r="4.3"/><circle cx="1163.9" cy="1387.1" r="4.3"/><circle cx="1181.1" cy="1410.4" r="4.3"/><circle cx="1177.0" cy="1415.7" r="4.3"/><circle cx="1199.9" cy="1411.6" r="4.3"/><circle cx="1202.4" cy="1407.6" r="4.3"/><circle cx="1210.1" cy="1401.3" r="4.3"/><circle cx="1210.2" cy="1378.1" r="4.3"/><circle cx="1181.2" cy="1403.8" r="4.3"/><circle cx="1217.5" cy="1382.3" r="4.3"/></g>
<g clip-path="url(#cB)" fill="#ff7f0e" fill-opacity="0.6" ><circle cx="986.4" cy="938.2" r="4.3"/><circle cx="930.1" cy="998.3" r="4.3"/><circle cx="840.7" cy="1067.0" r="4.3"/><circle cx="916.5" cy="1068.4" r="4.3"/><circle cx="962.2" cy="1062.6" r="4.3"/><circle cx="929.1" cy="1075.2" r="4.3"/><circle cx="939.7" cy="1073.6" r="4.3"/><circle cx="993.9" cy="1081.3" r="4.3"/><circle cx="904.5" cy="1084.2" r="4.3"/><circle cx="884.3" cy="1095.0" r="4.3"/><circle cx="952.6" cy="1106.2" r="4.3"/><circle cx="932.2" cy="1109.7" r="4.3"/><circle cx="957.1" cy="1115.6" r="4.3"/><circle cx="903.8" cy="1117.2" r="4.3"/><circle cx="786.7" cy="1133.4" r="4.3"/><circle cx="928.4" cy="1129.9" r="4.3"/><circle cx="921.9" cy="1133.2" r="4.3"/><circle cx="912.0" cy="1141.9" r="4.3"/><circle cx="838.6" cy="1144.2" r="4.3"/><circle cx="890.4" cy="1162.3" r="4.3"/><circle cx="957.1" cy="1158.1" r="4.3"/><circle cx="971.4" cy="1159.7" r="4.3"/><circle cx="986.4" cy="1160.4" r="4.3"/><circle cx="930.8" cy="1167.9" r="4.3"/><circle cx="928.0" cy="1170.3" r="4.3"/><circle cx="953.1" cy="1175.9" r="4.3"/><circle cx="907.6" cy="1179.6" r="4.3"/><circle cx="902.6" cy="1186.2" r="4.3"/><circle cx="897.5" cy="1187.4" r="4.3"/><circle cx="942.3" cy="1187.6" r="4.3"/><circle cx="934.3" cy="1190.7" r="4.3"/><circle cx="914.4" cy="1206.2" r="4.3"/><circle cx="922.1" cy="1212.7" r="4.3"/><circle cx="996.5" cy="1206.2" r="4.3"/><circle cx="887.4" cy="1220.9" r="4.3"/><circle cx="897.7" cy="1218.8" r="4.3"/><circle cx="907.3" cy="1220.0" r="4.3"/><circle cx="910.9" cy="1226.8" r="4.3"/><circle cx="920.5" cy="1227.0" r="4.3"/><circle cx="818.7" cy="1224.5" r="4.3"/><circle cx="927.7" cy="1237.1" r="4.3"/><circle cx="934.8" cy="1243.2" r="4.3"/><circle cx="744.0" cy="1239.5" r="4.3"/><circle cx="842.6" cy="1241.3" r="4.3"/><circle cx="713.8" cy="1251.2" r="4.3"/><circle cx="969.7" cy="1241.3" r="4.3"/><circle cx="967.4" cy="1246.7" r="4.3"/><circle cx="909.2" cy="1248.4" r="4.3"/><circle cx="907.3" cy="1251.4" r="4.3"/><circle cx="958.2" cy="1250.5" r="4.3"/><circle cx="966.5" cy="1254.3" r="4.3"/><circle cx="945.8" cy="1257.3" r="4.3"/><circle cx="983.1" cy="1250.3" r="4.3"/><circle cx="991.3" cy="1245.6" r="4.3"/><circle cx="993.2" cy="1242.5" r="4.3"/><circle cx="997.2" cy="1234.8" r="4.3"/><circle cx="954.7" cy="1259.9" r="4.3"/><circle cx="998.8" cy="1251.9" r="4.3"/><circle cx="1072.7" cy="908.9" r="4.3"/><circle cx="1173.8" cy="911.3" r="4.3"/><circle cx="1090.3" cy="918.1" r="4.3"/><circle cx="1356.1" cy="916.0" r="4.3"/><circle cx="1030.0" cy="929.6" r="4.3"/><circle cx="1028.2" cy="944.6" r="4.3"/><circle cx="1032.8" cy="946.9" r="4.3"/><circle cx="1126.2" cy="945.5" r="4.3"/><circle cx="1009.9" cy="955.1" r="4.3"/><circle cx="1072.0" cy="954.0" r="4.3"/><circle cx="1072.0" cy="954.2" r="4.3"/><circle cx="1179.0" cy="966.4" r="4.3"/><circle cx="1027.0" cy="969.2" r="4.3"/><circle cx="1197.8" cy="974.1" r="4.3"/><circle cx="1182.1" cy="980.0" r="4.3"/><circle cx="1316.2" cy="965.2" r="4.3"/><circle cx="1366.0" cy="960.1" r="4.3"/><circle cx="1390.6" cy="966.2" r="4.3"/><circle cx="1025.6" cy="990.6" r="4.3"/><circle cx="1048.6" cy="990.1" r="4.3"/><circle cx="1038.5" cy="1000.9" r="4.3"/><circle cx="1051.1" cy="1004.9" r="4.3"/><circle cx="1010.3" cy="1007.4" r="4.3"/><circle cx="1046.0" cy="1011.7" r="4.3"/><circle cx="1105.3" cy="1025.5" r="4.3"/><circle cx="1149.4" cy="1024.8" r="4.3"/><circle cx="1154.6" cy="1032.8" r="4.3"/><circle cx="1022.8" cy="1027.2" r="4.3"/><circle cx="1018.3" cy="1035.4" r="4.3"/><circle cx="1037.8" cy="1034.0" r="4.3"/><circle cx="1053.5" cy="1031.6" r="4.3"/><circle cx="1063.3" cy="1038.2" r="4.3"/><circle cx="1193.1" cy="1044.0" r="4.3"/><circle cx="1189.1" cy="1051.8" r="4.3"/><circle cx="1317.2" cy="1050.9" r="4.3"/><circle cx="1005.2" cy="1053.4" r="4.3"/><circle cx="1027.7" cy="1053.9" r="4.3"/><circle cx="1038.0" cy="1050.4" r="4.3"/><circle cx="1107.4" cy="1062.1" r="4.3"/><circle cx="1243.0" cy="1062.8" r="4.3"/><circle cx="1023.0" cy="1069.6" r="4.3"/><circle cx="1119.2" cy="1088.2" r="4.3"/><circle cx="1062.4" cy="1100.8" r="4.3"/><circle cx="1083.5" cy="1104.6" r="4.3"/><circle cx="1045.7" cy="1106.7" r="4.3"/><circle cx="1320.5" cy="1099.4" r="4.3"/><circle cx="1116.8" cy="1114.7" r="4.3"/><circle cx="1128.1" cy="1113.7" r="4.3"/><circle cx="1154.6" cy="1114.2" r="4.3"/><circle cx="1270.0" cy="1120.5" r="4.3"/><circle cx="1041.8" cy="1121.9" r="4.3"/><circle cx="1021.3" cy="1125.2" r="4.3"/><circle cx="1088.7" cy="1126.4" r="4.3"/><circle cx="1195.2" cy="1135.3" r="4.3"/><circle cx="1271.4" cy="1138.4" r="4.3"/><circle cx="1061.7" cy="1142.1" r="4.3"/><circle cx="1016.4" cy="1147.5" r="4.3"/><circle cx="1030.7" cy="1151.0" r="4.3"/><circle cx="1056.1" cy="1150.3" r="4.3"/><circle cx="1065.7" cy="1155.2" r="4.3"/><circle cx="1041.8" cy="1156.7" r="4.3"/><circle cx="1114.7" cy="1153.6" r="4.3"/><circle cx="1167.3" cy="1150.1" r="4.3"/><circle cx="1161.2" cy="1158.3" r="4.3"/><circle cx="1175.7" cy="1162.3" r="4.3"/><circle cx="1240.9" cy="1154.8" r="4.3"/><circle cx="1341.3" cy="1152.9" r="4.3"/><circle cx="1396.5" cy="1151.0" r="4.3"/><circle cx="1386.6" cy="1163.2" r="4.3"/><circle cx="1002.3" cy="1161.1" r="4.3"/><circle cx="1024.6" cy="1163.9" r="4.3"/><circle cx="1040.6" cy="1165.6" r="4.3"/><circle cx="1119.9" cy="1167.7" r="4.3"/><circle cx="1102.5" cy="1170.3" r="4.3"/><circle cx="1067.1" cy="1173.8" r="4.3"/><circle cx="1187.0" cy="1176.6" r="4.3"/><circle cx="1039.4" cy="1183.4" r="4.3"/><circle cx="1130.4" cy="1182.7" r="4.3"/><circle cx="1062.9" cy="1186.9" r="4.3"/><circle cx="1291.6" cy="1191.1" r="4.3"/><circle cx="1107.9" cy="1192.6" r="4.3"/><circle cx="1162.8" cy="1195.4" r="4.3"/><circle cx="1040.4" cy="1198.7" r="4.3"/><circle cx="1144.3" cy="1201.0" r="4.3"/><circle cx="1111.7" cy="1208.0" r="4.3"/><circle cx="1121.1" cy="1211.3" r="4.3"/><circle cx="1031.2" cy="1209.7" r="4.3"/><circle cx="1048.8" cy="1213.9" r="4.3"/><circle cx="1075.8" cy="1210.1" r="4.3"/><circle cx="1086.6" cy="1210.1" r="4.3"/><circle cx="1231.3" cy="1210.4" r="4.3"/><circle cx="1170.8" cy="1220.2" r="4.3"/><circle cx="1171.0" cy="1220.5" r="4.3"/><circle cx="1160.7" cy="1222.3" r="4.3"/><circle cx="1150.1" cy="1225.6" r="4.3"/><circle cx="1110.7" cy="1224.0" r="4.3"/><circle cx="1175.5" cy="1231.3" r="4.3"/><circle cx="1293.0" cy="1226.6" r="4.3"/><circle cx="1315.5" cy="1228.7" r="4.3"/><circle cx="1109.1" cy="1233.4" r="4.3"/><circle cx="1237.4" cy="1234.3" r="4.3"/><circle cx="1060.3" cy="1236.9" r="4.3"/><circle cx="1135.6" cy="1237.1" r="4.3"/><circle cx="1150.1" cy="1237.1" r="4.3"/><circle cx="1268.2" cy="1237.1" r="4.3"/><circle cx="1037.5" cy="1239.5" r="4.3"/><circle cx="1175.5" cy="1241.6" r="4.3"/><circle cx="1236.0" cy="1243.2" r="4.3"/><circle cx="1168.0" cy="1245.3" r="4.3"/><circle cx="1038.7" cy="1245.6" r="4.3"/><circle cx="1277.8" cy="1248.4" r="4.3"/><circle cx="1048.3" cy="1251.0" r="4.3"/><circle cx="1131.8" cy="1251.4" r="4.3"/><circle cx="1085.2" cy="1254.7" r="4.3"/><circle cx="1250.8" cy="1254.7" r="4.3"/><circle cx="1273.3" cy="1254.3" r="4.3"/><circle cx="1288.1" cy="1255.9" r="4.3"/><circle cx="1069.9" cy="1257.8" r="4.3"/><circle cx="1101.3" cy="1257.8" r="4.3"/><circle cx="1024.2" cy="1258.9" r="4.3"/><circle cx="1295.1" cy="1258.9" r="4.3"/><circle cx="1133.3" cy="1258.9" r="4.3"/><circle cx="1587.0" cy="921.3" r="4.3"/><circle cx="1439.7" cy="983.8" r="4.3"/><circle cx="1482.4" cy="998.8" r="4.3"/><circle cx="1452.6" cy="1023.2" r="4.3"/><circle cx="1681.3" cy="996.2" r="4.3"/><circle cx="1680.4" cy="1002.1" r="4.3"/><circle cx="1518.7" cy="1119.4" r="4.3"/><circle cx="1700.3" cy="1137.4" r="4.3"/><circle cx="1627.6" cy="1189.5" r="4.3"/><circle cx="1669.1" cy="1184.3" r="4.3"/><circle cx="1459.1" cy="1209.0" r="4.3"/><circle cx="1231.4" cy="1271.0" r="4.3"/><circle cx="1236.5" cy="1276.8" r="4.3"/><circle cx="1356.8" cy="1264.5" r="4.3"/><circle cx="1348.0" cy="1272.3" r="4.3"/><circle cx="1227.6" cy="1292.9" r="4.3"/><circle cx="1226.5" cy="1299.4" r="4.3"/><circle cx="1314.6" cy="1290.6" r="4.3"/><circle cx="1322.6" cy="1296.4" r="4.3"/><circle cx="1299.4" cy="1296.5" r="4.3"/><circle cx="1280.8" cy="1300.1" r="4.3"/><circle cx="1378.5" cy="1294.8" r="4.3"/><circle cx="1258.1" cy="1306.5" r="4.3"/><circle cx="1272.9" cy="1310.1" r="4.3"/><circle cx="1296.9" cy="1308.0" r="4.3"/><circle cx="1239.4" cy="1312.5" r="4.3"/><circle cx="1378.3" cy="1310.7" r="4.3"/><circle cx="1262.3" cy="1316.9" r="4.3"/><circle cx="1341.7" cy="1318.3" r="4.3"/><circle cx="1365.5" cy="1317.5" r="4.3"/><circle cx="1311.0" cy="1321.3" r="4.3"/><circle cx="1227.7" cy="1322.6" r="4.3"/><circle cx="1220.0" cy="1314.2" r="4.3"/><circle cx="1220.0" cy="1322.6" r="4.3"/><circle cx="1368.4" cy="1327.1" r="4.3"/><circle cx="1325.4" cy="1330.8" r="4.3"/><circle cx="1243.0" cy="1332.5" r="4.3"/><circle cx="1223.9" cy="1334.6" r="4.3"/><circle cx="1272.5" cy="1337.8" r="4.3"/><circle cx="1239.6" cy="1341.5" r="4.3"/><circle cx="1306.1" cy="1351.7" r="4.3"/><circle cx="1327.4" cy="1352.5" r="4.3"/><circle cx="1222.6" cy="1351.2" r="4.3"/><circle cx="1268.5" cy="1355.0" r="4.3"/><circle cx="1409.7" cy="1349.7" r="4.3"/><circle cx="1384.9" cy="1357.2" r="4.3"/><circle cx="1227.5" cy="1361.0" r="4.3"/><circle cx="1233.3" cy="1360.6" r="4.3"/><circle cx="1414.2" cy="1363.9" r="4.3"/><circle cx="1462.5" cy="1339.5" r="4.3"/><circle cx="1460.2" cy="1361.2" r="4.3"/><circle cx="1565.6" cy="1364.7" r="4.3"/><circle cx="783.6" cy="1271.5" r="4.3"/><circle cx="736.1" cy="1284.1" r="4.3"/><circle cx="787.3" cy="1309.4" r="4.3"/><circle cx="809.3" cy="1313.3" r="4.3"/><circle cx="742.3" cy="1351.7" r="4.3"/><circle cx="773.8" cy="1361.4" r="4.3"/><circle cx="354.4" cy="1345.9" r="4.3"/><circle cx="445.3" cy="1230.1" r="4.3"/><circle cx="825.7" cy="1284.5" r="4.3"/><circle cx="820.4" cy="1338.4" r="4.3"/><circle cx="830.1" cy="1356.7" r="4.3"/><circle cx="847.7" cy="1307.0" r="4.3"/><circle cx="853.0" cy="1338.4" r="4.3"/><circle cx="858.3" cy="1284.5" r="4.3"/><circle cx="919.6" cy="1360.6" r="4.3"/><circle cx="977.9" cy="1363.3" r="4.3"/><circle cx="957.4" cy="1351.5" r="4.3"/><circle cx="872.3" cy="1343.7" r="4.3"/><circle cx="868.7" cy="1348.0" r="4.3"/><circle cx="874.4" cy="1362.7" r="4.3"/><circle cx="937.6" cy="1311.3" r="4.3"/><circle cx="884.0" cy="1357.8" r="4.3"/><circle cx="973.7" cy="1274.2" r="4.3"/><circle cx="964.7" cy="1350.0" r="4.3"/><circle cx="1035.8" cy="1364.1" r="4.3"/><circle cx="1014.8" cy="1355.0" r="4.3"/><circle cx="887.7" cy="1361.7" r="4.3"/><circle cx="916.9" cy="1313.2" r="4.3"/><circle cx="894.2" cy="1338.6" r="4.3"/><circle cx="975.7" cy="1351.2" r="4.3"/><circle cx="959.5" cy="1363.6" r="4.3"/><circle cx="872.6" cy="1358.5" r="4.3"/><circle cx="983.1" cy="1348.3" r="4.3"/><circle cx="917.9" cy="1338.3" r="4.3"/><circle cx="942.7" cy="1354.6" r="4.3"/><circle cx="1003.4" cy="1328.4" r="4.3"/><circle cx="905.4" cy="1339.2" r="4.3"/><circle cx="955.5" cy="1301.2" r="4.3"/><circle cx="991.8" cy="1355.1" r="4.3"/><circle cx="1036.5" cy="1361.7" r="4.3"/><circle cx="936.4" cy="1321.8" r="4.3"/><circle cx="889.1" cy="1344.8" r="4.3"/><circle cx="869.0" cy="1331.4" r="4.3"/><circle cx="998.1" cy="1339.3" r="4.3"/><circle cx="1017.8" cy="1354.0" r="4.3"/><circle cx="985.8" cy="1337.7" r="4.3"/><circle cx="965.2" cy="1346.7" r="4.3"/><circle cx="1011.5" cy="1275.9" r="4.3"/><circle cx="946.4" cy="1331.8" r="4.3"/><circle cx="872.8" cy="1328.2" r="4.3"/><circle cx="977.2" cy="1312.2" r="4.3"/><circle cx="912.7" cy="1350.5" r="4.3"/><circle cx="981.0" cy="1364.9" r="4.3"/><circle cx="944.2" cy="1359.9" r="4.3"/><circle cx="882.8" cy="1363.7" r="4.3"/><circle cx="998.7" cy="1361.3" r="4.3"/><circle cx="906.1" cy="1350.3" r="4.3"/><circle cx="1017.1" cy="1363.0" r="4.3"/><circle cx="942.0" cy="1340.9" r="4.3"/><circle cx="1019.2" cy="1312.6" r="4.3"/><circle cx="1015.8" cy="1355.5" r="4.3"/><circle cx="935.9" cy="1351.9" r="4.3"/><circle cx="1019.4" cy="1267.6" r="4.3"/><circle cx="888.9" cy="1359.6" r="4.3"/><circle cx="903.3" cy="1357.4" r="4.3"/><circle cx="948.3" cy="1338.1" r="4.3"/><circle cx="908.8" cy="1365.5" r="4.3"/><circle cx="936.6" cy="1351.3" r="4.3"/><circle cx="962.8" cy="1270.8" r="4.3"/><circle cx="984.9" cy="1343.2" r="4.3"/><circle cx="971.9" cy="1330.7" r="4.3"/><circle cx="871.6" cy="1294.4" r="4.3"/><circle cx="1000.8" cy="1301.3" r="4.3"/><circle cx="1004.0" cy="1350.2" r="4.3"/><circle cx="933.0" cy="1362.2" r="4.3"/><circle cx="974.9" cy="1363.6" r="4.3"/><circle cx="874.0" cy="1358.4" r="4.3"/><circle cx="890.9" cy="1352.7" r="4.3"/><circle cx="871.4" cy="1365.6" r="4.3"/><circle cx="888.9" cy="1362.3" r="4.3"/><circle cx="926.7" cy="1364.8" r="4.3"/><circle cx="1017.6" cy="1336.1" r="4.3"/><circle cx="888.4" cy="1356.6" r="4.3"/><circle cx="923.8" cy="1351.6" r="4.3"/><circle cx="883.9" cy="1307.1" r="4.3"/><circle cx="1038.8" cy="1346.2" r="4.3"/><circle cx="948.1" cy="1362.8" r="4.3"/><circle cx="880.2" cy="1352.6" r="4.3"/><circle cx="909.1" cy="1310.9" r="4.3"/><circle cx="890.7" cy="1364.9" r="4.3"/><circle cx="1031.3" cy="1342.3" r="4.3"/><circle cx="888.1" cy="1341.3" r="4.3"/><circle cx="866.8" cy="1342.4" r="4.3"/><circle cx="1036.2" cy="1304.0" r="4.3"/><circle cx="985.9" cy="1356.2" r="4.3"/><circle cx="927.3" cy="1360.0" r="4.3"/><circle cx="999.4" cy="1342.1" r="4.3"/><circle cx="1000.7" cy="1353.2" r="4.3"/><circle cx="901.7" cy="1313.9" r="4.3"/><circle cx="1037.3" cy="1306.3" r="4.3"/><circle cx="1005.5" cy="1312.8" r="4.3"/><circle cx="993.7" cy="1357.7" r="4.3"/><circle cx="954.1" cy="1352.0" r="4.3"/><circle cx="867.2" cy="1364.7" r="4.3"/><circle cx="911.7" cy="1356.3" r="4.3"/><circle cx="985.3" cy="1268.5" r="4.3"/><circle cx="941.6" cy="1280.0" r="4.3"/><circle cx="1037.9" cy="1269.5" r="4.3"/><circle cx="926.9" cy="1357.9" r="4.3"/><circle cx="902.4" cy="1358.8" r="4.3"/><circle cx="898.4" cy="1335.3" r="4.3"/><circle cx="1022.3" cy="1308.8" r="4.3"/><circle cx="947.3" cy="1332.8" r="4.3"/><circle cx="1004.3" cy="1362.9" r="4.3"/><circle cx="979.6" cy="1291.1" r="4.3"/><circle cx="1001.2" cy="1322.7" r="4.3"/><circle cx="947.1" cy="1359.5" r="4.3"/><circle cx="1002.5" cy="1353.1" r="4.3"/><circle cx="1004.5" cy="1350.0" r="4.3"/><circle cx="933.4" cy="1274.7" r="4.3"/><circle cx="991.0" cy="1359.8" r="4.3"/><circle cx="884.6" cy="1360.5" r="4.3"/><circle cx="1023.1" cy="1314.7" r="4.3"/><circle cx="888.0" cy="1311.4" r="4.3"/><circle cx="1036.5" cy="1332.4" r="4.3"/><circle cx="924.4" cy="1341.0" r="4.3"/><circle cx="885.3" cy="1365.2" r="4.3"/><circle cx="1034.8" cy="1333.1" r="4.3"/><circle cx="955.7" cy="1281.6" r="4.3"/><circle cx="939.2" cy="1302.0" r="4.3"/><circle cx="1009.1" cy="1358.3" r="4.3"/><circle cx="906.8" cy="1354.9" r="4.3"/><circle cx="904.8" cy="1338.3" r="4.3"/><circle cx="908.2" cy="1348.8" r="4.3"/><circle cx="885.3" cy="1291.0" r="4.3"/><circle cx="925.0" cy="1346.6" r="4.3"/><circle cx="965.8" cy="1292.9" r="4.3"/><circle cx="936.9" cy="1288.2" r="4.3"/><circle cx="951.3" cy="1342.1" r="4.3"/><circle cx="955.2" cy="1365.0" r="4.3"/><circle cx="940.3" cy="1359.4" r="4.3"/><circle cx="862.7" cy="1315.9" r="4.3"/><circle cx="892.7" cy="1345.7" r="4.3"/><circle cx="991.1" cy="1340.4" r="4.3"/><circle cx="920.0" cy="1343.0" r="4.3"/><circle cx="960.9" cy="1318.1" r="4.3"/><circle cx="880.9" cy="1340.2" r="4.3"/><circle cx="906.2" cy="1355.6" r="4.3"/><circle cx="999.5" cy="1343.7" r="4.3"/><circle cx="962.0" cy="1321.4" r="4.3"/><circle cx="1024.4" cy="1347.5" r="4.3"/><circle cx="971.0" cy="1343.8" r="4.3"/><circle cx="953.2" cy="1329.1" r="4.3"/><circle cx="942.5" cy="1342.0" r="4.3"/><circle cx="947.1" cy="1277.7" r="4.3"/><circle cx="986.5" cy="1300.8" r="4.3"/><circle cx="1029.7" cy="1356.3" r="4.3"/><circle cx="961.6" cy="1276.7" r="4.3"/><circle cx="1011.5" cy="1361.1" r="4.3"/><circle cx="883.6" cy="1347.5" r="4.3"/><circle cx="874.9" cy="1357.1" r="4.3"/><circle cx="875.0" cy="1331.3" r="4.3"/><circle cx="1001.5" cy="1295.2" r="4.3"/><circle cx="889.5" cy="1326.6" r="4.3"/><circle cx="992.4" cy="1352.3" r="4.3"/><circle cx="1023.6" cy="1344.2" r="4.3"/><circle cx="1033.4" cy="1321.8" r="4.3"/><circle cx="968.2" cy="1350.4" r="4.3"/><circle cx="960.4" cy="1303.1" r="4.3"/><circle cx="947.5" cy="1346.8" r="4.3"/><circle cx="944.6" cy="1363.9" r="4.3"/><circle cx="977.6" cy="1315.6" r="4.3"/><circle cx="902.5" cy="1330.9" r="4.3"/><circle cx="987.3" cy="1303.7" r="4.3"/><circle cx="909.0" cy="1356.1" r="4.3"/><circle cx="937.2" cy="1362.1" r="4.3"/><circle cx="1009.1" cy="1338.4" r="4.3"/><circle cx="918.1" cy="1318.3" r="4.3"/><circle cx="1027.6" cy="1339.8" r="4.3"/><circle cx="920.9" cy="1292.7" r="4.3"/><circle cx="998.1" cy="1357.5" r="4.3"/><circle cx="908.1" cy="1265.2" r="4.3"/><circle cx="959.5" cy="1359.1" r="4.3"/><circle cx="1031.4" cy="1278.9" r="4.3"/><circle cx="1012.2" cy="1358.1" r="4.3"/><circle cx="1019.9" cy="1359.7" r="4.3"/><circle cx="1020.8" cy="1313.5" r="4.3"/><circle cx="947.5" cy="1296.2" r="4.3"/><circle cx="1029.7" cy="1338.7" r="4.3"/><circle cx="918.1" cy="1301.1" r="4.3"/><circle cx="933.4" cy="1355.6" r="4.3"/><circle cx="922.6" cy="1361.2" r="4.3"/><circle cx="928.2" cy="1333.4" r="4.3"/><circle cx="942.7" cy="1336.1" r="4.3"/><circle cx="970.0" cy="1348.7" r="4.3"/><circle cx="948.6" cy="1364.0" r="4.3"/><circle cx="935.1" cy="1364.3" r="4.3"/><circle cx="1002.6" cy="1296.6" r="4.3"/><circle cx="926.5" cy="1310.1" r="4.3"/><circle cx="1030.8" cy="1355.9" r="4.3"/><circle cx="1014.6" cy="1316.8" r="4.3"/><circle cx="969.3" cy="1322.6" r="4.3"/><circle cx="970.9" cy="1265.3" r="4.3"/><circle cx="1037.5" cy="1329.4" r="4.3"/><circle cx="1016.5" cy="1278.5" r="4.3"/><circle cx="956.7" cy="1328.8" r="4.3"/><circle cx="907.6" cy="1353.6" r="4.3"/><circle cx="909.9" cy="1340.2" r="4.3"/><circle cx="922.9" cy="1358.0" r="4.3"/><circle cx="1017.8" cy="1269.9" r="4.3"/><circle cx="939.5" cy="1341.7" r="4.3"/><circle cx="941.0" cy="1312.6" r="4.3"/><circle cx="922.1" cy="1314.7" r="4.3"/><circle cx="936.9" cy="1297.3" r="4.3"/><circle cx="934.2" cy="1333.7" r="4.3"/><circle cx="949.9" cy="1365.5" r="4.3"/><circle cx="953.4" cy="1310.1" r="4.3"/><circle cx="970.4" cy="1346.3" r="4.3"/><circle cx="970.7" cy="1365.2" r="4.3"/><circle cx="937.0" cy="1357.5" r="4.3"/><circle cx="955.9" cy="1362.0" r="4.3"/><circle cx="903.1" cy="1334.3" r="4.3"/><circle cx="932.6" cy="1289.7" r="4.3"/><circle cx="974.1" cy="1273.2" r="4.3"/><circle cx="1000.2" cy="1323.1" r="4.3"/><circle cx="945.7" cy="1351.7" r="4.3"/><circle cx="1001.4" cy="1276.8" r="4.3"/><circle cx="906.1" cy="1280.5" r="4.3"/><circle cx="1002.7" cy="1352.7" r="4.3"/><circle cx="973.3" cy="1305.1" r="4.3"/><circle cx="1016.9" cy="1290.0" r="4.3"/><circle cx="1025.0" cy="1266.6" r="4.3"/><circle cx="997.1" cy="1343.1" r="4.3"/><circle cx="904.4" cy="1353.3" r="4.3"/><circle cx="950.5" cy="1356.1" r="4.3"/><circle cx="1017.0" cy="1295.1" r="4.3"/><circle cx="987.9" cy="1280.8" r="4.3"/><circle cx="995.3" cy="1307.7" r="4.3"/><circle cx="900.5" cy="1305.4" r="4.3"/><circle cx="1088.2" cy="1310.5" r="4.3"/><circle cx="1045.9" cy="1297.3" r="4.3"/><circle cx="1062.7" cy="1361.7" r="4.3"/><circle cx="1063.9" cy="1298.7" r="4.3"/><circle cx="1058.5" cy="1296.7" r="4.3"/><circle cx="1127.8" cy="1330.8" r="4.3"/><circle cx="1074.4" cy="1332.2" r="4.3"/><circle cx="1101.5" cy="1291.1" r="4.3"/><circle cx="1095.5" cy="1312.9" r="4.3"/><circle cx="1047.0" cy="1357.5" r="4.3"/><circle cx="1062.9" cy="1296.0" r="4.3"/><circle cx="1067.4" cy="1322.7" r="4.3"/><circle cx="1041.1" cy="1362.4" r="4.3"/><circle cx="1064.2" cy="1308.6" r="4.3"/><circle cx="1102.3" cy="1308.0" r="4.3"/><circle cx="1066.2" cy="1328.4" r="4.3"/><circle cx="1081.8" cy="1333.5" r="4.3"/><circle cx="1050.7" cy="1354.2" r="4.3"/><circle cx="1128.0" cy="1364.7" r="4.3"/><circle cx="1081.3" cy="1277.9" r="4.3"/><circle cx="1127.1" cy="1335.1" r="4.3"/><circle cx="1064.2" cy="1353.6" r="4.3"/><circle cx="1125.1" cy="1353.5" r="4.3"/><circle cx="1092.3" cy="1357.8" r="4.3"/><circle cx="1087.2" cy="1358.3" r="4.3"/><circle cx="1113.8" cy="1329.2" r="4.3"/><circle cx="1119.8" cy="1303.4" r="4.3"/><circle cx="1060.8" cy="1331.5" r="4.3"/><circle cx="1042.2" cy="1365.4" r="4.3"/><circle cx="1084.3" cy="1334.9" r="4.3"/><circle cx="1067.2" cy="1357.9" r="4.3"/><circle cx="1071.0" cy="1346.2" r="4.3"/><circle cx="1115.6" cy="1365.5" r="4.3"/><circle cx="1107.6" cy="1272.1" r="4.3"/><circle cx="1050.8" cy="1301.7" r="4.3"/><circle cx="1121.1" cy="1348.1" r="4.3"/><circle cx="1073.5" cy="1340.1" r="4.3"/><circle cx="1129.9" cy="1320.1" r="4.3"/><circle cx="1072.5" cy="1337.0" r="4.3"/><circle cx="1064.8" cy="1363.1" r="4.3"/><circle cx="1049.2" cy="1273.5" r="4.3"/><circle cx="1065.7" cy="1350.9" r="4.3"/><circle cx="1063.9" cy="1329.0" r="4.3"/><circle cx="1057.1" cy="1341.7" r="4.3"/><circle cx="1126.1" cy="1280.1" r="4.3"/><circle cx="1096.8" cy="1324.8" r="4.3"/><circle cx="1104.8" cy="1363.0" r="4.3"/><circle cx="1105.9" cy="1334.9" r="4.3"/><circle cx="1107.7" cy="1312.7" r="4.3"/><circle cx="1065.8" cy="1363.0" r="4.3"/><circle cx="1213.4" cy="1357.2" r="4.3"/><circle cx="1172.5" cy="1339.5" r="4.3"/><circle cx="1156.8" cy="1282.4" r="4.3"/><circle cx="1217.9" cy="1346.9" r="4.3"/><circle cx="1189.0" cy="1343.4" r="4.3"/><circle cx="1180.2" cy="1334.5" r="4.3"/><circle cx="1145.1" cy="1354.7" r="4.3"/><circle cx="1148.7" cy="1323.0" r="4.3"/><circle cx="1149.8" cy="1328.6" r="4.3"/><circle cx="1142.6" cy="1352.4" r="4.3"/><circle cx="1138.2" cy="1339.7" r="4.3"/><circle cx="1138.2" cy="1348.7" r="4.3"/><circle cx="1153.3" cy="1313.4" r="4.3"/><circle cx="1209.9" cy="1279.8" r="4.3"/><circle cx="1167.2" cy="1332.5" r="4.3"/><circle cx="1177.2" cy="1336.3" r="4.3"/><circle cx="1160.4" cy="1361.7" r="4.3"/><circle cx="1155.0" cy="1357.3" r="4.3"/><circle cx="1175.3" cy="1304.1" r="4.3"/><circle cx="1207.7" cy="1350.5" r="4.3"/><circle cx="1154.4" cy="1347.9" r="4.3"/><circle cx="1166.0" cy="1329.0" r="4.3"/><circle cx="1215.9" cy="1364.3" r="4.3"/><circle cx="1132.9" cy="1289.0" r="4.3"/><circle cx="1210.6" cy="1325.9" r="4.3"/><circle cx="1182.8" cy="1365.6" r="4.3"/><circle cx="1165.2" cy="1347.9" r="4.3"/><circle cx="1139.8" cy="1355.2" r="4.3"/><circle cx="1177.0" cy="1294.6" r="4.3"/><circle cx="1214.7" cy="1286.4" r="4.3"/><circle cx="1188.3" cy="1275.9" r="4.3"/><circle cx="1171.2" cy="1315.9" r="4.3"/><circle cx="1133.6" cy="1271.2" r="4.3"/><circle cx="1150.9" cy="1301.4" r="4.3"/><circle cx="1157.3" cy="1357.1" r="4.3"/><circle cx="1152.7" cy="1303.0" r="4.3"/><circle cx="1192.9" cy="1358.3" r="4.3"/><circle cx="1136.3" cy="1319.6" r="4.3"/><circle cx="1182.5" cy="1335.2" r="4.3"/><circle cx="1150.1" cy="1308.7" r="4.3"/><circle cx="1130.9" cy="1343.4" r="4.3"/><circle cx="1171.5" cy="1301.5" r="4.3"/><circle cx="1209.5" cy="1325.7" r="4.3"/><circle cx="1151.1" cy="1348.0" r="4.3"/><circle cx="1039.0" cy="1304.5" r="4.3"/></g>
<g clip-path="url(#cB)" fill="#d62728" fill-opacity="0.9" ><circle cx="704.8" cy="1394.7" r="6.1"/><circle cx="709.2" cy="1409.9" r="6.1"/><circle cx="723.6" cy="1401.3" r="6.1"/><circle cx="739.1" cy="1403.5" r="6.1"/><circle cx="737.4" cy="1418.5" r="6.1"/><circle cx="784.7" cy="1396.9" r="6.1"/><circle cx="841.0" cy="1411.9" r="6.1"/><circle cx="866.8" cy="1374.8" r="6.1"/><circle cx="901.6" cy="1380.4" r="6.1"/><circle cx="860.3" cy="1400.7" r="6.1"/><circle cx="879.7" cy="1401.9" r="6.1"/><circle cx="939.9" cy="1398.9" r="6.1"/><circle cx="882.9" cy="1412.1" r="6.1"/><circle cx="885.5" cy="1412.6" r="6.1"/><circle cx="874.5" cy="1416.0" r="6.1"/><circle cx="861.0" cy="1417.1" r="6.1"/><circle cx="866.8" cy="1418.6" r="6.1"/><circle cx="576.3" cy="1419.5" r="6.1"/><circle cx="577.2" cy="1419.5" r="6.1"/><circle cx="648.1" cy="1419.5" r="6.1"/><circle cx="645.8" cy="1419.5" r="6.1"/><circle cx="858.1" cy="1419.5" r="6.1"/><circle cx="863.2" cy="1419.5" r="6.1"/><circle cx="855.5" cy="1419.5" r="6.1"/><circle cx="864.2" cy="1419.5" r="6.1"/><circle cx="878.1" cy="1419.5" r="6.1"/><circle cx="878.4" cy="1419.5" r="6.1"/><circle cx="841.6" cy="1419.5" r="6.1"/><circle cx="846.8" cy="1419.5" r="6.1"/><circle cx="852.6" cy="1419.5" r="6.1"/><circle cx="857.7" cy="1419.5" r="6.1"/><circle cx="862.9" cy="1419.5" r="6.1"/><circle cx="875.8" cy="1419.5" r="6.1"/><circle cx="889.4" cy="1419.5" r="6.1"/><circle cx="870.6" cy="1419.5" r="6.1"/><circle cx="864.2" cy="1419.5" r="6.1"/><circle cx="879.0" cy="1419.5" r="6.1"/><circle cx="887.4" cy="1419.5" r="6.1"/><circle cx="881.0" cy="1419.5" r="6.1"/><circle cx="821.0" cy="1419.5" r="6.1"/><circle cx="857.7" cy="1419.5" r="6.1"/><circle cx="870.6" cy="1419.5" r="6.1"/><circle cx="861.6" cy="1419.5" r="6.1"/><circle cx="870.6" cy="1419.5" r="6.1"/><circle cx="904.2" cy="1419.5" r="6.1"/><circle cx="860.3" cy="1419.5" r="6.1"/><circle cx="868.1" cy="1419.5" r="6.1"/><circle cx="885.9" cy="1419.5" r="6.1"/><circle cx="899.0" cy="1419.5" r="6.1"/><circle cx="863.2" cy="1419.5" r="6.1"/><circle cx="909.4" cy="1419.5" r="6.1"/><circle cx="964.1" cy="1419.5" r="6.1"/><circle cx="976.1" cy="1419.5" r="6.1"/><circle cx="1008.1" cy="1419.5" r="6.1"/><circle cx="866.8" cy="1419.5" r="6.1"/><circle cx="855.2" cy="1419.5" r="6.1"/><circle cx="862.9" cy="1419.5" r="6.1"/><circle cx="864.2" cy="1419.5" r="6.1"/><circle cx="866.8" cy="1419.5" r="6.1"/><circle cx="877.4" cy="1381.8" r="6.1"/><circle cx="878.9" cy="1150.1" r="6.1"/><circle cx="939.7" cy="1091.4" r="6.1"/><circle cx="873.5" cy="1315.5" r="6.1"/><circle cx="1037.1" cy="1263.8" r="6.1"/><circle cx="1018.1" cy="799.9" r="6.1"/></g>
<g clip-path="url(#cB)" fill="none" fill-opacity="1" stroke="#000" stroke-width="2"><circle cx="882.9" cy="1370.4" r="5.1"/><circle cx="942.6" cy="1366.3" r="5.1"/><circle cx="926.4" cy="1395.6" r="5.1"/><circle cx="951.9" cy="1404.1" r="5.1"/><circle cx="913.2" cy="1410.7" r="5.1"/><circle cx="973.0" cy="1401.2" r="5.1"/><circle cx="980.3" cy="1413.9" r="5.1"/><circle cx="1039.3" cy="1305.6" r="5.1"/><circle cx="866.1" cy="1409.2" r="5.1"/><circle cx="866.1" cy="1412.1" r="5.1"/><circle cx="865.5" cy="1414.2" r="5.1"/><circle cx="866.8" cy="1414.9" r="5.1"/><circle cx="868.7" cy="1418.5" r="5.1"/><circle cx="865.5" cy="1418.8" r="5.1"/><circle cx="858.1" cy="1419.5" r="5.1"/><circle cx="863.2" cy="1419.5" r="5.1"/><circle cx="855.5" cy="1419.5" r="5.1"/><circle cx="866.1" cy="1419.5" r="5.1"/><circle cx="868.7" cy="1419.5" r="5.1"/><circle cx="866.8" cy="1419.5" r="5.1"/><circle cx="875.8" cy="1419.5" r="5.1"/><circle cx="862.9" cy="1419.5" r="5.1"/><circle cx="889.4" cy="1419.5" r="5.1"/><circle cx="864.2" cy="1419.5" r="5.1"/><circle cx="868.7" cy="1419.5" r="5.1"/><circle cx="879.0" cy="1419.5" r="5.1"/><circle cx="854.5" cy="1419.5" r="5.1"/><circle cx="862.3" cy="1419.5" r="5.1"/><circle cx="857.7" cy="1419.5" r="5.1"/><circle cx="864.2" cy="1419.5" r="5.1"/><circle cx="868.1" cy="1419.5" r="5.1"/><circle cx="862.9" cy="1419.5" r="5.1"/><circle cx="866.1" cy="1419.5" r="5.1"/><circle cx="866.1" cy="1419.5" r="5.1"/><circle cx="868.1" cy="1419.5" r="5.1"/><circle cx="824.2" cy="1419.5" r="5.1"/><circle cx="750.6" cy="1419.5" r="5.1"/><circle cx="748.1" cy="1419.5" r="5.1"/><circle cx="909.4" cy="1419.5" r="5.1"/><circle cx="929.0" cy="1419.5" r="5.1"/><circle cx="928.4" cy="1419.5" r="5.1"/><circle cx="930.3" cy="1419.5" r="5.1"/><circle cx="941.3" cy="1419.5" r="5.1"/><circle cx="956.8" cy="1419.5" r="5.1"/><circle cx="965.2" cy="1419.5" r="5.1"/><circle cx="969.9" cy="1419.5" r="5.1"/><circle cx="1024.8" cy="1419.5" r="5.1"/><circle cx="1099.7" cy="1419.5" r="5.1"/><circle cx="1136.5" cy="1419.5" r="5.1"/><circle cx="1224.8" cy="1419.5" r="5.1"/><circle cx="863.5" cy="1419.5" r="5.1"/><circle cx="861.6" cy="1419.5" r="5.1"/><circle cx="865.5" cy="1419.5" r="5.1"/><circle cx="860.3" cy="1419.5" r="5.1"/><circle cx="864.2" cy="1419.5" r="5.1"/><circle cx="862.9" cy="1419.5" r="5.1"/><circle cx="865.5" cy="1419.5" r="5.1"/><circle cx="866.9" cy="1372.4" r="5.1"/><circle cx="866.9" cy="1374.8" r="5.1"/><circle cx="866.9" cy="1377.2" r="5.1"/><circle cx="866.9" cy="1379.4" r="5.1"/><circle cx="866.9" cy="1381.2" r="5.1"/></g>
<path d="M978.9,792.6V153.0" stroke="#000" stroke-width="2.1" stroke-dasharray="7.3,2.8" fill="none"/>
<path d="M214.8,341.1H1702.0" stroke="#000" stroke-width="2.1" stroke-dasharray="7.3,2.8" fill="none"/>
<path d="M214.8,459.0H1702.0" stroke="#000" stroke-width="2.1" stroke-dasharray="7.3,2.8" fill="none"/>
<path d="M978.9,1419.5V907.6" stroke="#000" stroke-width="2.1" stroke-dasharray="7.3,2.8" fill="none"/>
<path d="M214.8,1365.6H1702.0" stroke="#000" stroke-width="2.1" stroke-dasharray="7.3,2.8" fill="none"/>
<g stroke="#000" stroke-width="2.9" fill="none" stroke-linecap="square">
<rect x="214.8" y="153.0" width="1487.2" height="639.6"/>
<path d="M214.8,281.0H1702.0"/>
<rect x="214.8" y="907.6" width="1487.2" height="511.9"/>
</g>
<g stroke="#000" stroke-width="2.9" fill="none">
<path d="M309.0,792.6v13.2M309.0,1419.5v13.2"/>
<path d="M588.1,792.6v13.2M588.1,1419.5v13.2"/>
<path d="M867.2,792.6v13.2M867.2,1419.5v13.2"/>
<path d="M1146.4,792.6v13.2M1146.4,1419.5v13.2"/>
<path d="M1425.5,792.6v13.2M1425.5,1419.5v13.2"/>
<path d="M214.8,347.8h-13.2"/>
<path d="M214.8,436.8h-13.2"/>
<path d="M214.8,525.7h-13.2"/>
<path d="M214.8,614.7h-13.2"/>
<path d="M214.8,703.6h-13.2"/>
<path d="M214.8,792.6h-13.2"/>
<path d="M214.8,1419.5h-13.2"/>
<path d="M214.8,1284.8h-13.2"/>
<path d="M214.8,1150.1h-13.2"/>
<path d="M214.8,1015.4h-13.2"/>
</g>
<text x="268.4" y="849" font-size="42" textLength="29" lengthAdjust="spacingAndGlyphs">−</text>
<text x="300.7" y="849" font-size="42" textLength="52" lengthAdjust="spacingAndGlyphs">1.0</text>
<text x="268.4" y="1475" font-size="42" textLength="29" lengthAdjust="spacingAndGlyphs">−</text>
<text x="300.7" y="1475" font-size="42" textLength="52" lengthAdjust="spacingAndGlyphs">1.0</text>
<text x="547.5" y="849" font-size="42" textLength="29" lengthAdjust="spacingAndGlyphs">−</text>
<text x="579.8" y="849" font-size="42" textLength="52" lengthAdjust="spacingAndGlyphs">0.5</text>
<text x="547.5" y="1475" font-size="42" textLength="29" lengthAdjust="spacingAndGlyphs">−</text>
<text x="579.8" y="1475" font-size="42" textLength="52" lengthAdjust="spacingAndGlyphs">0.5</text>
<text x="867.2" y="849.0" font-size="42" text-anchor="middle" textLength="52" lengthAdjust="spacingAndGlyphs">0.0</text>
<text x="867.2" y="1475.0" font-size="42" text-anchor="middle" textLength="52" lengthAdjust="spacingAndGlyphs">0.0</text>
<text x="1146.4" y="849.0" font-size="42" text-anchor="middle" textLength="52" lengthAdjust="spacingAndGlyphs">0.5</text>
<text x="1146.4" y="1475.0" font-size="42" text-anchor="middle" textLength="52" lengthAdjust="spacingAndGlyphs">0.5</text>
<text x="1425.5" y="849.0" font-size="42" text-anchor="middle" textLength="52" lengthAdjust="spacingAndGlyphs">1.0</text>
<text x="1425.5" y="1475.0" font-size="42" text-anchor="middle" textLength="52" lengthAdjust="spacingAndGlyphs">1.0</text>
<text x="170.8" y="362.0" font-size="42" text-anchor="end" textLength="41.5" lengthAdjust="spacingAndGlyphs">10</text>
<text x="187.3" y="346.8" font-size="30" text-anchor="end" textLength="14" lengthAdjust="spacingAndGlyphs">0</text>
<text x="146.3" y="451.0" font-size="42" text-anchor="end" textLength="41.5" lengthAdjust="spacingAndGlyphs">10</text>
<text x="187.3" y="435.8" font-size="30" text-anchor="end" textLength="38.5" lengthAdjust="spacingAndGlyphs">−4</text>
<text x="146.3" y="539.9" font-size="42" text-anchor="end" textLength="41.5" lengthAdjust="spacingAndGlyphs">10</text>
<text x="187.3" y="524.7" font-size="30" text-anchor="end" textLength="38.5" lengthAdjust="spacingAndGlyphs">−8</text>
<text x="128.8" y="628.9" font-size="42" text-anchor="end" textLength="41.5" lengthAdjust="spacingAndGlyphs">10</text>
<text x="187.3" y="613.7" font-size="30" text-anchor="end" textLength="56" lengthAdjust="spacingAndGlyphs">−12</text>
<text x="128.8" y="717.8" font-size="42" text-anchor="end" textLength="41.5" lengthAdjust="spacingAndGlyphs">10</text>
<text x="187.3" y="702.6" font-size="30" text-anchor="end" textLength="56" lengthAdjust="spacingAndGlyphs">−16</text>
<text x="128.8" y="806.8" font-size="42" text-anchor="end" textLength="41.5" lengthAdjust="spacingAndGlyphs">10</text>
<text x="187.3" y="791.6" font-size="30" text-anchor="end" textLength="56" lengthAdjust="spacingAndGlyphs">−20</text>
<text x="188" y="1434.3" font-size="42" text-anchor="end" textLength="19" lengthAdjust="spacingAndGlyphs">0</text>
<text x="188" y="1299.6" font-size="42" text-anchor="end" textLength="19" lengthAdjust="spacingAndGlyphs">5</text>
<text x="188" y="1164.9" font-size="42" text-anchor="end" textLength="40" lengthAdjust="spacingAndGlyphs">10</text>
<text x="188" y="1030.2" font-size="42" text-anchor="end" textLength="40" lengthAdjust="spacingAndGlyphs">15</text>
<g transform="translate(52.4,536.5) rotate(-90)"><text x="-134.0" y="4" font-size="42" textLength="30" lengthAdjust="spacingAndGlyphs" >−</text><text x="-103.0" y="0" font-size="42" textLength="26" lengthAdjust="spacingAndGlyphs" font-style="italic">ω</text><text x="-99.0" y="-13" font-size="42" textLength="21" lengthAdjust="spacingAndGlyphs" >~</text><text x="-75.0" y="-15.5" font-size="30" textLength="13.5" lengthAdjust="spacingAndGlyphs" >2</text><text x="-76.0" y="11" font-size="30" textLength="52" lengthAdjust="spacingAndGlyphs" >min</text><text x="-4.5" y="3" font-size="49" textLength="12" lengthAdjust="spacingAndGlyphs" >[</text><text x="8.0" y="0" font-size="42" textLength="99" lengthAdjust="spacingAndGlyphs" >eV/Å</text><text x="109.0" y="-25" font-size="30" textLength="14" lengthAdjust="spacingAndGlyphs" >2</text><text x="124.0" y="3" font-size="49" textLength="12" lengthAdjust="spacingAndGlyphs" >]</text></g>
<g transform="translate(112,1164) rotate(-90)"><text x="-134.0" y="4" font-size="42" textLength="30" lengthAdjust="spacingAndGlyphs" >−</text><text x="-103.0" y="0" font-size="42" textLength="26" lengthAdjust="spacingAndGlyphs" font-style="italic">ω</text><text x="-99.0" y="-13" font-size="42" textLength="21" lengthAdjust="spacingAndGlyphs" >~</text><text x="-75.0" y="-15.5" font-size="30" textLength="13.5" lengthAdjust="spacingAndGlyphs" >2</text><text x="-76.0" y="11" font-size="30" textLength="52" lengthAdjust="spacingAndGlyphs" >min</text><text x="-4.5" y="3" font-size="49" textLength="12" lengthAdjust="spacingAndGlyphs" >[</text><text x="8.0" y="0" font-size="42" textLength="99" lengthAdjust="spacingAndGlyphs" >eV/Å</text><text x="109.0" y="-25" font-size="30" textLength="14" lengthAdjust="spacingAndGlyphs" >2</text><text x="124.0" y="3" font-size="49" textLength="12" lengthAdjust="spacingAndGlyphs" >]</text></g>
<g><text x="797" y="1525.5" font-size="42" textLength="34" lengthAdjust="spacingAndGlyphs">Δ</text><text x="832" y="1525.5" font-size="42" font-style="italic" textLength="36" lengthAdjust="spacingAndGlyphs">H</text><text x="866" y="1534" font-size="30" textLength="52" lengthAdjust="spacingAndGlyphs">hull</text><text x="937" y="1525.5" font-size="42" textLength="181" lengthAdjust="spacingAndGlyphs">[eV/atom]</text></g>
<text transform="translate(308.6,698.8) rotate(-90)" font-size="42" textLength="215" lengthAdjust="spacingAndGlyphs">More stable</text>
<text x="375.6" y="734.7" font-size="42" textLength="214" lengthAdjust="spacingAndGlyphs">More stable</text>
<g stroke="#000" stroke-width="3.8" fill="none" stroke-linecap="round" stroke-linejoin="round">
<path d="M337,478V743M327.5,727L337,743.5L346.5,727"/>
<path d="M598,763.6H348M365,754L347.6,763.6L365,773.2"/>
</g>
<rect x="254.4" y="3.8" width="1412.9" height="93.9" rx="5.3" fill="#fff" stroke="#333" stroke-width="3.7"/>
<circle cx="296.7" cy="29.2" r="10.5" fill="#2ca02c" fill-opacity="0.6"/>
<circle cx="296.7" cy="71.6" r="10" fill="none" stroke="#000" stroke-width="2"/>
<circle cx="769.2" cy="29.2" r="10.5" fill="#1f77b4" fill-opacity="0.6"/>
<circle cx="769.2" cy="71.6" r="12.6" fill="#d62728" fill-opacity="0.9"/>
<circle cx="1286.2" cy="29.2" r="10.5" fill="#ff7f0e" fill-opacity="0.6"/>
<text x="352.6" y="37.8" font-size="31.5" textLength="319.8" lengthAdjust="spacingAndGlyphs" xml:space="preserve">High dynamic stability</text>
<text x="352.6" y="81.3" font-size="31.5" textLength="61.6" lengthAdjust="spacingAndGlyphs" xml:space="preserve">Exp.</text>
<text x="432.2" y="81.3" font-size="31.5" textLength="244" lengthAdjust="spacingAndGlyphs" xml:space="preserve">known monolayer</text>
<text x="825" y="37.8" font-size="31.5" textLength="368.5" lengthAdjust="spacingAndGlyphs" xml:space="preserve">Medium dynamic stability</text>
<text x="825" y="81.3" font-size="31.5" textLength="61.6" lengthAdjust="spacingAndGlyphs" xml:space="preserve">Exp.</text>
<text x="904.6" y="81.3" font-size="31.5" textLength="273.4" lengthAdjust="spacingAndGlyphs" xml:space="preserve">known layered bulk</text>
<text x="1342.4" y="37.8" font-size="31.5" textLength="311.9" lengthAdjust="spacingAndGlyphs" xml:space="preserve">Low dynamic stability</text>
</svg>
</body></html>
